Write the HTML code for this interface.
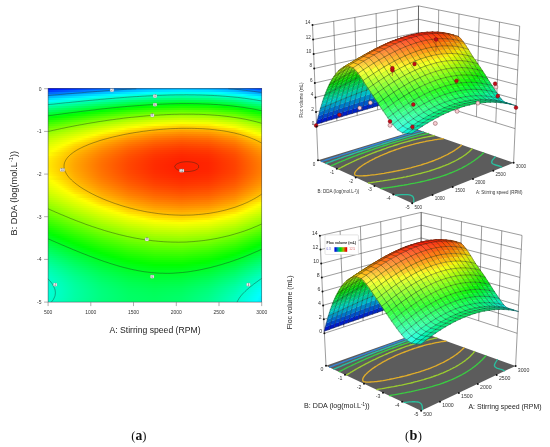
<!DOCTYPE html><html><head><meta charset="utf-8"><title>Figure</title><style>html,body{margin:0;padding:0;background:#fff}svg{display:block}.m{fill:none;stroke:#141414;stroke-width:4.2;stroke-opacity:0.8}</style></head><body><svg width="550" height="447" viewBox="0 0 550 447" font-family="'Liberation Sans',sans-serif"><defs><linearGradient id="r0"><stop offset="0%" stop-color="#000eff"/><stop offset="12.5%" stop-color="#0039ff"/><stop offset="25%" stop-color="#0067ff"/><stop offset="37.5%" stop-color="#0091ff"/><stop offset="50%" stop-color="#00b0ff"/><stop offset="62.5%" stop-color="#00beff"/><stop offset="75%" stop-color="#00b5ff"/><stop offset="87.5%" stop-color="#008fff"/><stop offset="100%" stop-color="#0045ff"/></linearGradient><linearGradient id="r1"><stop offset="0%" stop-color="#0039ff"/><stop offset="12.5%" stop-color="#0065ff"/><stop offset="25%" stop-color="#0093ff"/><stop offset="37.5%" stop-color="#00bdff"/><stop offset="50%" stop-color="#00dcff"/><stop offset="62.5%" stop-color="#00eaff"/><stop offset="75%" stop-color="#00e1ff"/><stop offset="87.5%" stop-color="#00bbff"/><stop offset="100%" stop-color="#0071ff"/></linearGradient><linearGradient id="r2"><stop offset="0%" stop-color="#0063ff"/><stop offset="12.5%" stop-color="#008fff"/><stop offset="25%" stop-color="#00bdff"/><stop offset="37.5%" stop-color="#00e7ff"/><stop offset="46.4%" stop-color="#00ffff"/><stop offset="50%" stop-color="#00fff7"/><stop offset="62.5%" stop-color="#00ffe9"/><stop offset="75%" stop-color="#00fff2"/><stop offset="80.7%" stop-color="#00ffff"/><stop offset="87.5%" stop-color="#00e6ff"/><stop offset="100%" stop-color="#009cff"/></linearGradient><linearGradient id="r3"><stop offset="0%" stop-color="#008bff"/><stop offset="12.5%" stop-color="#00b8ff"/><stop offset="25%" stop-color="#00e7ff"/><stop offset="32%" stop-color="#00ffff"/><stop offset="37.5%" stop-color="#00ffed"/><stop offset="50%" stop-color="#00ffce"/><stop offset="62.5%" stop-color="#00ffc0"/><stop offset="75%" stop-color="#00ffc8"/><stop offset="87.5%" stop-color="#00ffee"/><stop offset="91%" stop-color="#00ffff"/><stop offset="100%" stop-color="#00c6ff"/></linearGradient><linearGradient id="r4"><stop offset="0%" stop-color="#00b2ff"/><stop offset="12.5%" stop-color="#00dfff"/><stop offset="20.9%" stop-color="#00ffff"/><stop offset="25%" stop-color="#00fff0"/><stop offset="37.5%" stop-color="#00ffc5"/><stop offset="50%" stop-color="#00ffa6"/><stop offset="62.5%" stop-color="#00ff98"/><stop offset="75%" stop-color="#00ffa0"/><stop offset="87.5%" stop-color="#00ffc6"/><stop offset="97.7%" stop-color="#00ffff"/><stop offset="100%" stop-color="#00efff"/></linearGradient><linearGradient id="r5"><stop offset="0%" stop-color="#00d8ff"/><stop offset="10.7%" stop-color="#00ffff"/><stop offset="12.5%" stop-color="#00fff8"/><stop offset="25%" stop-color="#00ffc9"/><stop offset="37.5%" stop-color="#00ff9f"/><stop offset="50%" stop-color="#00ff7f"/><stop offset="62.5%" stop-color="#00ff71"/><stop offset="75%" stop-color="#00ff79"/><stop offset="87.5%" stop-color="#00ff9f"/><stop offset="100%" stop-color="#00ffe8"/></linearGradient><linearGradient id="r6"><stop offset="0%" stop-color="#00fcff"/><stop offset="12.5%" stop-color="#00ffd4"/><stop offset="25%" stop-color="#00ffa4"/><stop offset="37.5%" stop-color="#00ff7a"/><stop offset="50%" stop-color="#00ff5a"/><stop offset="62.5%" stop-color="#00ff4b"/><stop offset="75%" stop-color="#00ff54"/><stop offset="87.5%" stop-color="#00ff79"/><stop offset="100%" stop-color="#00ffc2"/></linearGradient><linearGradient id="r7"><stop offset="0%" stop-color="#00ffdf"/><stop offset="12.5%" stop-color="#00ffb0"/><stop offset="25%" stop-color="#00ff80"/><stop offset="37.5%" stop-color="#00ff56"/><stop offset="50%" stop-color="#00ff36"/><stop offset="62.5%" stop-color="#00ff27"/><stop offset="75%" stop-color="#00ff30"/><stop offset="87.5%" stop-color="#00ff55"/><stop offset="100%" stop-color="#00ff9e"/></linearGradient><linearGradient id="r8"><stop offset="0%" stop-color="#00ffbd"/><stop offset="12.5%" stop-color="#00ff8e"/><stop offset="25%" stop-color="#00ff5e"/><stop offset="37.5%" stop-color="#00ff33"/><stop offset="50%" stop-color="#00ff13"/><stop offset="62.5%" stop-color="#00ff05"/><stop offset="75%" stop-color="#00ff0d"/><stop offset="87.5%" stop-color="#00ff32"/><stop offset="100%" stop-color="#00ff7b"/></linearGradient><linearGradient id="r9"><stop offset="0%" stop-color="#00ff9c"/><stop offset="12.5%" stop-color="#00ff6d"/><stop offset="25%" stop-color="#00ff3d"/><stop offset="37.5%" stop-color="#00ff12"/><stop offset="43.8%" stop-color="#00ff00"/><stop offset="50%" stop-color="#0eff00"/><stop offset="62.5%" stop-color="#1dff00"/><stop offset="75%" stop-color="#15ff00"/><stop offset="83.1%" stop-color="#00ff00"/><stop offset="87.5%" stop-color="#00ff11"/><stop offset="100%" stop-color="#00ff59"/></linearGradient><linearGradient id="r10"><stop offset="0%" stop-color="#00ff7d"/><stop offset="12.5%" stop-color="#00ff4e"/><stop offset="25%" stop-color="#00ff1d"/><stop offset="33.1%" stop-color="#00ff00"/><stop offset="37.5%" stop-color="#0eff00"/><stop offset="50%" stop-color="#2eff00"/><stop offset="62.5%" stop-color="#3dff00"/><stop offset="75%" stop-color="#35ff00"/><stop offset="87.5%" stop-color="#10ff00"/><stop offset="90.8%" stop-color="#00ff00"/><stop offset="100%" stop-color="#00ff38"/></linearGradient><linearGradient id="r11"><stop offset="0%" stop-color="#00ff60"/><stop offset="12.5%" stop-color="#00ff2f"/><stop offset="24.6%" stop-color="#00ff00"/><stop offset="37.5%" stop-color="#2dff00"/><stop offset="50%" stop-color="#4dff00"/><stop offset="62.5%" stop-color="#5cff00"/><stop offset="75%" stop-color="#53ff00"/><stop offset="87.5%" stop-color="#2eff00"/><stop offset="96.3%" stop-color="#00ff00"/><stop offset="100%" stop-color="#00ff19"/></linearGradient><linearGradient id="r12"><stop offset="0%" stop-color="#00ff43"/><stop offset="12.5%" stop-color="#00ff12"/><stop offset="17.1%" stop-color="#00ff00"/><stop offset="25%" stop-color="#1fff00"/><stop offset="37.5%" stop-color="#4aff00"/><stop offset="50%" stop-color="#6aff00"/><stop offset="62.5%" stop-color="#79ff00"/><stop offset="75%" stop-color="#71ff00"/><stop offset="87.5%" stop-color="#4cff00"/><stop offset="100%" stop-color="#04ff00"/></linearGradient><linearGradient id="r13"><stop offset="0%" stop-color="#00ff28"/><stop offset="10.2%" stop-color="#00ff00"/><stop offset="12.5%" stop-color="#09ff00"/><stop offset="25%" stop-color="#3aff00"/><stop offset="37.5%" stop-color="#66ff00"/><stop offset="50%" stop-color="#86ff00"/><stop offset="62.5%" stop-color="#95ff00"/><stop offset="75%" stop-color="#8dff00"/><stop offset="87.5%" stop-color="#68ff00"/><stop offset="100%" stop-color="#21ff00"/></linearGradient><linearGradient id="r14"><stop offset="0%" stop-color="#00ff0e"/><stop offset="3.6%" stop-color="#00ff00"/><stop offset="12.5%" stop-color="#23ff00"/><stop offset="25%" stop-color="#55ff00"/><stop offset="37.5%" stop-color="#81ff00"/><stop offset="50%" stop-color="#a1ff00"/><stop offset="62.5%" stop-color="#b0ff00"/><stop offset="75%" stop-color="#a8ff00"/><stop offset="87.5%" stop-color="#83ff00"/><stop offset="100%" stop-color="#3cff00"/></linearGradient><linearGradient id="r15"><stop offset="0%" stop-color="#0bff00"/><stop offset="12.5%" stop-color="#3cff00"/><stop offset="25%" stop-color="#6eff00"/><stop offset="37.5%" stop-color="#9aff00"/><stop offset="50%" stop-color="#baff00"/><stop offset="62.5%" stop-color="#c9ff00"/><stop offset="75%" stop-color="#c2ff00"/><stop offset="87.5%" stop-color="#9dff00"/><stop offset="100%" stop-color="#56ff00"/></linearGradient><linearGradient id="r16"><stop offset="0%" stop-color="#22ff00"/><stop offset="12.5%" stop-color="#54ff00"/><stop offset="25%" stop-color="#86ff00"/><stop offset="37.5%" stop-color="#b2ff00"/><stop offset="50%" stop-color="#d3ff00"/><stop offset="62.5%" stop-color="#e2ff00"/><stop offset="75%" stop-color="#daff00"/><stop offset="87.5%" stop-color="#b5ff00"/><stop offset="100%" stop-color="#6fff00"/></linearGradient><linearGradient id="r17"><stop offset="0%" stop-color="#38ff00"/><stop offset="12.5%" stop-color="#6bff00"/><stop offset="25%" stop-color="#9dff00"/><stop offset="37.5%" stop-color="#c9ff00"/><stop offset="50%" stop-color="#eaff00"/><stop offset="62.5%" stop-color="#f9ff00"/><stop offset="75%" stop-color="#f1ff00"/><stop offset="87.5%" stop-color="#cdff00"/><stop offset="100%" stop-color="#86ff00"/></linearGradient><linearGradient id="r18"><stop offset="0%" stop-color="#4dff00"/><stop offset="12.5%" stop-color="#80ff00"/><stop offset="25%" stop-color="#b2ff00"/><stop offset="37.5%" stop-color="#dfff00"/><stop offset="49.9%" stop-color="#ffff00"/><stop offset="62.5%" stop-color="#ffe400"/><stop offset="75%" stop-color="#ffef00"/><stop offset="78.8%" stop-color="#ffff00"/><stop offset="87.5%" stop-color="#e3ff00"/><stop offset="100%" stop-color="#9cff00"/></linearGradient><linearGradient id="r19"><stop offset="0%" stop-color="#61ff00"/><stop offset="12.5%" stop-color="#94ff00"/><stop offset="25%" stop-color="#c7ff00"/><stop offset="37.5%" stop-color="#f3ff00"/><stop offset="41.4%" stop-color="#ffff00"/><stop offset="50%" stop-color="#ffdd00"/><stop offset="62.5%" stop-color="#ffca00"/><stop offset="75%" stop-color="#ffd300"/><stop offset="85.5%" stop-color="#ffff00"/><stop offset="87.5%" stop-color="#f7ff00"/><stop offset="100%" stop-color="#b1ff00"/></linearGradient><linearGradient id="r20"><stop offset="0%" stop-color="#73ff00"/><stop offset="12.5%" stop-color="#a7ff00"/><stop offset="25%" stop-color="#daff00"/><stop offset="35.2%" stop-color="#ffff00"/><stop offset="37.5%" stop-color="#fff000"/><stop offset="50%" stop-color="#ffc500"/><stop offset="62.5%" stop-color="#ffb400"/><stop offset="75%" stop-color="#ffbc00"/><stop offset="87.5%" stop-color="#ffe900"/><stop offset="90.1%" stop-color="#ffff00"/><stop offset="100%" stop-color="#c5ff00"/></linearGradient><linearGradient id="r21"><stop offset="0%" stop-color="#84ff00"/><stop offset="12.5%" stop-color="#b9ff00"/><stop offset="25%" stop-color="#ecff00"/><stop offset="30.1%" stop-color="#ffff00"/><stop offset="37.5%" stop-color="#ffd700"/><stop offset="50%" stop-color="#ffb100"/><stop offset="62.5%" stop-color="#ffa100"/><stop offset="75%" stop-color="#ffa900"/><stop offset="87.5%" stop-color="#ffd100"/><stop offset="93.7%" stop-color="#ffff00"/><stop offset="100%" stop-color="#d7ff00"/></linearGradient><linearGradient id="r22"><stop offset="0%" stop-color="#95ff00"/><stop offset="12.5%" stop-color="#c9ff00"/><stop offset="25%" stop-color="#fcff00"/><stop offset="37.5%" stop-color="#ffc200"/><stop offset="50%" stop-color="#ff9f00"/><stop offset="62.5%" stop-color="#ff9000"/><stop offset="75%" stop-color="#ff9700"/><stop offset="87.5%" stop-color="#ffbd00"/><stop offset="96.6%" stop-color="#ffff00"/><stop offset="100%" stop-color="#e9ff00"/></linearGradient><linearGradient id="r23"><stop offset="0%" stop-color="#a4ff00"/><stop offset="12.5%" stop-color="#d8ff00"/><stop offset="21.7%" stop-color="#ffff00"/><stop offset="25%" stop-color="#ffe700"/><stop offset="37.5%" stop-color="#ffb100"/><stop offset="50%" stop-color="#ff8f00"/><stop offset="62.5%" stop-color="#ff8100"/><stop offset="75%" stop-color="#ff8800"/><stop offset="87.5%" stop-color="#ffac00"/><stop offset="99.1%" stop-color="#ffff00"/></linearGradient><linearGradient id="r24"><stop offset="0%" stop-color="#b1ff00"/><stop offset="12.5%" stop-color="#e7ff00"/><stop offset="18.2%" stop-color="#ffff00"/><stop offset="25%" stop-color="#ffd400"/><stop offset="37.5%" stop-color="#ffa200"/><stop offset="50%" stop-color="#ff8100"/><stop offset="62.5%" stop-color="#ff7300"/><stop offset="75%" stop-color="#ff7a00"/><stop offset="87.5%" stop-color="#ff9c00"/><stop offset="100%" stop-color="#ffee00"/></linearGradient><linearGradient id="r25"><stop offset="0%" stop-color="#beff00"/><stop offset="12.5%" stop-color="#f4ff00"/><stop offset="15.1%" stop-color="#ffff00"/><stop offset="25%" stop-color="#ffc400"/><stop offset="37.5%" stop-color="#ff9400"/><stop offset="50%" stop-color="#ff7500"/><stop offset="62.5%" stop-color="#ff6600"/><stop offset="75%" stop-color="#ff6d00"/><stop offset="87.5%" stop-color="#ff8f00"/><stop offset="100%" stop-color="#ffdb00"/></linearGradient><linearGradient id="r26"><stop offset="0%" stop-color="#caff00"/><stop offset="12.3%" stop-color="#ffff00"/><stop offset="25%" stop-color="#ffb600"/><stop offset="37.5%" stop-color="#ff8800"/><stop offset="50%" stop-color="#ff6900"/><stop offset="62.5%" stop-color="#ff5b00"/><stop offset="75%" stop-color="#ff6200"/><stop offset="87.5%" stop-color="#ff8300"/><stop offset="100%" stop-color="#ffcb00"/></linearGradient><linearGradient id="r27"><stop offset="0%" stop-color="#d4ff00"/><stop offset="9.8%" stop-color="#ffff00"/><stop offset="12.5%" stop-color="#ffe900"/><stop offset="25%" stop-color="#ffaa00"/><stop offset="37.5%" stop-color="#ff7d00"/><stop offset="50%" stop-color="#ff5f00"/><stop offset="62.5%" stop-color="#ff5100"/><stop offset="75%" stop-color="#ff5800"/><stop offset="87.5%" stop-color="#ff7800"/><stop offset="100%" stop-color="#ffbd00"/></linearGradient><linearGradient id="r28"><stop offset="0%" stop-color="#deff00"/><stop offset="7.5%" stop-color="#ffff00"/><stop offset="12.5%" stop-color="#ffdb00"/><stop offset="25%" stop-color="#ffa000"/><stop offset="37.5%" stop-color="#ff7400"/><stop offset="50%" stop-color="#ff5600"/><stop offset="62.5%" stop-color="#ff4800"/><stop offset="75%" stop-color="#ff4f00"/><stop offset="87.5%" stop-color="#ff6e00"/><stop offset="100%" stop-color="#ffb200"/></linearGradient><linearGradient id="r29"><stop offset="0%" stop-color="#e7ff00"/><stop offset="5.5%" stop-color="#ffff00"/><stop offset="12.5%" stop-color="#ffd000"/><stop offset="25%" stop-color="#ff9700"/><stop offset="37.5%" stop-color="#ff6b00"/><stop offset="50%" stop-color="#ff4e00"/><stop offset="62.5%" stop-color="#ff4000"/><stop offset="75%" stop-color="#ff4700"/><stop offset="87.5%" stop-color="#ff6600"/><stop offset="100%" stop-color="#ffa800"/></linearGradient><linearGradient id="r30"><stop offset="0%" stop-color="#eeff00"/><stop offset="3.8%" stop-color="#ffff00"/><stop offset="12.5%" stop-color="#ffc700"/><stop offset="25%" stop-color="#ff8f00"/><stop offset="37.5%" stop-color="#ff6400"/><stop offset="50%" stop-color="#ff4600"/><stop offset="62.5%" stop-color="#ff3900"/><stop offset="75%" stop-color="#ff3f00"/><stop offset="87.5%" stop-color="#ff5e00"/><stop offset="100%" stop-color="#ff9f00"/></linearGradient><linearGradient id="r31"><stop offset="0%" stop-color="#f5ff00"/><stop offset="2.3%" stop-color="#ffff00"/><stop offset="12.5%" stop-color="#ffbf00"/><stop offset="25%" stop-color="#ff8800"/><stop offset="37.5%" stop-color="#ff5d00"/><stop offset="50%" stop-color="#ff4000"/><stop offset="62.5%" stop-color="#ff3300"/><stop offset="75%" stop-color="#ff3900"/><stop offset="87.5%" stop-color="#ff5800"/><stop offset="100%" stop-color="#ff9700"/></linearGradient><linearGradient id="r32"><stop offset="0%" stop-color="#fbff00"/><stop offset="12.5%" stop-color="#ffb800"/><stop offset="25%" stop-color="#ff8200"/><stop offset="37.5%" stop-color="#ff5800"/><stop offset="50%" stop-color="#ff3b00"/><stop offset="62.5%" stop-color="#ff2e00"/><stop offset="75%" stop-color="#ff3400"/><stop offset="87.5%" stop-color="#ff5200"/><stop offset="100%" stop-color="#ff9100"/></linearGradient><linearGradient id="r33"><stop offset="0%" stop-color="#fffe00"/><stop offset="12.5%" stop-color="#ffb200"/><stop offset="25%" stop-color="#ff7d00"/><stop offset="37.5%" stop-color="#ff5300"/><stop offset="50%" stop-color="#ff3600"/><stop offset="62.5%" stop-color="#ff2900"/><stop offset="75%" stop-color="#ff2f00"/><stop offset="87.5%" stop-color="#ff4d00"/><stop offset="100%" stop-color="#ff8c00"/></linearGradient><linearGradient id="r34"><stop offset="0%" stop-color="#fff500"/><stop offset="12.5%" stop-color="#ffae00"/><stop offset="25%" stop-color="#ff7900"/><stop offset="37.5%" stop-color="#ff4f00"/><stop offset="50%" stop-color="#ff3300"/><stop offset="62.5%" stop-color="#ff2600"/><stop offset="75%" stop-color="#ff2c00"/><stop offset="87.5%" stop-color="#ff4a00"/><stop offset="100%" stop-color="#ff8700"/></linearGradient><linearGradient id="r35"><stop offset="0%" stop-color="#fff000"/><stop offset="12.5%" stop-color="#ffaa00"/><stop offset="25%" stop-color="#ff7500"/><stop offset="37.5%" stop-color="#ff4c00"/><stop offset="50%" stop-color="#ff3000"/><stop offset="62.5%" stop-color="#ff2300"/><stop offset="75%" stop-color="#ff2900"/><stop offset="87.5%" stop-color="#ff4700"/><stop offset="100%" stop-color="#ff8400"/></linearGradient><linearGradient id="r36"><stop offset="0%" stop-color="#ffed00"/><stop offset="12.5%" stop-color="#ffa800"/><stop offset="25%" stop-color="#ff7300"/><stop offset="37.5%" stop-color="#ff4a00"/><stop offset="50%" stop-color="#ff2d00"/><stop offset="62.5%" stop-color="#ff2100"/><stop offset="75%" stop-color="#ff2700"/><stop offset="87.5%" stop-color="#ff4400"/><stop offset="100%" stop-color="#ff8100"/></linearGradient><linearGradient id="r37"><stop offset="0%" stop-color="#ffeb00"/><stop offset="12.5%" stop-color="#ffa600"/><stop offset="25%" stop-color="#ff7100"/><stop offset="37.5%" stop-color="#ff4800"/><stop offset="50%" stop-color="#ff2c00"/><stop offset="62.5%" stop-color="#ff1f00"/><stop offset="75%" stop-color="#ff2500"/><stop offset="87.5%" stop-color="#ff4300"/><stop offset="100%" stop-color="#ff7f00"/></linearGradient><linearGradient id="r38"><stop offset="0%" stop-color="#ffea00"/><stop offset="12.5%" stop-color="#ffa500"/><stop offset="25%" stop-color="#ff7000"/><stop offset="37.5%" stop-color="#ff4700"/><stop offset="50%" stop-color="#ff2b00"/><stop offset="62.5%" stop-color="#ff1e00"/><stop offset="75%" stop-color="#ff2500"/><stop offset="87.5%" stop-color="#ff4200"/><stop offset="100%" stop-color="#ff7e00"/></linearGradient><linearGradient id="r39"><stop offset="0%" stop-color="#ffea00"/><stop offset="12.5%" stop-color="#ffa500"/><stop offset="25%" stop-color="#ff7000"/><stop offset="37.5%" stop-color="#ff4700"/><stop offset="50%" stop-color="#ff2b00"/><stop offset="62.5%" stop-color="#ff1e00"/><stop offset="75%" stop-color="#ff2500"/><stop offset="87.5%" stop-color="#ff4200"/><stop offset="100%" stop-color="#ff7e00"/></linearGradient><linearGradient id="r40"><stop offset="0%" stop-color="#ffec00"/><stop offset="12.5%" stop-color="#ffa600"/><stop offset="25%" stop-color="#ff7100"/><stop offset="37.5%" stop-color="#ff4700"/><stop offset="50%" stop-color="#ff2b00"/><stop offset="62.5%" stop-color="#ff1f00"/><stop offset="75%" stop-color="#ff2500"/><stop offset="87.5%" stop-color="#ff4200"/><stop offset="100%" stop-color="#ff7e00"/></linearGradient><linearGradient id="r41"><stop offset="0%" stop-color="#ffee00"/><stop offset="12.5%" stop-color="#ffa700"/><stop offset="25%" stop-color="#ff7200"/><stop offset="37.5%" stop-color="#ff4900"/><stop offset="50%" stop-color="#ff2d00"/><stop offset="62.5%" stop-color="#ff2000"/><stop offset="75%" stop-color="#ff2600"/><stop offset="87.5%" stop-color="#ff4400"/><stop offset="100%" stop-color="#ff8000"/></linearGradient><linearGradient id="r42"><stop offset="0%" stop-color="#fff200"/><stop offset="12.5%" stop-color="#ffaa00"/><stop offset="25%" stop-color="#ff7400"/><stop offset="37.5%" stop-color="#ff4a00"/><stop offset="50%" stop-color="#ff2e00"/><stop offset="62.5%" stop-color="#ff2200"/><stop offset="75%" stop-color="#ff2800"/><stop offset="87.5%" stop-color="#ff4500"/><stop offset="100%" stop-color="#ff8100"/></linearGradient><linearGradient id="r43"><stop offset="0%" stop-color="#fff700"/><stop offset="12.5%" stop-color="#ffad00"/><stop offset="25%" stop-color="#ff7600"/><stop offset="37.5%" stop-color="#ff4d00"/><stop offset="50%" stop-color="#ff3100"/><stop offset="62.5%" stop-color="#ff2400"/><stop offset="75%" stop-color="#ff2b00"/><stop offset="87.5%" stop-color="#ff4800"/><stop offset="100%" stop-color="#ff8400"/></linearGradient><linearGradient id="r44"><stop offset="0%" stop-color="#ffff00"/><stop offset="12.5%" stop-color="#ffb000"/><stop offset="25%" stop-color="#ff7900"/><stop offset="37.5%" stop-color="#ff5000"/><stop offset="50%" stop-color="#ff3300"/><stop offset="62.5%" stop-color="#ff2700"/><stop offset="75%" stop-color="#ff2e00"/><stop offset="87.5%" stop-color="#ff4b00"/><stop offset="100%" stop-color="#ff8700"/></linearGradient><linearGradient id="r45"><stop offset="0%" stop-color="#faff00"/><stop offset="12.5%" stop-color="#ffb500"/><stop offset="25%" stop-color="#ff7d00"/><stop offset="37.5%" stop-color="#ff5300"/><stop offset="50%" stop-color="#ff3700"/><stop offset="62.5%" stop-color="#ff2b00"/><stop offset="75%" stop-color="#ff3100"/><stop offset="87.5%" stop-color="#ff4f00"/><stop offset="100%" stop-color="#ff8b00"/></linearGradient><linearGradient id="r46"><stop offset="0%" stop-color="#f5ff00"/><stop offset="2%" stop-color="#ffff00"/><stop offset="12.5%" stop-color="#ffba00"/><stop offset="25%" stop-color="#ff8100"/><stop offset="37.5%" stop-color="#ff5700"/><stop offset="50%" stop-color="#ff3b00"/><stop offset="62.5%" stop-color="#ff2f00"/><stop offset="75%" stop-color="#ff3500"/><stop offset="87.5%" stop-color="#ff5300"/><stop offset="100%" stop-color="#ff9000"/></linearGradient><linearGradient id="r47"><stop offset="0%" stop-color="#f0ff00"/><stop offset="3.1%" stop-color="#ffff00"/><stop offset="12.5%" stop-color="#ffbf00"/><stop offset="25%" stop-color="#ff8600"/><stop offset="37.5%" stop-color="#ff5c00"/><stop offset="50%" stop-color="#ff3f00"/><stop offset="62.5%" stop-color="#ff3300"/><stop offset="75%" stop-color="#ff3a00"/><stop offset="87.5%" stop-color="#ff5800"/><stop offset="100%" stop-color="#ff9500"/></linearGradient><linearGradient id="r48"><stop offset="0%" stop-color="#eaff00"/><stop offset="4.3%" stop-color="#ffff00"/><stop offset="12.5%" stop-color="#ffc600"/><stop offset="25%" stop-color="#ff8c00"/><stop offset="37.5%" stop-color="#ff6100"/><stop offset="50%" stop-color="#ff4400"/><stop offset="62.5%" stop-color="#ff3800"/><stop offset="75%" stop-color="#ff3f00"/><stop offset="87.5%" stop-color="#ff5d00"/><stop offset="100%" stop-color="#ff9b00"/></linearGradient><linearGradient id="r49"><stop offset="0%" stop-color="#e4ff00"/><stop offset="5.6%" stop-color="#ffff00"/><stop offset="12.5%" stop-color="#ffcd00"/><stop offset="25%" stop-color="#ff9200"/><stop offset="37.5%" stop-color="#ff6700"/><stop offset="50%" stop-color="#ff4a00"/><stop offset="62.5%" stop-color="#ff3e00"/><stop offset="75%" stop-color="#ff4500"/><stop offset="87.5%" stop-color="#ff6300"/><stop offset="100%" stop-color="#ffa200"/></linearGradient><linearGradient id="r50"><stop offset="0%" stop-color="#ddff00"/><stop offset="7%" stop-color="#ffff00"/><stop offset="12.5%" stop-color="#ffd600"/><stop offset="25%" stop-color="#ff9900"/><stop offset="37.5%" stop-color="#ff6d00"/><stop offset="50%" stop-color="#ff5000"/><stop offset="62.5%" stop-color="#ff4400"/><stop offset="75%" stop-color="#ff4b00"/><stop offset="87.5%" stop-color="#ff6a00"/><stop offset="100%" stop-color="#ffaa00"/></linearGradient><linearGradient id="r51"><stop offset="0%" stop-color="#d5ff00"/><stop offset="8.5%" stop-color="#ffff00"/><stop offset="12.5%" stop-color="#ffdf00"/><stop offset="25%" stop-color="#ffa000"/><stop offset="37.5%" stop-color="#ff7400"/><stop offset="50%" stop-color="#ff5700"/><stop offset="62.5%" stop-color="#ff4a00"/><stop offset="75%" stop-color="#ff5200"/><stop offset="87.5%" stop-color="#ff7100"/><stop offset="100%" stop-color="#ffb200"/></linearGradient><linearGradient id="r52"><stop offset="0%" stop-color="#ceff00"/><stop offset="10.1%" stop-color="#ffff00"/><stop offset="12.5%" stop-color="#ffea00"/><stop offset="25%" stop-color="#ffa800"/><stop offset="37.5%" stop-color="#ff7b00"/><stop offset="50%" stop-color="#ff5e00"/><stop offset="62.5%" stop-color="#ff5100"/><stop offset="75%" stop-color="#ff5900"/><stop offset="87.5%" stop-color="#ff7900"/><stop offset="100%" stop-color="#ffbb00"/></linearGradient><linearGradient id="r53"><stop offset="0%" stop-color="#c5ff00"/><stop offset="11.8%" stop-color="#ffff00"/><stop offset="25%" stop-color="#ffb000"/><stop offset="37.5%" stop-color="#ff8200"/><stop offset="50%" stop-color="#ff6500"/><stop offset="62.5%" stop-color="#ff5900"/><stop offset="75%" stop-color="#ff6000"/><stop offset="87.5%" stop-color="#ff8100"/><stop offset="100%" stop-color="#ffc400"/></linearGradient><linearGradient id="r54"><stop offset="0%" stop-color="#bdff00"/><stop offset="12.5%" stop-color="#faff00"/><stop offset="25%" stop-color="#ffba00"/><stop offset="37.5%" stop-color="#ff8b00"/><stop offset="50%" stop-color="#ff6d00"/><stop offset="62.5%" stop-color="#ff6100"/><stop offset="75%" stop-color="#ff6900"/><stop offset="87.5%" stop-color="#ff8a00"/><stop offset="100%" stop-color="#ffcf00"/></linearGradient><linearGradient id="r55"><stop offset="0%" stop-color="#b4ff00"/><stop offset="12.5%" stop-color="#f1ff00"/><stop offset="15.5%" stop-color="#ffff00"/><stop offset="25%" stop-color="#ffc400"/><stop offset="37.5%" stop-color="#ff9400"/><stop offset="50%" stop-color="#ff7500"/><stop offset="62.5%" stop-color="#ff6900"/><stop offset="75%" stop-color="#ff7100"/><stop offset="87.5%" stop-color="#ff9300"/><stop offset="100%" stop-color="#ffdb00"/></linearGradient><linearGradient id="r56"><stop offset="0%" stop-color="#abff00"/><stop offset="12.5%" stop-color="#e8ff00"/><stop offset="17.5%" stop-color="#ffff00"/><stop offset="25%" stop-color="#ffce00"/><stop offset="37.5%" stop-color="#ff9d00"/><stop offset="50%" stop-color="#ff7e00"/><stop offset="62.5%" stop-color="#ff7200"/><stop offset="75%" stop-color="#ff7b00"/><stop offset="87.5%" stop-color="#ff9d00"/><stop offset="100%" stop-color="#ffe900"/></linearGradient><linearGradient id="r57"><stop offset="0%" stop-color="#a1ff00"/><stop offset="12.5%" stop-color="#deff00"/><stop offset="19.7%" stop-color="#ffff00"/><stop offset="25%" stop-color="#ffda00"/><stop offset="37.5%" stop-color="#ffa700"/><stop offset="50%" stop-color="#ff8800"/><stop offset="62.5%" stop-color="#ff7b00"/><stop offset="75%" stop-color="#ff8400"/><stop offset="87.5%" stop-color="#ffa700"/><stop offset="100%" stop-color="#fffa00"/></linearGradient><linearGradient id="r58"><stop offset="0%" stop-color="#97ff00"/><stop offset="12.5%" stop-color="#d5ff00"/><stop offset="21.9%" stop-color="#ffff00"/><stop offset="25%" stop-color="#ffe800"/><stop offset="37.5%" stop-color="#ffb100"/><stop offset="50%" stop-color="#ff9200"/><stop offset="62.5%" stop-color="#ff8500"/><stop offset="75%" stop-color="#ff8e00"/><stop offset="87.5%" stop-color="#ffb300"/><stop offset="98.6%" stop-color="#ffff00"/><stop offset="100%" stop-color="#f6ff00"/></linearGradient><linearGradient id="r59"><stop offset="0%" stop-color="#8dff00"/><stop offset="12.5%" stop-color="#cbff00"/><stop offset="24.3%" stop-color="#ffff00"/><stop offset="37.5%" stop-color="#ffbd00"/><stop offset="50%" stop-color="#ff9c00"/><stop offset="62.5%" stop-color="#ff9000"/><stop offset="75%" stop-color="#ff9900"/><stop offset="87.5%" stop-color="#ffbf00"/><stop offset="96.8%" stop-color="#ffff00"/><stop offset="100%" stop-color="#ebff00"/></linearGradient><linearGradient id="r60"><stop offset="0%" stop-color="#83ff00"/><stop offset="12.5%" stop-color="#c0ff00"/><stop offset="25%" stop-color="#f7ff00"/><stop offset="26.9%" stop-color="#ffff00"/><stop offset="37.5%" stop-color="#ffc900"/><stop offset="50%" stop-color="#ffa700"/><stop offset="62.5%" stop-color="#ff9b00"/><stop offset="75%" stop-color="#ffa500"/><stop offset="87.5%" stop-color="#ffcc00"/><stop offset="94.8%" stop-color="#ffff00"/><stop offset="100%" stop-color="#e0ff00"/></linearGradient><linearGradient id="r61"><stop offset="0%" stop-color="#78ff00"/><stop offset="12.5%" stop-color="#b6ff00"/><stop offset="25%" stop-color="#edff00"/><stop offset="29.7%" stop-color="#ffff00"/><stop offset="37.5%" stop-color="#ffd600"/><stop offset="50%" stop-color="#ffb300"/><stop offset="62.5%" stop-color="#ffa600"/><stop offset="75%" stop-color="#ffb100"/><stop offset="87.5%" stop-color="#ffda00"/><stop offset="92.6%" stop-color="#ffff00"/><stop offset="100%" stop-color="#d4ff00"/></linearGradient><linearGradient id="r62"><stop offset="0%" stop-color="#6eff00"/><stop offset="12.5%" stop-color="#abff00"/><stop offset="25%" stop-color="#e2ff00"/><stop offset="32.8%" stop-color="#ffff00"/><stop offset="37.5%" stop-color="#ffe400"/><stop offset="50%" stop-color="#ffbf00"/><stop offset="62.5%" stop-color="#ffb200"/><stop offset="75%" stop-color="#ffbd00"/><stop offset="87.5%" stop-color="#ffeb00"/><stop offset="90.1%" stop-color="#ffff00"/><stop offset="100%" stop-color="#c9ff00"/></linearGradient><linearGradient id="r63"><stop offset="0%" stop-color="#63ff00"/><stop offset="12.5%" stop-color="#a0ff00"/><stop offset="25%" stop-color="#d7ff00"/><stop offset="36.2%" stop-color="#ffff00"/><stop offset="37.5%" stop-color="#fff600"/><stop offset="50%" stop-color="#ffcc00"/><stop offset="62.5%" stop-color="#ffbf00"/><stop offset="75%" stop-color="#ffcb00"/><stop offset="87.2%" stop-color="#ffff00"/><stop offset="100%" stop-color="#bcff00"/></linearGradient><linearGradient id="r64"><stop offset="0%" stop-color="#58ff00"/><stop offset="12.5%" stop-color="#95ff00"/><stop offset="25%" stop-color="#ccff00"/><stop offset="37.5%" stop-color="#f8ff00"/><stop offset="40%" stop-color="#ffff00"/><stop offset="50%" stop-color="#ffdb00"/><stop offset="62.5%" stop-color="#ffcd00"/><stop offset="75%" stop-color="#ffda00"/><stop offset="83.8%" stop-color="#ffff00"/><stop offset="87.5%" stop-color="#f2ff00"/><stop offset="100%" stop-color="#b0ff00"/></linearGradient><linearGradient id="r65"><stop offset="0%" stop-color="#4dff00"/><stop offset="12.5%" stop-color="#8aff00"/><stop offset="25%" stop-color="#c1ff00"/><stop offset="37.5%" stop-color="#ecff00"/><stop offset="44.7%" stop-color="#ffff00"/><stop offset="50%" stop-color="#ffeb00"/><stop offset="62.5%" stop-color="#ffdc00"/><stop offset="75%" stop-color="#ffeb00"/><stop offset="79.7%" stop-color="#ffff00"/><stop offset="87.5%" stop-color="#e5ff00"/><stop offset="100%" stop-color="#a4ff00"/></linearGradient><linearGradient id="r66"><stop offset="0%" stop-color="#41ff00"/><stop offset="12.5%" stop-color="#7fff00"/><stop offset="25%" stop-color="#b5ff00"/><stop offset="37.5%" stop-color="#e1ff00"/><stop offset="50%" stop-color="#feff00"/><stop offset="62.5%" stop-color="#ffed00"/><stop offset="73.9%" stop-color="#ffff00"/><stop offset="87.5%" stop-color="#d8ff00"/><stop offset="100%" stop-color="#97ff00"/></linearGradient><linearGradient id="r67"><stop offset="0%" stop-color="#36ff00"/><stop offset="12.5%" stop-color="#74ff00"/><stop offset="25%" stop-color="#aaff00"/><stop offset="37.5%" stop-color="#d5ff00"/><stop offset="50%" stop-color="#f2ff00"/><stop offset="62.5%" stop-color="#fcff00"/><stop offset="75%" stop-color="#f0ff00"/><stop offset="87.5%" stop-color="#ccff00"/><stop offset="100%" stop-color="#8aff00"/></linearGradient><linearGradient id="r68"><stop offset="0%" stop-color="#2bff00"/><stop offset="12.5%" stop-color="#68ff00"/><stop offset="25%" stop-color="#9eff00"/><stop offset="37.5%" stop-color="#c9ff00"/><stop offset="50%" stop-color="#e5ff00"/><stop offset="62.5%" stop-color="#efff00"/><stop offset="75%" stop-color="#e4ff00"/><stop offset="87.5%" stop-color="#bfff00"/><stop offset="100%" stop-color="#7dff00"/></linearGradient><linearGradient id="r69"><stop offset="0%" stop-color="#1fff00"/><stop offset="12.5%" stop-color="#5dff00"/><stop offset="25%" stop-color="#93ff00"/><stop offset="37.5%" stop-color="#bdff00"/><stop offset="50%" stop-color="#d9ff00"/><stop offset="62.5%" stop-color="#e3ff00"/><stop offset="75%" stop-color="#d7ff00"/><stop offset="87.5%" stop-color="#b2ff00"/><stop offset="100%" stop-color="#70ff00"/></linearGradient><linearGradient id="r70"><stop offset="0%" stop-color="#14ff00"/><stop offset="12.5%" stop-color="#52ff00"/><stop offset="25%" stop-color="#87ff00"/><stop offset="37.5%" stop-color="#b1ff00"/><stop offset="50%" stop-color="#cdff00"/><stop offset="62.5%" stop-color="#d6ff00"/><stop offset="75%" stop-color="#caff00"/><stop offset="87.5%" stop-color="#a5ff00"/><stop offset="100%" stop-color="#63ff00"/></linearGradient><linearGradient id="r71"><stop offset="0%" stop-color="#09ff00"/><stop offset="12.5%" stop-color="#46ff00"/><stop offset="25%" stop-color="#7cff00"/><stop offset="37.5%" stop-color="#a6ff00"/><stop offset="50%" stop-color="#c1ff00"/><stop offset="62.5%" stop-color="#caff00"/><stop offset="75%" stop-color="#bdff00"/><stop offset="87.5%" stop-color="#98ff00"/><stop offset="100%" stop-color="#56ff00"/></linearGradient><linearGradient id="r72"><stop offset="0%" stop-color="#00ff03"/><stop offset="12.5%" stop-color="#3bff00"/><stop offset="25%" stop-color="#70ff00"/><stop offset="37.5%" stop-color="#9aff00"/><stop offset="50%" stop-color="#b5ff00"/><stop offset="62.5%" stop-color="#bdff00"/><stop offset="75%" stop-color="#b0ff00"/><stop offset="87.5%" stop-color="#8aff00"/><stop offset="100%" stop-color="#48ff00"/></linearGradient><linearGradient id="r73"><stop offset="0%" stop-color="#00ff0e"/><stop offset="2.7%" stop-color="#00ff00"/><stop offset="12.5%" stop-color="#2fff00"/><stop offset="25%" stop-color="#64ff00"/><stop offset="37.5%" stop-color="#8eff00"/><stop offset="50%" stop-color="#a8ff00"/><stop offset="62.5%" stop-color="#b1ff00"/><stop offset="75%" stop-color="#a3ff00"/><stop offset="87.5%" stop-color="#7dff00"/><stop offset="100%" stop-color="#3bff00"/></linearGradient><linearGradient id="r74"><stop offset="0%" stop-color="#00ff19"/><stop offset="4.9%" stop-color="#00ff00"/><stop offset="12.5%" stop-color="#24ff00"/><stop offset="25%" stop-color="#59ff00"/><stop offset="37.5%" stop-color="#82ff00"/><stop offset="50%" stop-color="#9cff00"/><stop offset="62.5%" stop-color="#a4ff00"/><stop offset="75%" stop-color="#96ff00"/><stop offset="87.5%" stop-color="#70ff00"/><stop offset="100%" stop-color="#2dff00"/></linearGradient><linearGradient id="r75"><stop offset="0%" stop-color="#00ff24"/><stop offset="7.2%" stop-color="#00ff00"/><stop offset="12.5%" stop-color="#19ff00"/><stop offset="25%" stop-color="#4dff00"/><stop offset="37.5%" stop-color="#76ff00"/><stop offset="50%" stop-color="#90ff00"/><stop offset="62.5%" stop-color="#97ff00"/><stop offset="75%" stop-color="#89ff00"/><stop offset="87.5%" stop-color="#63ff00"/><stop offset="100%" stop-color="#20ff00"/></linearGradient><linearGradient id="r76"><stop offset="0%" stop-color="#00ff2f"/><stop offset="9.5%" stop-color="#00ff00"/><stop offset="12.5%" stop-color="#0eff00"/><stop offset="25%" stop-color="#42ff00"/><stop offset="37.5%" stop-color="#6aff00"/><stop offset="50%" stop-color="#84ff00"/><stop offset="62.5%" stop-color="#8bff00"/><stop offset="75%" stop-color="#7cff00"/><stop offset="87.5%" stop-color="#55ff00"/><stop offset="100%" stop-color="#13ff00"/></linearGradient><linearGradient id="r77"><stop offset="0%" stop-color="#00ff3a"/><stop offset="11.8%" stop-color="#00ff00"/><stop offset="25%" stop-color="#37ff00"/><stop offset="37.5%" stop-color="#5fff00"/><stop offset="50%" stop-color="#78ff00"/><stop offset="62.5%" stop-color="#7eff00"/><stop offset="75%" stop-color="#70ff00"/><stop offset="87.5%" stop-color="#48ff00"/><stop offset="100%" stop-color="#05ff00"/></linearGradient><linearGradient id="r78"><stop offset="0%" stop-color="#00ff44"/><stop offset="12.5%" stop-color="#00ff08"/><stop offset="14.2%" stop-color="#00ff00"/><stop offset="25%" stop-color="#2cff00"/><stop offset="37.5%" stop-color="#53ff00"/><stop offset="50%" stop-color="#6cff00"/><stop offset="62.5%" stop-color="#72ff00"/><stop offset="75%" stop-color="#63ff00"/><stop offset="87.5%" stop-color="#3bff00"/><stop offset="98.8%" stop-color="#00ff00"/><stop offset="100%" stop-color="#00ff08"/></linearGradient><linearGradient id="r79"><stop offset="0%" stop-color="#00ff4f"/><stop offset="12.5%" stop-color="#00ff12"/><stop offset="16.7%" stop-color="#00ff00"/><stop offset="25%" stop-color="#21ff00"/><stop offset="37.5%" stop-color="#48ff00"/><stop offset="50%" stop-color="#60ff00"/><stop offset="62.5%" stop-color="#66ff00"/><stop offset="75%" stop-color="#56ff00"/><stop offset="87.5%" stop-color="#2eff00"/><stop offset="96.6%" stop-color="#00ff00"/><stop offset="100%" stop-color="#00ff15"/></linearGradient><linearGradient id="r80"><stop offset="0%" stop-color="#00ff59"/><stop offset="12.5%" stop-color="#00ff1d"/><stop offset="19.2%" stop-color="#00ff00"/><stop offset="25%" stop-color="#16ff00"/><stop offset="37.5%" stop-color="#3dff00"/><stop offset="50%" stop-color="#55ff00"/><stop offset="62.5%" stop-color="#5aff00"/><stop offset="75%" stop-color="#4aff00"/><stop offset="87.5%" stop-color="#21ff00"/><stop offset="94.3%" stop-color="#00ff00"/><stop offset="100%" stop-color="#00ff22"/></linearGradient><linearGradient id="r81"><stop offset="0%" stop-color="#00ff63"/><stop offset="12.5%" stop-color="#00ff27"/><stop offset="21.8%" stop-color="#00ff00"/><stop offset="25%" stop-color="#0cff00"/><stop offset="37.5%" stop-color="#32ff00"/><stop offset="50%" stop-color="#49ff00"/><stop offset="62.5%" stop-color="#4eff00"/><stop offset="75%" stop-color="#3dff00"/><stop offset="87.5%" stop-color="#15ff00"/><stop offset="91.9%" stop-color="#00ff00"/><stop offset="100%" stop-color="#00ff2f"/></linearGradient><linearGradient id="r82"><stop offset="0%" stop-color="#00ff6c"/><stop offset="12.5%" stop-color="#00ff31"/><stop offset="24.6%" stop-color="#00ff00"/><stop offset="37.5%" stop-color="#27ff00"/><stop offset="50%" stop-color="#3eff00"/><stop offset="62.5%" stop-color="#42ff00"/><stop offset="75%" stop-color="#31ff00"/><stop offset="87.5%" stop-color="#08ff00"/><stop offset="89.3%" stop-color="#00ff00"/><stop offset="100%" stop-color="#00ff3c"/></linearGradient><linearGradient id="r83"><stop offset="0%" stop-color="#00ff76"/><stop offset="12.5%" stop-color="#00ff3a"/><stop offset="25%" stop-color="#00ff09"/><stop offset="27.5%" stop-color="#00ff00"/><stop offset="37.5%" stop-color="#1dff00"/><stop offset="50%" stop-color="#33ff00"/><stop offset="62.5%" stop-color="#37ff00"/><stop offset="75%" stop-color="#25ff00"/><stop offset="86.5%" stop-color="#00ff00"/><stop offset="100%" stop-color="#00ff49"/></linearGradient><linearGradient id="r84"><stop offset="0%" stop-color="#00ff7f"/><stop offset="12.5%" stop-color="#00ff44"/><stop offset="25%" stop-color="#00ff12"/><stop offset="30.6%" stop-color="#00ff00"/><stop offset="37.5%" stop-color="#13ff00"/><stop offset="50%" stop-color="#28ff00"/><stop offset="62.5%" stop-color="#2bff00"/><stop offset="75%" stop-color="#1aff00"/><stop offset="83.5%" stop-color="#00ff00"/><stop offset="87.5%" stop-color="#00ff10"/><stop offset="100%" stop-color="#00ff55"/></linearGradient><linearGradient id="r85"><stop offset="0%" stop-color="#00ff88"/><stop offset="12.5%" stop-color="#00ff4d"/><stop offset="25%" stop-color="#00ff1c"/><stop offset="34.1%" stop-color="#00ff00"/><stop offset="37.5%" stop-color="#09ff00"/><stop offset="50%" stop-color="#1eff00"/><stop offset="62.5%" stop-color="#20ff00"/><stop offset="75%" stop-color="#0eff00"/><stop offset="80%" stop-color="#00ff00"/><stop offset="87.5%" stop-color="#00ff1c"/><stop offset="100%" stop-color="#00ff61"/></linearGradient><linearGradient id="r86"><stop offset="0%" stop-color="#00ff90"/><stop offset="12.5%" stop-color="#00ff56"/><stop offset="25%" stop-color="#00ff25"/><stop offset="37.5%" stop-color="#00ff01"/><stop offset="50%" stop-color="#13ff00"/><stop offset="62.5%" stop-color="#16ff00"/><stop offset="75%" stop-color="#03ff00"/><stop offset="87.5%" stop-color="#00ff28"/><stop offset="100%" stop-color="#00ff6d"/></linearGradient><linearGradient id="r87"><stop offset="0%" stop-color="#00ff98"/><stop offset="12.5%" stop-color="#00ff5e"/><stop offset="25%" stop-color="#00ff2e"/><stop offset="37.5%" stop-color="#00ff0a"/><stop offset="42.8%" stop-color="#00ff00"/><stop offset="50%" stop-color="#09ff00"/><stop offset="62.5%" stop-color="#0bff00"/><stop offset="71.1%" stop-color="#00ff00"/><stop offset="75%" stop-color="#00ff08"/><stop offset="87.5%" stop-color="#00ff34"/><stop offset="100%" stop-color="#00ff79"/></linearGradient><linearGradient id="r88"><stop offset="0%" stop-color="#00ffa0"/><stop offset="12.5%" stop-color="#00ff66"/><stop offset="25%" stop-color="#00ff36"/><stop offset="37.5%" stop-color="#00ff14"/><stop offset="50%" stop-color="#00ff00"/><stop offset="62.5%" stop-color="#01ff00"/><stop offset="75%" stop-color="#00ff13"/><stop offset="87.5%" stop-color="#00ff3f"/><stop offset="100%" stop-color="#00ff85"/></linearGradient><linearGradient id="r89"><stop offset="0%" stop-color="#00ffa7"/><stop offset="12.5%" stop-color="#00ff6e"/><stop offset="25%" stop-color="#00ff3e"/><stop offset="37.5%" stop-color="#00ff1c"/><stop offset="50%" stop-color="#00ff0a"/><stop offset="62.5%" stop-color="#00ff09"/><stop offset="75%" stop-color="#00ff1e"/><stop offset="87.5%" stop-color="#00ff4a"/><stop offset="100%" stop-color="#00ff90"/></linearGradient><linearGradient id="r90"><stop offset="0%" stop-color="#00ffae"/><stop offset="12.5%" stop-color="#00ff75"/><stop offset="25%" stop-color="#00ff46"/><stop offset="37.5%" stop-color="#00ff25"/><stop offset="50%" stop-color="#00ff12"/><stop offset="62.5%" stop-color="#00ff13"/><stop offset="75%" stop-color="#00ff28"/><stop offset="87.5%" stop-color="#00ff54"/><stop offset="100%" stop-color="#00ff9b"/></linearGradient><linearGradient id="r91"><stop offset="0%" stop-color="#00ffb5"/><stop offset="12.5%" stop-color="#00ff7c"/><stop offset="25%" stop-color="#00ff4e"/><stop offset="37.5%" stop-color="#00ff2c"/><stop offset="50%" stop-color="#00ff1b"/><stop offset="62.5%" stop-color="#00ff1c"/><stop offset="75%" stop-color="#00ff32"/><stop offset="87.5%" stop-color="#00ff5f"/><stop offset="100%" stop-color="#00ffa6"/></linearGradient><linearGradient id="r92"><stop offset="0%" stop-color="#00ffbb"/><stop offset="12.5%" stop-color="#00ff82"/><stop offset="25%" stop-color="#00ff55"/><stop offset="37.5%" stop-color="#00ff34"/><stop offset="50%" stop-color="#00ff23"/><stop offset="62.5%" stop-color="#00ff25"/><stop offset="75%" stop-color="#00ff3b"/><stop offset="87.5%" stop-color="#00ff69"/><stop offset="100%" stop-color="#00ffb0"/></linearGradient><linearGradient id="r93"><stop offset="0%" stop-color="#00ffc0"/><stop offset="12.5%" stop-color="#00ff88"/><stop offset="25%" stop-color="#00ff5b"/><stop offset="37.5%" stop-color="#00ff3b"/><stop offset="50%" stop-color="#00ff2b"/><stop offset="62.5%" stop-color="#00ff2d"/><stop offset="75%" stop-color="#00ff44"/><stop offset="87.5%" stop-color="#00ff72"/><stop offset="100%" stop-color="#00ffba"/></linearGradient><linearGradient id="r94"><stop offset="0%" stop-color="#00ffc5"/><stop offset="12.5%" stop-color="#00ff8e"/><stop offset="25%" stop-color="#00ff61"/><stop offset="37.5%" stop-color="#00ff42"/><stop offset="50%" stop-color="#00ff32"/><stop offset="62.5%" stop-color="#00ff35"/><stop offset="75%" stop-color="#00ff4d"/><stop offset="87.5%" stop-color="#00ff7b"/><stop offset="100%" stop-color="#00ffc4"/></linearGradient><linearGradient id="r95"><stop offset="0%" stop-color="#00ffca"/><stop offset="12.5%" stop-color="#00ff92"/><stop offset="25%" stop-color="#00ff66"/><stop offset="37.5%" stop-color="#00ff48"/><stop offset="50%" stop-color="#00ff39"/><stop offset="62.5%" stop-color="#00ff3d"/><stop offset="75%" stop-color="#00ff55"/><stop offset="87.5%" stop-color="#00ff84"/><stop offset="100%" stop-color="#00ffcd"/></linearGradient><linearGradient id="r96"><stop offset="0%" stop-color="#00ffcd"/><stop offset="12.5%" stop-color="#00ff97"/><stop offset="25%" stop-color="#00ff6b"/><stop offset="37.5%" stop-color="#00ff4d"/><stop offset="50%" stop-color="#00ff3f"/><stop offset="62.5%" stop-color="#00ff44"/><stop offset="75%" stop-color="#00ff5d"/><stop offset="87.5%" stop-color="#00ff8c"/><stop offset="100%" stop-color="#00ffd6"/></linearGradient><linearGradient id="r97"><stop offset="0%" stop-color="#00ffd1"/><stop offset="12.5%" stop-color="#00ff9b"/><stop offset="25%" stop-color="#00ff70"/><stop offset="37.5%" stop-color="#00ff53"/><stop offset="50%" stop-color="#00ff45"/><stop offset="62.5%" stop-color="#00ff4a"/><stop offset="75%" stop-color="#00ff64"/><stop offset="87.5%" stop-color="#00ff94"/><stop offset="100%" stop-color="#00ffde"/></linearGradient><linearGradient id="r98"><stop offset="0%" stop-color="#00ffd3"/><stop offset="12.5%" stop-color="#00ff9e"/><stop offset="25%" stop-color="#00ff74"/><stop offset="37.5%" stop-color="#00ff57"/><stop offset="50%" stop-color="#00ff4b"/><stop offset="62.5%" stop-color="#00ff50"/><stop offset="75%" stop-color="#00ff6b"/><stop offset="87.5%" stop-color="#00ff9c"/><stop offset="100%" stop-color="#00ffe6"/></linearGradient><linearGradient id="r99"><stop offset="0%" stop-color="#00ffd6"/><stop offset="12.5%" stop-color="#00ffa0"/><stop offset="25%" stop-color="#00ff77"/><stop offset="37.5%" stop-color="#00ff5b"/><stop offset="50%" stop-color="#00ff4f"/><stop offset="62.5%" stop-color="#00ff56"/><stop offset="75%" stop-color="#00ff71"/><stop offset="87.5%" stop-color="#00ffa3"/><stop offset="100%" stop-color="#00ffed"/></linearGradient><linearGradient id="r100"><stop offset="0%" stop-color="#00ffd7"/><stop offset="12.5%" stop-color="#00ffa2"/><stop offset="25%" stop-color="#00ff7a"/><stop offset="37.5%" stop-color="#00ff5f"/><stop offset="50%" stop-color="#00ff54"/><stop offset="62.5%" stop-color="#00ff5b"/><stop offset="75%" stop-color="#00ff77"/><stop offset="87.5%" stop-color="#00ffa9"/><stop offset="100%" stop-color="#00fff4"/></linearGradient><linearGradient id="r101"><stop offset="0%" stop-color="#00ffd8"/><stop offset="12.5%" stop-color="#00ffa4"/><stop offset="25%" stop-color="#00ff7c"/><stop offset="37.5%" stop-color="#00ff61"/><stop offset="50%" stop-color="#00ff57"/><stop offset="62.5%" stop-color="#00ff5f"/><stop offset="75%" stop-color="#00ff7c"/><stop offset="87.5%" stop-color="#00ffaf"/><stop offset="100%" stop-color="#00fffb"/></linearGradient><linearGradient id="r102"><stop offset="0%" stop-color="#00ffd8"/><stop offset="12.5%" stop-color="#00ffa4"/><stop offset="25%" stop-color="#00ff7d"/><stop offset="37.5%" stop-color="#00ff63"/><stop offset="50%" stop-color="#00ff5a"/><stop offset="62.5%" stop-color="#00ff63"/><stop offset="75%" stop-color="#00ff80"/><stop offset="87.5%" stop-color="#00ffb4"/><stop offset="99.8%" stop-color="#00ffff"/></linearGradient><linearGradient id="r103"><stop offset="0%" stop-color="#00ffd7"/><stop offset="12.5%" stop-color="#00ffa4"/><stop offset="25%" stop-color="#00ff7e"/><stop offset="37.5%" stop-color="#00ff65"/><stop offset="50%" stop-color="#00ff5c"/><stop offset="62.5%" stop-color="#00ff66"/><stop offset="75%" stop-color="#00ff84"/><stop offset="87.5%" stop-color="#00ffb9"/><stop offset="99.1%" stop-color="#00ffff"/></linearGradient><linearGradient id="r104"><stop offset="0%" stop-color="#00ffd6"/><stop offset="12.5%" stop-color="#00ffa4"/><stop offset="25%" stop-color="#00ff7e"/><stop offset="37.5%" stop-color="#00ff66"/><stop offset="50%" stop-color="#00ff5e"/><stop offset="62.5%" stop-color="#00ff69"/><stop offset="75%" stop-color="#00ff87"/><stop offset="87.5%" stop-color="#00ffbd"/><stop offset="98.4%" stop-color="#00ffff"/><stop offset="100%" stop-color="#00f4ff"/></linearGradient><linearGradient id="r105"><stop offset="0%" stop-color="#00ffd3"/><stop offset="12.5%" stop-color="#00ffa2"/><stop offset="25%" stop-color="#00ff7d"/><stop offset="37.5%" stop-color="#00ff66"/><stop offset="50%" stop-color="#00ff5f"/><stop offset="62.5%" stop-color="#00ff6a"/><stop offset="75%" stop-color="#00ff8a"/><stop offset="87.5%" stop-color="#00ffc0"/><stop offset="97.9%" stop-color="#00ffff"/><stop offset="100%" stop-color="#00f0ff"/></linearGradient><linearGradient id="r106"><stop offset="0%" stop-color="#00ffd1"/><stop offset="12.5%" stop-color="#00ffa0"/><stop offset="25%" stop-color="#00ff7b"/><stop offset="37.5%" stop-color="#00ff65"/><stop offset="50%" stop-color="#00ff5f"/><stop offset="62.5%" stop-color="#00ff6b"/><stop offset="75%" stop-color="#00ff8c"/><stop offset="87.5%" stop-color="#00ffc2"/><stop offset="97.4%" stop-color="#00ffff"/><stop offset="100%" stop-color="#00edff"/></linearGradient><linearGradient id="lg"><stop offset="0.08" stop-color="#0010e0"/><stop offset="0.3" stop-color="#00a0a0"/><stop offset="0.5" stop-color="#00e000"/><stop offset="0.7" stop-color="#b0b000"/><stop offset="0.92" stop-color="#e80000"/></linearGradient></defs><rect width="550" height="447" fill="#fff"/><g shape-rendering="crispEdges"><rect x="48.1" y="88.3" width="213.6" height="2.6" fill="url(#r0)"/><rect x="48.1" y="90.3" width="213.6" height="2.6" fill="url(#r1)"/><rect x="48.1" y="92.3" width="213.6" height="2.6" fill="url(#r2)"/><rect x="48.1" y="94.3" width="213.6" height="2.6" fill="url(#r3)"/><rect x="48.1" y="96.3" width="213.6" height="2.6" fill="url(#r4)"/><rect x="48.1" y="98.3" width="213.6" height="2.6" fill="url(#r5)"/><rect x="48.1" y="100.3" width="213.6" height="2.6" fill="url(#r6)"/><rect x="48.1" y="102.3" width="213.6" height="2.6" fill="url(#r7)"/><rect x="48.1" y="104.3" width="213.6" height="2.6" fill="url(#r8)"/><rect x="48.1" y="106.3" width="213.6" height="2.6" fill="url(#r9)"/><rect x="48.1" y="108.3" width="213.6" height="2.6" fill="url(#r10)"/><rect x="48.1" y="110.3" width="213.6" height="2.6" fill="url(#r11)"/><rect x="48.1" y="112.3" width="213.6" height="2.6" fill="url(#r12)"/><rect x="48.1" y="114.3" width="213.6" height="2.6" fill="url(#r13)"/><rect x="48.1" y="116.3" width="213.6" height="2.6" fill="url(#r14)"/><rect x="48.1" y="118.3" width="213.6" height="2.6" fill="url(#r15)"/><rect x="48.1" y="120.3" width="213.6" height="2.6" fill="url(#r16)"/><rect x="48.1" y="122.3" width="213.6" height="2.6" fill="url(#r17)"/><rect x="48.1" y="124.3" width="213.6" height="2.6" fill="url(#r18)"/><rect x="48.1" y="126.3" width="213.6" height="2.6" fill="url(#r19)"/><rect x="48.1" y="128.3" width="213.6" height="2.6" fill="url(#r20)"/><rect x="48.1" y="130.3" width="213.6" height="2.6" fill="url(#r21)"/><rect x="48.1" y="132.3" width="213.6" height="2.6" fill="url(#r22)"/><rect x="48.1" y="134.3" width="213.6" height="2.6" fill="url(#r23)"/><rect x="48.1" y="136.3" width="213.6" height="2.6" fill="url(#r24)"/><rect x="48.1" y="138.3" width="213.6" height="2.6" fill="url(#r25)"/><rect x="48.1" y="140.3" width="213.6" height="2.6" fill="url(#r26)"/><rect x="48.1" y="142.3" width="213.6" height="2.6" fill="url(#r27)"/><rect x="48.1" y="144.3" width="213.6" height="2.6" fill="url(#r28)"/><rect x="48.1" y="146.3" width="213.6" height="2.6" fill="url(#r29)"/><rect x="48.1" y="148.3" width="213.6" height="2.6" fill="url(#r30)"/><rect x="48.1" y="150.3" width="213.6" height="2.6" fill="url(#r31)"/><rect x="48.1" y="152.3" width="213.6" height="2.6" fill="url(#r32)"/><rect x="48.1" y="154.3" width="213.6" height="2.6" fill="url(#r33)"/><rect x="48.1" y="156.3" width="213.6" height="2.6" fill="url(#r34)"/><rect x="48.1" y="158.3" width="213.6" height="2.6" fill="url(#r35)"/><rect x="48.1" y="160.3" width="213.6" height="2.6" fill="url(#r36)"/><rect x="48.1" y="162.3" width="213.6" height="2.6" fill="url(#r37)"/><rect x="48.1" y="164.3" width="213.6" height="2.6" fill="url(#r38)"/><rect x="48.1" y="166.3" width="213.6" height="2.6" fill="url(#r39)"/><rect x="48.1" y="168.3" width="213.6" height="2.6" fill="url(#r40)"/><rect x="48.1" y="170.3" width="213.6" height="2.6" fill="url(#r41)"/><rect x="48.1" y="172.3" width="213.6" height="2.6" fill="url(#r42)"/><rect x="48.1" y="174.3" width="213.6" height="2.6" fill="url(#r43)"/><rect x="48.1" y="176.3" width="213.6" height="2.6" fill="url(#r44)"/><rect x="48.1" y="178.3" width="213.6" height="2.6" fill="url(#r45)"/><rect x="48.1" y="180.3" width="213.6" height="2.6" fill="url(#r46)"/><rect x="48.1" y="182.3" width="213.6" height="2.6" fill="url(#r47)"/><rect x="48.1" y="184.3" width="213.6" height="2.6" fill="url(#r48)"/><rect x="48.1" y="186.3" width="213.6" height="2.6" fill="url(#r49)"/><rect x="48.1" y="188.3" width="213.6" height="2.6" fill="url(#r50)"/><rect x="48.1" y="190.3" width="213.6" height="2.6" fill="url(#r51)"/><rect x="48.1" y="192.3" width="213.6" height="2.6" fill="url(#r52)"/><rect x="48.1" y="194.3" width="213.6" height="2.6" fill="url(#r53)"/><rect x="48.1" y="196.3" width="213.6" height="2.6" fill="url(#r54)"/><rect x="48.1" y="198.3" width="213.6" height="2.6" fill="url(#r55)"/><rect x="48.1" y="200.3" width="213.6" height="2.6" fill="url(#r56)"/><rect x="48.1" y="202.3" width="213.6" height="2.6" fill="url(#r57)"/><rect x="48.1" y="204.3" width="213.6" height="2.6" fill="url(#r58)"/><rect x="48.1" y="206.3" width="213.6" height="2.6" fill="url(#r59)"/><rect x="48.1" y="208.3" width="213.6" height="2.6" fill="url(#r60)"/><rect x="48.1" y="210.3" width="213.6" height="2.6" fill="url(#r61)"/><rect x="48.1" y="212.3" width="213.6" height="2.6" fill="url(#r62)"/><rect x="48.1" y="214.3" width="213.6" height="2.6" fill="url(#r63)"/><rect x="48.1" y="216.3" width="213.6" height="2.6" fill="url(#r64)"/><rect x="48.1" y="218.3" width="213.6" height="2.6" fill="url(#r65)"/><rect x="48.1" y="220.3" width="213.6" height="2.6" fill="url(#r66)"/><rect x="48.1" y="222.3" width="213.6" height="2.6" fill="url(#r67)"/><rect x="48.1" y="224.3" width="213.6" height="2.6" fill="url(#r68)"/><rect x="48.1" y="226.3" width="213.6" height="2.6" fill="url(#r69)"/><rect x="48.1" y="228.3" width="213.6" height="2.6" fill="url(#r70)"/><rect x="48.1" y="230.3" width="213.6" height="2.6" fill="url(#r71)"/><rect x="48.1" y="232.3" width="213.6" height="2.6" fill="url(#r72)"/><rect x="48.1" y="234.3" width="213.6" height="2.6" fill="url(#r73)"/><rect x="48.1" y="236.3" width="213.6" height="2.6" fill="url(#r74)"/><rect x="48.1" y="238.3" width="213.6" height="2.6" fill="url(#r75)"/><rect x="48.1" y="240.3" width="213.6" height="2.6" fill="url(#r76)"/><rect x="48.1" y="242.3" width="213.6" height="2.6" fill="url(#r77)"/><rect x="48.1" y="244.3" width="213.6" height="2.6" fill="url(#r78)"/><rect x="48.1" y="246.3" width="213.6" height="2.6" fill="url(#r79)"/><rect x="48.1" y="248.3" width="213.6" height="2.6" fill="url(#r80)"/><rect x="48.1" y="250.3" width="213.6" height="2.6" fill="url(#r81)"/><rect x="48.1" y="252.3" width="213.6" height="2.6" fill="url(#r82)"/><rect x="48.1" y="254.3" width="213.6" height="2.6" fill="url(#r83)"/><rect x="48.1" y="256.3" width="213.6" height="2.6" fill="url(#r84)"/><rect x="48.1" y="258.3" width="213.6" height="2.6" fill="url(#r85)"/><rect x="48.1" y="260.3" width="213.6" height="2.6" fill="url(#r86)"/><rect x="48.1" y="262.3" width="213.6" height="2.6" fill="url(#r87)"/><rect x="48.1" y="264.3" width="213.6" height="2.6" fill="url(#r88)"/><rect x="48.1" y="266.3" width="213.6" height="2.6" fill="url(#r89)"/><rect x="48.1" y="268.3" width="213.6" height="2.6" fill="url(#r90)"/><rect x="48.1" y="270.3" width="213.6" height="2.6" fill="url(#r91)"/><rect x="48.1" y="272.3" width="213.6" height="2.6" fill="url(#r92)"/><rect x="48.1" y="274.3" width="213.6" height="2.6" fill="url(#r93)"/><rect x="48.1" y="276.3" width="213.6" height="2.6" fill="url(#r94)"/><rect x="48.1" y="278.3" width="213.6" height="2.6" fill="url(#r95)"/><rect x="48.1" y="280.3" width="213.6" height="2.6" fill="url(#r96)"/><rect x="48.1" y="282.3" width="213.6" height="2.6" fill="url(#r97)"/><rect x="48.1" y="284.3" width="213.6" height="2.6" fill="url(#r98)"/><rect x="48.1" y="286.3" width="213.6" height="2.6" fill="url(#r99)"/><rect x="48.1" y="288.3" width="213.6" height="2.6" fill="url(#r100)"/><rect x="48.1" y="290.3" width="213.6" height="2.6" fill="url(#r101)"/><rect x="48.1" y="292.3" width="213.6" height="2.6" fill="url(#r102)"/><rect x="48.1" y="294.3" width="213.6" height="2.6" fill="url(#r103)"/><rect x="48.1" y="296.3" width="213.6" height="2.6" fill="url(#r104)"/><rect x="48.1" y="298.3" width="213.6" height="2.6" fill="url(#r105)"/><rect x="48.1" y="300.3" width="213.6" height="1.8" fill="url(#r106)"/></g><path d="M228.3,88.7 L230.8,88.9 L233.5,89.1 L236.2,89.4 L238.9,89.6 L241.5,89.9 L242.9,90.1 L245.6,90.4 L248.3,90.7 L251.0,91.0 L253.5,91.4 L255.0,91.6 L257.7,92.0 L260.4,92.4 L261.7,92.6M48.1,95.5 L49.4,95.3 L52.1,95.1 L54.8,94.9 L57.5,94.7 L60.2,94.5 L62.9,94.3 L65.1,94.1 L66.9,93.9 L69.6,93.7 L72.3,93.5 L75.0,93.2 L77.7,93.0 L80.3,92.8 L81.7,92.7 L84.4,92.5 L87.1,92.2 L89.7,92.0 L92.4,91.8 L95.1,91.6 L97.6,91.4 L99.1,91.3 L101.8,91.1 L104.5,90.8 L107.2,90.6 L109.9,90.4 L112.6,90.2 L115.3,90.0 L116.6,90.0 L119.3,89.8 L122.0,89.6 L124.7,89.4 L127.4,89.2 L130.0,89.1 L132.7,88.9 L135.4,88.8 L136.3,88.7M48.1,104.6 L50.8,104.3 L53.5,104.1 L56.2,103.8 L58.8,103.5 L60.2,103.4 L62.9,103.1 L65.6,102.8 L68.3,102.6 L70.9,102.3 L72.6,102.1 L75.0,101.9 L77.7,101.6 L80.3,101.4 L83.0,101.1 L85.7,100.8 L87.1,100.7 L89.7,100.4 L92.4,100.2 L95.1,99.9 L97.8,99.7 L100.3,99.4 L101.8,99.3 L104.5,99.1 L107.2,98.8 L109.9,98.6 L112.6,98.4 L115.3,98.1 L116.6,98.0 L119.3,97.8 L122.0,97.6 L124.7,97.4 L127.4,97.2 L130.0,97.0 L132.7,96.8 L134.1,96.7 L136.8,96.6 L139.5,96.4 L142.1,96.2 L144.8,96.1 L147.5,95.9 L150.2,95.8 L152.9,95.7 L155.6,95.5 L158.3,95.4 L159.6,95.4 L162.3,95.3 L165.0,95.2 L167.7,95.1 L170.3,95.0 L173.0,95.0 L175.7,94.9 L178.4,94.9 L181.1,94.9 L183.8,94.9 L186.5,94.8 L189.2,94.9 L191.8,94.9 L194.5,94.9 L197.2,95.0 L199.9,95.0 L202.6,95.1 L205.3,95.2 L208.0,95.3 L210.7,95.4 L212.0,95.4 L214.7,95.6 L217.4,95.7 L220.1,95.9 L222.7,96.1 L225.4,96.3 L228.1,96.5 L230.8,96.8 L232.1,96.9 L234.8,97.2 L237.5,97.4 L240.2,97.7 L242.9,98.1 L244.2,98.2 L246.9,98.6 L249.6,99.0 L252.3,99.4 L253.6,99.6 L256.3,100.0 L259.0,100.5 L260.7,100.8 L261.7,101.0M261.7,278.4 L260.4,279.3 L258.5,280.6 L256.7,282.0 L255.0,283.2 L253.6,284.2 L252.3,285.3 L251.0,286.3 L249.6,287.4 L248.1,288.7 L246.6,290.0 L245.1,291.4 L243.8,292.7 L242.5,294.0 L241.3,295.4 L240.2,296.8 L238.9,298.7 L237.7,300.8 L237.1,302.1M51.3,302.1 L52.4,300.8 L53.5,299.3 L54.7,296.7 L55.1,295.4 L55.4,292.7 L55.1,290.0 L54.7,288.7 L53.5,286.0 L52.7,284.7 L51.8,283.3 L50.8,282.0 L49.4,280.4 L48.1,278.9M48.1,115.8 L49.9,115.5 L52.1,115.3 L54.8,114.9 L57.5,114.5 L59.9,114.2 L61.5,114.0 L64.2,113.6 L66.9,113.3 L69.6,112.9 L70.9,112.8 L73.6,112.4 L76.3,112.1 L79.0,111.7 L80.6,111.5 L83.0,111.2 L85.7,110.9 L88.4,110.6 L91.1,110.2 L92.4,110.1 L95.1,109.8 L97.8,109.4 L100.5,109.1 L103.2,108.8 L104.5,108.7 L107.2,108.4 L109.9,108.1 L112.6,107.8 L115.3,107.6 L116.6,107.4 L119.3,107.2 L122.0,106.9 L124.7,106.7 L127.4,106.4 L130.0,106.2 L131.4,106.1 L134.1,105.9 L136.8,105.7 L139.5,105.5 L142.1,105.3 L144.8,105.1 L147.5,104.9 L149.1,104.8 L151.5,104.7 L154.2,104.5 L156.9,104.4 L159.6,104.2 L162.3,104.1 L165.0,104.0 L167.7,103.9 L170.3,103.8 L173.0,103.8 L175.7,103.7 L178.4,103.7 L181.1,103.6 L183.8,103.6 L186.5,103.6 L189.2,103.6 L191.8,103.6 L194.5,103.7 L197.2,103.7 L199.9,103.8 L202.6,103.9 L205.3,104.0 L208.0,104.1 L210.7,104.2 L213.3,104.4 L216.0,104.5 L218.7,104.7 L220.1,104.8 L222.7,105.1 L225.4,105.3 L228.1,105.5 L230.8,105.8 L233.5,106.1 L234.8,106.3 L237.5,106.6 L240.2,107.0 L242.9,107.3 L244.2,107.5 L246.9,108.0 L249.6,108.4 L252.0,108.8 L253.6,109.1 L256.3,109.6 L258.9,110.2 L260.4,110.5 L261.7,110.8M261.7,249.2 L260.4,249.8 L257.7,251.1 L256.3,251.7 L254.6,252.4 L252.3,253.4 L251.0,254.0 L248.3,255.1 L246.9,255.7 L244.9,256.5 L242.9,257.3 L241.4,257.8 L238.9,258.8 L237.5,259.3 L234.8,260.2 L233.5,260.7 L230.8,261.6 L229.5,262.1 L226.8,262.9 L225.4,263.3 L222.7,264.2 L221.4,264.6 L218.7,265.3 L216.8,265.9 L214.7,266.4 L212.0,267.1 L210.7,267.5 L208.0,268.1 L206.1,268.5 L203.9,269.0 L201.2,269.6 L199.7,269.9 L197.2,270.4 L194.5,270.8 L192.1,271.2 L190.5,271.5 L187.8,271.9 L185.1,272.2 L182.4,272.5 L181.1,272.6 L178.4,272.8 L175.7,273.0 L173.0,273.2 L170.3,273.3 L167.7,273.3 L165.0,273.3 L162.3,273.2 L159.6,273.2 L156.9,273.0 L154.2,272.8 L151.6,272.6 L150.2,272.4 L147.5,272.1 L144.8,271.8 L142.1,271.4 L140.8,271.1 L138.1,270.7 L135.4,270.1 L134.1,269.9 L131.4,269.3 L128.7,268.7 L127.4,268.3 L124.7,267.7 L122.9,267.2 L120.6,266.6 L118.1,265.9 L116.6,265.4 L113.9,264.6 L112.6,264.2 L109.9,263.4 L108.6,262.9 L105.9,262.0 L104.5,261.6 L101.8,260.6 L100.5,260.2 L97.8,259.2 L96.5,258.7 L94.0,257.8 L92.4,257.2 L90.5,256.5 L88.4,255.7 L87.0,255.1 L84.4,254.1 L83.0,253.6 L80.3,252.5 L79.0,252.0 L76.9,251.1 L75.0,250.3 L73.6,249.8 L70.9,248.6 L69.6,248.1 L67.2,247.1 L65.6,246.4 L64.0,245.7 L61.5,244.7 L60.2,244.1 L57.8,243.0 L56.2,242.4 L54.7,241.7 L52.1,240.6 L50.8,240.0 L48.5,239.0 L48.1,238.8M48.1,131.5 L50.8,130.9 L53.2,130.3 L54.8,130.0 L57.5,129.4 L59.4,129.0 L61.5,128.5 L64.2,128.0 L65.9,127.6 L68.3,127.1 L70.9,126.6 L72.6,126.3 L75.0,125.8 L77.7,125.3 L79.7,124.9 L81.7,124.6 L84.4,124.1 L87.1,123.6 L88.4,123.4 L91.1,122.9 L93.8,122.5 L95.2,122.3 L97.8,121.8 L100.5,121.4 L103.2,121.0 L104.5,120.8 L107.2,120.4 L109.9,120.0 L112.6,119.7 L113.9,119.5 L116.6,119.1 L119.3,118.8 L122.0,118.4 L123.6,118.2 L126.0,117.9 L128.7,117.6 L131.4,117.3 L134.1,117.1 L135.8,116.9 L138.1,116.7 L140.8,116.4 L143.5,116.2 L146.2,115.9 L148.9,115.7 L151.1,115.5 L152.9,115.4 L155.6,115.2 L158.3,115.1 L160.9,114.9 L163.6,114.8 L166.3,114.6 L169.0,114.5 L171.7,114.4 L174.4,114.3 L177.1,114.3 L179.8,114.2 L181.2,114.2 L183.8,114.2 L186.5,114.2 L189.2,114.2 L191.8,114.2 L193.2,114.2 L195.9,114.3 L198.6,114.3 L201.2,114.4 L203.9,114.5 L206.6,114.7 L209.3,114.8 L212.0,115.0 L214.7,115.2 L217.4,115.4 L218.8,115.5 L221.4,115.8 L224.1,116.1 L226.8,116.4 L229.5,116.7 L230.8,116.9 L233.5,117.3 L236.2,117.7 L238.9,118.1 L240.2,118.3 L242.9,118.8 L245.6,119.3 L246.9,119.6 L249.6,120.2 L252.3,120.8 L253.6,121.1 L256.3,121.8 L258.1,122.3 L260.4,122.9 L261.7,123.3M261.7,224.0 L260.4,224.6 L258.1,225.6 L256.3,226.4 L255.0,226.9 L252.3,228.0 L251.0,228.6 L248.3,229.6 L246.9,230.1 L244.5,231.0 L242.9,231.5 L240.5,232.3 L238.9,232.8 L236.2,233.6 L234.8,234.0 L232.1,234.8 L230.8,235.2 L228.1,235.9 L226.2,236.3 L224.1,236.8 L221.4,237.4 L220.1,237.7 L217.4,238.3 L214.7,238.8 L213.3,239.0 L210.7,239.5 L208.0,239.9 L205.3,240.3 L203.9,240.5 L201.2,240.8 L198.6,241.1 L195.9,241.3 L193.2,241.6 L191.2,241.7 L189.2,241.8 L186.5,242.0 L183.8,242.1 L181.1,242.1 L178.4,242.2 L175.7,242.1 L173.0,242.1 L170.3,242.0 L167.7,241.9 L165.0,241.8 L163.6,241.7 L160.9,241.5 L158.3,241.3 L155.6,241.0 L152.9,240.8 L150.2,240.4 L148.9,240.3 L146.2,239.9 L143.5,239.5 L140.8,239.1 L139.5,238.8 L136.8,238.4 L134.1,237.9 L132.7,237.6 L130.0,237.0 L127.4,236.5 L126.0,236.2 L123.3,235.5 L121.0,235.0 L119.3,234.6 L116.6,233.9 L115.3,233.5 L112.6,232.8 L110.8,232.3 L108.6,231.7 L106.2,231.0 L104.5,230.5 L101.8,229.6 L100.5,229.2 L97.8,228.4 L96.5,227.9 L93.8,227.0 L92.4,226.6 L89.7,225.6 L88.4,225.2 L85.8,224.3 L84.4,223.7 L82.2,222.9 L80.3,222.2 L78.6,221.6 L76.3,220.7 L75.0,220.2 L72.3,219.1 L70.9,218.6 L68.4,217.5 L66.9,216.9 L65.2,216.2 L62.9,215.2 L61.5,214.7 L58.8,213.5 L57.5,212.9 L55.7,212.2 L53.5,211.2 L52.1,210.6 L49.7,209.5 L48.1,208.7M261.7,194.1 L260.4,195.0 L258.8,196.1 L256.6,197.4 L255.0,198.4 L253.6,199.1 L251.8,200.1 L249.6,201.2 L248.3,201.9 L246.3,202.8 L244.2,203.7 L242.9,204.3 L240.2,205.3 L238.9,205.8 L236.2,206.8 L234.8,207.3 L232.1,208.1 L230.8,208.5 L228.1,209.3 L226.8,209.7 L224.1,210.4 L222.2,210.8 L220.1,211.3 L217.4,211.9 L215.8,212.2 L213.3,212.6 L210.7,213.1 L208.0,213.5 L206.6,213.6 L203.9,214.0 L201.2,214.3 L198.6,214.5 L195.9,214.7 L193.8,214.9 L191.8,215.0 L189.2,215.1 L186.5,215.1 L183.8,215.2 L181.1,215.2 L178.4,215.1 L175.7,215.0 L173.0,214.9 L171.7,214.8 L169.0,214.7 L166.3,214.4 L163.6,214.2 L160.9,213.9 L158.3,213.6 L156.9,213.4 L154.2,213.0 L151.5,212.6 L148.9,212.2 L147.5,212.0 L144.8,211.5 L142.1,210.9 L140.8,210.6 L138.1,210.1 L135.6,209.5 L134.1,209.1 L131.4,208.4 L130.0,208.1 L127.4,207.3 L125.5,206.8 L123.3,206.2 L121.0,205.5 L119.3,204.9 L116.9,204.1 L115.3,203.6 L113.0,202.8 L111.2,202.1 L109.4,201.4 L107.2,200.6 L105.9,200.1 L103.2,199.0 L101.8,198.4 L99.6,197.4 L97.8,196.6 L96.5,196.0 L93.9,194.7 L92.4,194.0 L91.1,193.3 L88.7,192.0 L87.1,191.1 L85.7,190.3 L84.1,189.4 L81.9,188.0 L80.3,187.0 L79.0,186.1 L77.7,185.1 L76.2,184.0 L74.5,182.6 L72.9,181.3 L71.5,180.0 L70.1,178.6 L68.9,177.3 L67.8,175.9 L66.9,174.6 L65.6,172.3 L64.8,170.6 L64.2,168.4 L64.0,166.5 L64.2,164.1 L64.6,162.5 L65.6,160.4 L66.8,158.5 L67.9,157.1 L69.2,155.8 L70.6,154.5 L72.3,153.2 L73.6,152.2 L75.0,151.3 L76.4,150.4 L78.7,149.1 L80.3,148.3 L81.7,147.6 L84.2,146.4 L85.7,145.8 L87.3,145.1 L89.7,144.1 L91.1,143.6 L93.8,142.6 L95.1,142.2 L97.8,141.3 L99.1,140.8 L101.8,140.0 L103.2,139.6 L105.9,138.9 L107.7,138.4 L109.9,137.8 L112.6,137.1 L113.9,136.8 L116.6,136.2 L118.7,135.7 L120.6,135.3 L123.3,134.7 L125.2,134.3 L127.4,133.9 L130.0,133.4 L132.5,133.0 L134.1,132.7 L136.8,132.3 L139.5,131.9 L141.0,131.6 L143.5,131.3 L146.2,131.0 L148.9,130.6 L151.5,130.3 L152.9,130.2 L155.6,129.9 L158.3,129.6 L160.9,129.4 L163.6,129.2 L166.3,129.0 L167.7,128.9 L170.3,128.7 L173.0,128.6 L175.7,128.5 L178.4,128.4 L181.1,128.3 L183.8,128.3 L186.5,128.3 L189.2,128.3 L191.8,128.3 L194.5,128.4 L197.2,128.5 L199.9,128.6 L202.6,128.7 L205.3,128.9 L206.6,129.0 L209.3,129.2 L212.0,129.5 L214.7,129.7 L217.4,130.1 L219.2,130.3 L221.4,130.6 L224.1,131.0 L226.8,131.5 L228.1,131.7 L230.8,132.3 L233.5,132.8 L234.8,133.1 L237.5,133.8 L239.6,134.3 L241.5,134.9 L244.2,135.7 L245.6,136.1 L248.2,137.0 L249.6,137.5 L251.7,138.4 L253.6,139.2 L255.0,139.7 L257.7,141.0 L259.0,141.7 L260.4,142.4 L261.7,143.2M181.1,162.3 L183.8,161.9 L186.5,161.7 L189.2,161.8 L191.8,162.1 L193.8,162.5 L195.9,163.3 L197.2,164.0 L198.6,165.3 L198.6,167.8 L197.2,169.2 L195.9,169.9 L194.2,170.6 L191.8,171.1 L189.2,171.5 L186.5,171.6 L183.8,171.4 L181.1,171.0 L179.4,170.6 L177.1,169.5 L175.7,168.5 L174.7,166.5 L175.7,164.8 L177.1,163.8 L179.8,162.7 L181.1,162.3" fill="none" stroke="#1c2a1c" stroke-width="0.9" stroke-opacity="0.45"/><rect x="48.1" y="88.5" width="213.6" height="213.6" fill="none" stroke="#4a4a55" stroke-width="0.7" stroke-opacity="0.75"/><rect x="110.2" y="88.5" width="3.6" height="3.2" rx="0.8" fill="#f6f2f6" stroke="#8a8a8a" stroke-width="0.3"/><text x="112.0" y="91.0" font-size="2.6" text-anchor="middle" fill="#444">2</text><rect x="153.2" y="94.5" width="3.6" height="3.2" rx="0.8" fill="#f6f2f6" stroke="#8a8a8a" stroke-width="0.3"/><text x="155.0" y="97.0" font-size="2.6" text-anchor="middle" fill="#444">4</text><rect x="153.2" y="103.0" width="3.6" height="3.2" rx="0.8" fill="#f6f2f6" stroke="#8a8a8a" stroke-width="0.3"/><text x="155.0" y="105.5" font-size="2.6" text-anchor="middle" fill="#444">6</text><rect x="150.5" y="113.7" width="3.6" height="3.2" rx="0.8" fill="#f6f2f6" stroke="#8a8a8a" stroke-width="0.3"/><text x="152.3" y="116.2" font-size="2.6" text-anchor="middle" fill="#444">8</text><rect x="60.1" y="168.3" width="4.6" height="3.2" rx="0.8" fill="#f6f2f6" stroke="#8a8a8a" stroke-width="0.3"/><text x="62.4" y="170.8" font-size="2.6" text-anchor="middle" fill="#444">10</text><rect x="179.4" y="169.0" width="4.6" height="3.2" rx="0.8" fill="#f6f2f6" stroke="#8a8a8a" stroke-width="0.3"/><text x="181.7" y="171.5" font-size="2.6" text-anchor="middle" fill="#444">12</text><rect x="145.1" y="237.8" width="3.6" height="3.2" rx="0.8" fill="#f6f2f6" stroke="#8a8a8a" stroke-width="0.3"/><text x="146.9" y="240.3" font-size="2.6" text-anchor="middle" fill="#444">8</text><rect x="150.4" y="275.0" width="3.6" height="3.2" rx="0.8" fill="#f6f2f6" stroke="#8a8a8a" stroke-width="0.3"/><text x="152.2" y="277.6" font-size="2.6" text-anchor="middle" fill="#444">6</text><rect x="53.4" y="283.0" width="3.6" height="3.2" rx="0.8" fill="#f6f2f6" stroke="#8a8a8a" stroke-width="0.3"/><text x="55.2" y="285.6" font-size="2.6" text-anchor="middle" fill="#444">4</text><rect x="246.6" y="283.0" width="3.6" height="3.2" rx="0.8" fill="#f6f2f6" stroke="#8a8a8a" stroke-width="0.3"/><text x="248.4" y="285.6" font-size="2.6" text-anchor="middle" fill="#444">4</text><path d="M48.1,302.1 v4M48.1,88.7 h-4M90.8,302.1 v4M48.1,131.4 h-4M133.5,302.1 v4M48.1,174.1 h-4M176.3,302.1 v4M48.1,216.7 h-4M219.0,302.1 v4M48.1,259.4 h-4M261.7,302.1 v4M48.1,302.1 h-4" stroke="#777" stroke-width="0.6" fill="none"/><text x="48.1" y="314.2" font-size="5" text-anchor="middle" fill="#333">500</text><text x="90.8" y="314.2" font-size="5" text-anchor="middle" fill="#333">1000</text><text x="133.5" y="314.2" font-size="5" text-anchor="middle" fill="#333">1500</text><text x="176.3" y="314.2" font-size="5" text-anchor="middle" fill="#333">2000</text><text x="219.0" y="314.2" font-size="5" text-anchor="middle" fill="#333">2500</text><text x="261.7" y="314.2" font-size="5" text-anchor="middle" fill="#333">3000</text><text x="41.5" y="90.5" font-size="5" text-anchor="end" fill="#333">0</text><text x="41.5" y="133.2" font-size="5" text-anchor="end" fill="#333">-1</text><text x="41.5" y="175.9" font-size="5" text-anchor="end" fill="#333">-2</text><text x="41.5" y="218.5" font-size="5" text-anchor="end" fill="#333">-3</text><text x="41.5" y="261.2" font-size="5" text-anchor="end" fill="#333">-4</text><text x="41.5" y="303.9" font-size="5" text-anchor="end" fill="#333">-5</text><text x="155" y="333.3" font-size="9" text-anchor="middle" fill="#222" textLength="91" lengthAdjust="spacingAndGlyphs">A: Stirring speed (RPM)</text><text transform="translate(16.6,193.2) rotate(-90)" font-size="9" text-anchor="middle" fill="#222" textLength="84.5" lengthAdjust="spacingAndGlyphs">B: DDA (log(mol.L<tspan font-size="5.5" dy="-3.2">-1</tspan><tspan dy="3.2">))</tspan></text><path d="M316.6,126.4 L312.5,25.1M336.9,120.9 L333.7,21.2M357.2,115.4 L354.9,17.4M377.6,109.9 L376.1,13.6M397.9,104.4 L397.3,9.7M418.2,98.9 L418.5,5.9M418.2,98.9 L418.5,5.9M437.6,104.8 L438.7,10.0M457.0,110.7 L459.0,14.0M476.4,116.7 L479.2,18.1M495.8,122.6 L499.5,22.1M515.1,128.6 L519.7,26.1M316.6,126.4 L418.2,98.9M418.2,98.9 L515.1,128.6M316.0,111.9 L418.2,85.6M418.2,85.6 L515.8,113.9M315.4,97.4 L418.3,72.3M418.3,72.3 L516.5,99.3M314.8,83.0 L418.3,59.0M418.3,59.0 L517.1,84.7M314.2,68.5 L418.4,45.7M418.4,45.7 L517.8,70.0M313.6,54.0 L418.4,32.5M418.4,32.5 L518.4,55.4M313.1,39.5 L418.4,19.2M418.4,19.2 L519.1,40.8M312.5,25.1 L418.5,5.9M418.5,5.9 L519.7,26.1M316.6,126.4 L318.0,160.2M515.1,128.6 L513.6,162.7" stroke="#2b2b2b" stroke-width="0.55" fill="none" stroke-opacity="0.85"/><polygon points="318.0,160.2 418.1,129.8 513.6,162.7 412.2,203.2" fill="#5c5c5c"/><path d="M321.1,161.6 L322.8,161.1 L324.4,160.6 L326.1,160.0 L327.7,159.5 L329.3,159.0 L331.0,158.4 L332.6,157.9 L334.3,157.4 L335.9,156.8 L337.6,156.3 L339.2,155.8 L340.9,155.2 L342.5,154.7 L344.2,154.2 L345.8,153.7 L347.5,153.1 L349.2,152.6 L350.8,152.1 L352.5,151.6 L354.1,151.0 L355.8,150.5 L357.4,150.0 L359.1,149.5 L360.8,148.9 L362.4,148.4 L363.3,148.2 L364.9,147.6 L366.6,147.1 L368.3,146.6 L369.9,146.1 L371.6,145.5 L373.3,145.0 L374.9,144.5 L376.6,144.0 L378.3,143.5 L379.9,142.9 L381.6,142.4 L383.3,141.9 L385.0,141.4 L386.6,140.9 L388.3,140.4 L390.0,139.8 L391.7,139.3 L393.3,138.8 L395.0,138.3 L396.7,137.8 L398.4,137.3 L400.1,136.7 L401.7,136.2 L403.4,135.7 L405.1,135.2 L406.8,134.7 L408.5,134.2 L410.2,133.7 L411.8,133.2 L413.5,132.6 L415.2,132.1 L416.9,131.6 L418.6,131.1 L420.3,130.6" stroke="#3484d2" stroke-width="1.35" fill="none"/><path d="M325.4,163.6 L327.0,163.0 L328.5,162.4 L329.5,162.1 L330.9,161.6 L332.5,161.0 L334.0,160.4 L335.6,159.8 L337.2,159.3 L338.8,158.7 L340.3,158.1 L341.1,157.9 L342.7,157.3 L344.3,156.7 L345.9,156.2 L347.5,155.6 L349.1,155.1 L350.7,154.5 L352.3,154.0 L354.0,153.4 L355.6,152.9 L357.1,152.3 L358.0,152.0 L359.6,151.5 L361.3,151.0 L362.9,150.4 L364.5,149.9 L366.2,149.3 L367.8,148.8 L369.5,148.3 L371.1,147.7 L372.8,147.2 L374.4,146.7 L376.1,146.1 L377.7,145.6 L379.4,145.1 L381.1,144.6 L382.7,144.0 L384.4,143.5 L386.1,143.0 L387.7,142.5 L389.4,141.9 L391.1,141.4 L392.8,140.9 L394.5,140.4 L396.2,139.9 L397.9,139.4 L399.6,138.8 L401.3,138.3 L403.0,137.8 L404.7,137.3 L406.4,136.8 L408.2,136.3 L409.9,135.8 L411.6,135.3 L413.4,134.8 L415.1,134.3 L416.9,133.8 L418.4,133.4 L419.6,133.1 L421.4,132.6 L423.2,132.2 L424.1,131.9M495.4,156.5 L495.0,157.0 L494.3,157.8 L493.9,158.4 L493.5,158.9 L492.9,159.5 L492.3,160.4 L492.1,160.9 L491.8,161.4 L491.7,162.0 L491.8,162.7 L492.2,163.4 L492.7,163.8 L494.0,164.5 L495.6,165.0 L497.4,165.5 L499.2,166.0 L500.7,166.6 L501.9,167.4M413.7,202.6 L413.7,201.9 L413.7,201.2 L413.8,200.5 L413.8,199.8 L413.7,199.2 L413.7,198.5 L413.5,197.9 L413.2,197.1 L412.6,196.3 L412.0,195.9 L410.4,195.2 L409.4,194.9 L407.8,194.7 L406.0,194.6 L404.4,194.6 L402.9,194.6 L401.2,194.7 L399.0,194.9 L397.5,195.0 L396.2,195.1 L394.9,195.3" stroke="#2abf9e" stroke-width="1.35" fill="none"/><path d="M330.7,166.0 L331.4,165.7 L332.9,165.0 L334.4,164.4 L335.8,163.8 L336.6,163.5 L338.0,162.8 L339.5,162.2 L341.0,161.6 L342.1,161.1 L343.2,160.7 L344.7,160.1 L346.2,159.4 L347.7,158.8 L348.5,158.5 L350.0,157.9 L351.5,157.3 L353.0,156.7 L354.6,156.1 L356.1,155.6 L356.9,155.3 L358.4,154.7 L360.0,154.1 L361.6,153.5 L363.1,153.0 L364.7,152.4 L366.3,151.8 L367.1,151.5 L368.7,151.0 L370.3,150.4 L371.9,149.9 L373.5,149.3 L375.1,148.7 L376.7,148.2 L378.4,147.7 L380.0,147.1 L381.7,146.6 L383.3,146.0 L385.0,145.5 L386.6,145.0 L388.3,144.4 L390.0,143.9 L391.6,143.4 L393.3,142.8 L395.0,142.3 L396.7,141.8 L398.4,141.3 L400.2,140.8 L401.9,140.3 L403.6,139.8 L405.4,139.3 L407.2,138.8 L408.9,138.3 L410.7,137.8 L412.5,137.3 L413.9,136.9 L415.2,136.6 L417.1,136.1 L419.0,135.7 L420.8,135.2 L422.1,134.9 L423.7,134.5 L425.7,134.1 L427.7,133.7 L428.7,133.5M483.9,152.5 L483.4,152.9 L482.9,153.4 L482.0,154.3 L481.6,154.7 L480.8,155.4 L480.1,156.0 L479.6,156.5 L478.5,157.3 L478.0,157.8 L476.9,158.6 L476.3,159.0 L475.3,159.7 L474.6,160.3 L473.6,161.0 L472.8,161.5 L471.6,162.3 L471.0,162.7 L469.7,163.5 L469.0,163.9 L467.7,164.7 L466.4,165.5 L465.7,165.9 L464.3,166.6 L462.9,167.4 L462.2,167.8 L460.8,168.5 L459.3,169.2 L457.8,170.0 L457.0,170.3 L455.4,171.0 L453.9,171.7 L452.2,172.4 L450.6,173.0 L448.9,173.7 L447.2,174.3 L445.4,175.0 L443.7,175.6 L441.9,176.2 L440.0,176.8 L439.0,177.1 L437.2,177.6 L435.3,178.2 L433.4,178.7 L432.1,179.1 L430.4,179.5 L428.4,180.0 L427.0,180.4 L425.3,180.8 L423.2,181.3 L422.2,181.5 L420.1,182.0 L418.5,182.3 L416.9,182.7 L414.8,183.1 L413.6,183.3 L411.4,183.7 L410.3,183.9 L408.1,184.4 L407.0,184.6 L404.7,185.0 L403.6,185.2 L401.4,185.5 L400.2,185.7 L398.3,186.0 L396.7,186.3 L395.3,186.5 L393.3,186.8 L392.1,187.0 L389.8,187.3 L388.6,187.5 L386.4,187.8 L385.1,188.0 L383.6,188.2 L381.6,188.5 L380.4,188.7" stroke="#3bcb42" stroke-width="1.35" fill="none"/><path d="M337.8,169.2 L338.5,168.9 L339.8,168.2 L341.1,167.5 L341.8,167.1 L343.2,166.4 L344.3,165.9 L345.2,165.4 L346.6,164.7 L347.8,164.2 L348.7,163.7 L350.1,163.0 L351.4,162.4 L352.2,162.0 L353.6,161.4 L355.0,160.7 L355.7,160.4 L357.1,159.7 L358.5,159.1 L359.9,158.5 L360.7,158.1 L362.2,157.5 L363.6,156.9 L365.1,156.3 L365.8,155.9 L367.3,155.3 L368.8,154.7 L370.3,154.1 L371.4,153.7 L372.6,153.2 L374.1,152.6 L375.7,152.0 L377.2,151.4 L378.8,150.8 L380.3,150.3 L381.2,150.0 L382.8,149.4 L384.4,148.8 L386.0,148.3 L387.6,147.7 L389.2,147.2 L390.9,146.6 L392.5,146.1 L394.2,145.5 L395.9,145.0 L397.6,144.5 L399.3,143.9 L401.0,143.4 L402.8,142.9 L404.5,142.4 L406.3,141.9 L408.1,141.4 L409.6,141.0 L410.8,140.7 L412.6,140.2 L414.5,139.7 L416.4,139.3 L418.0,138.9 L419.3,138.6 L421.2,138.2 L423.2,137.7 L424.2,137.5 L426.2,137.1 L428.3,136.7 L429.3,136.5 L431.4,136.1 L432.5,135.9 L434.6,135.5M472.3,148.5 L471.9,149.0 L471.2,149.7 L470.6,150.3 L470.2,150.8 L469.4,151.5 L468.8,152.1 L468.2,152.5 L467.2,153.3 L466.7,153.7 L465.6,154.6 L465.0,155.0 L463.8,155.8 L463.2,156.2 L462.0,157.0 L461.4,157.4 L460.1,158.1 L459.1,158.7 L458.1,159.3 L456.8,160.0 L455.9,160.5 L454.7,161.1 L453.2,161.8 L451.7,162.5 L451.0,162.9 L449.5,163.6 L447.9,164.3 L446.4,164.9 L444.8,165.6 L443.1,166.2 L441.5,166.9 L439.8,167.5 L438.1,168.1 L436.3,168.7 L434.6,169.3 L432.8,169.9 L430.9,170.5 L429.1,171.1 L427.2,171.6 L426.3,171.9 L424.4,172.4 L422.4,172.9 L420.5,173.5 L419.5,173.7 L417.5,174.2 L415.5,174.7 L414.5,174.9 L412.4,175.4 L410.6,175.8 L409.3,176.1 L407.2,176.5 L406.1,176.8 L404.0,177.2 L402.6,177.5 L400.7,177.8 L399.0,178.1 L397.5,178.4 L395.5,178.8 L394.1,179.0 L392.2,179.3 L390.8,179.6 L389.0,179.8 L387.4,180.1 L385.9,180.3 L384.0,180.6 L382.8,180.8 L380.5,181.1 L379.3,181.3 L377.1,181.6 L375.9,181.8 L373.8,182.1 L372.5,182.3 L370.7,182.6 L369.1,182.8 L367.9,183.0" stroke="#9acc30" stroke-width="1.35" fill="none"/><path d="M461.8,144.9 L461.3,145.3 L460.4,146.2 L459.9,146.6 L459.0,147.3 L458.3,147.8 L457.5,148.4 L456.6,149.0 L455.9,149.5 L454.9,150.2 L453.9,150.8 L453.0,151.3 L451.8,152.1 L451.1,152.4 L449.8,153.2 L448.9,153.7 L447.8,154.3 L446.4,155.0 L445.5,155.4 L444.3,156.0 L442.9,156.7 L441.4,157.4 L440.6,157.8 L439.1,158.4 L437.6,159.1 L436.0,159.7 L434.4,160.4 L432.8,161.0 L431.1,161.6 L429.4,162.2 L427.7,162.8 L426.0,163.4 L424.2,163.9 L422.4,164.5 L420.6,165.1 L418.7,165.6 L417.6,165.9 L415.9,166.4 L414.0,166.9 L412.1,167.4 L410.7,167.8 L409.1,168.2 L407.2,168.6 L405.2,169.1 L404.2,169.3 L402.1,169.8 L400.5,170.2 L399.0,170.5 L397.0,170.9 L395.9,171.1 L393.8,171.5 L392.2,171.8 L390.6,172.1 L388.5,172.5 L387.3,172.7 L385.2,173.1 L384.1,173.3 L381.8,173.6 L380.7,173.8 L378.4,174.2 L377.3,174.3 L375.4,174.6 L373.8,174.8 L372.6,174.9 L370.2,175.2 L369.0,175.3 L367.4,175.5 L365.2,175.7 L363.9,175.7 L362.6,175.8 L360.9,175.8 L359.1,175.8 L357.6,175.7 L355.7,175.4 L355.1,175.1 L354.7,174.2 L354.6,173.6 L354.7,172.9 L355.0,172.4 L355.3,171.9 L355.6,171.3 L356.2,170.6 L356.8,169.9 L357.3,169.5 L358.1,168.7 L358.8,168.1 L359.3,167.7 L360.3,166.9 L360.9,166.5 L362.0,165.7 L362.6,165.3 L363.8,164.5 L364.4,164.1 L365.6,163.4 L366.4,163.0 L367.5,162.3 L368.8,161.6 L369.4,161.2 L370.7,160.5 L371.6,160.1 L372.8,159.4 L374.1,158.8 L374.8,158.4 L376.2,157.7 L377.6,157.1 L378.7,156.5 L379.7,156.1 L381.2,155.5 L382.6,154.8 L383.7,154.4 L384.9,153.9 L386.4,153.3 L387.9,152.6 L389.4,152.0 L391.0,151.4 L391.8,151.1 L393.3,150.6 L394.9,150.0 L396.6,149.4 L398.2,148.9 L399.9,148.3 L401.5,147.7 L403.2,147.2 L405.0,146.7 L406.7,146.2 L408.5,145.6 L410.2,145.1 L412.0,144.6 L413.0,144.4 L414.8,143.9 L416.7,143.4 L418.6,143.0 L419.7,142.7 L421.5,142.3 L423.5,141.9 L425.0,141.6 L426.6,141.2 L428.7,140.8 L429.8,140.6 L431.9,140.3 L433.0,140.1 L435.3,139.7 L436.4,139.6 L438.8,139.2 L440.0,139.1 L441.4,138.9 L443.8,138.7" stroke="#e0ad2a" stroke-width="1.35" fill="none"/><g transform="scale(.1)" stroke-linejoin="round" stroke-linecap="round" fill="currentColor" stroke="currentColor" stroke-width="3"><path d="M4131 954l51-15 12-42-51 14z" color="#0033c7"/><path class="m" d="M4182 939l12-42M4131 954l51-15"/><path d="M4143 911l51-14 13-41-51 12z" color="#0060c7"/><path class="m" d="M4194 897l13-41"/><path d="M4156 868l51-12 12-39-51 7z" color="#008cc7"/><path class="m" d="M4207 856l12-39"/><path d="M4168 824l51-7 13-39-52 4z" color="#00b8c7"/><path class="m" d="M4219 817l13-39"/><path d="M4080 969l51-15 12-43-51 14z" color="#0032c7"/><path d="M4180 782l52-4 12-36-51-1z" color="#00c7ac"/><path class="m" d="M4131 954l12-43M4080 969l51-15M4232 778l12-36M4180 782l52-4"/><path d="M4092 925l51-14 13-43-52 12z" color="#0060c7"/><path d="M4193 741l51 1 13-35-52-5z" color="#00c784"/><path class="m" d="M4143 911l13-43M4244 742l13-35"/><path d="M4104 880l52-12 12-44-51 9z" color="#008fc7"/><path d="M4205 702l52 5 12-33-51-8z" color="#00c75e"/><path class="m" d="M4156 868l12-44M4257 707l12-33"/><path d="M4117 833l51-9 12-42-51 5z" color="#00bec7"/><path d="M4218 666l51 8 13-30-52-11z" color="#00c73b"/><path class="m" d="M4168 824l12-42M4269 674l13-30"/><path d="M4029 984l51-15 12-44-51 15z" color="#0031c7"/><path d="M4129 787l51-5 13-41-52 1z" color="#00c7a2"/><path d="M4230 633l52 11 12-29-51-12z" color="#00c71a"/><path class="m" d="M4080 969l12-44M4029 984l51-15M4180 782l13-41M4129 787l51-5M4282 644l12-29M4230 633l52 11"/><path d="M4041 940l51-15 12-45-51 12z" color="#0060c7"/><path d="M4141 742l52-1 12-39-51-2z" color="#00c776"/><path d="M4243 603l51 12 13-27-52-13z" color="#05c700"/><path class="m" d="M4092 925l12-45M4193 741l12-39M4294 615l13-27"/><path d="M4053 892l51-12 13-47-52 10z" color="#0092c7"/><path d="M4154 700l51 2 13-36-52-4z" color="#00c74d"/><path d="M4255 575l52 13 13-25-52-14z" color="#21c700"/><path class="m" d="M4104 880l13-47M4205 702l13-36M4307 588l13-25"/><path d="M4065 843l52-10 12-46-52 7z" color="#00c3c7"/><path d="M4166 662l52 4 12-33-52-6z" color="#00c728"/><path d="M4268 549l52 14 12-24-52-14z" color="#3cc700"/><path class="m" d="M4117 833l12-46M4218 666l12-33M4320 563l12-24"/><path d="M3978 999l51-15 12-44-51 14z" color="#0030c7"/><path d="M4077 794l52-7 12-45-51 4z" color="#00c799"/><path d="M4178 627l52 6 13-30-52-8z" color="#00c705"/><path d="M4280 525l52 14 13-22-52-14z" color="#55c700"/><path class="m" d="M4029 984l12-44M3978 999l51-15M4129 787l12-45M4077 794l52-7M4230 633l13-30M4178 627l52 6M4332 539l13-22M4280 525l52 14"/><path d="M3990 954l51-14 12-48-51 13z" color="#0060c7"/><path d="M4090 746l51-4 13-42-52 1z" color="#00c76b"/><path d="M4191 595l52 8 12-28-52-9z" color="#1bc700"/><path d="M4293 503l52 14 13-20-52-15z" color="#6dc700"/><path class="m" d="M4041 940l12-48M4141 742l13-42M4243 603l12-28M4345 517l13-20"/><path d="M4002 905l51-13 12-49-51 11z" color="#0093c7"/><path d="M4102 701l52-1 12-38-52-1z" color="#00c740"/><path d="M4203 566l52 9 13-26-52-9z" color="#38c700"/><path d="M4306 482l52 15 12-20-52-14z" color="#83c700"/><path class="m" d="M4053 892l12-49M4154 700l12-38M4255 575l13-26M4358 497l12-20"/><path d="M4014 854l51-11 12-49-51 8z" color="#00c7c7"/><path d="M4114 661l52 1 12-35-51-3z" color="#00c718"/><path d="M4216 540l52 9 12-24-52-10z" color="#53c700"/><path d="M4318 463l52 14 13-17-52-15z" color="#98c700"/><path class="m" d="M4065 843l12-49M4166 662l12-35M4268 549l12-24M4370 477l13-17"/><path d="M3928 1014l50-15 12-45-51 15z" color="#002ec7"/><path d="M4026 802l51-8 13-48-52 6z" color="#00c793"/><path d="M4127 624l51 3 13-32-52-4z" color="#0cc700"/><path d="M4228 515l52 10 13-22-52-10z" color="#6cc700"/><path d="M4331 445l52 15 13-17-52-14z" color="#abc700"/><path class="m" d="M3978 999l12-45M3928 1014l50-15M4077 794l13-48M4026 802l51-8M4178 627l13-32M4127 624l51 3M4280 525l13-22M4228 515l52 10M4383 460l13-17M4331 445l52 15"/><path d="M3939 969l51-15 12-49-51 14z" color="#005fc7"/><path d="M4038 752l52-6 12-45-52 4z" color="#00c763"/><path d="M4139 591l52 4 12-29-52-5z" color="#2cc700"/><path d="M4241 493l52 10 13-21-53-10z" color="#84c700"/><path d="M4344 429l52 14 12-15-52-14z" color="#bdc700"/><path class="m" d="M3990 954l12-49M4090 746l12-45M4191 595l12-29M4293 503l13-21M4396 443l12-15"/><path d="M3951 919l51-14 12-51-51 12z" color="#0094c7"/><path d="M4050 705l52-4 12-40-52 2z" color="#00c735"/><path d="M4151 561l52 5 13-26-52-5z" color="#4ac700"/><path d="M4253 472l53 10 12-19-52-10z" color="#9ac700"/><path d="M4356 414l52 14 13-13-52-15z" color="#c7ba00"/><path class="m" d="M4002 905l12-51M4102 701l12-40M4203 566l13-26M4306 482l12-19M4408 428l13-13"/><path d="M3963 866l51-12 12-52-51 10z" color="#00c7c4"/><path d="M4062 663l52-2 13-37-52 1z" color="#00c70c"/><path d="M4164 535l52 5 12-25-52-5z" color="#66c700"/><path d="M4266 453l52 10 13-18-52-10z" color="#afc700"/><path d="M4369 400l52 15 13-13-52-14z" color="#c7a500"/><path class="m" d="M4014 854l12-52M4114 661l13-37M4216 540l12-25M4318 463l13-18M4421 415l13-13"/><path d="M3877 1029l51-15 11-45-51 15z" color="#002dc7"/><path d="M3975 812l51-10 12-50-52 9z" color="#00c78f"/><path d="M4075 625l52-1 12-33-52 0z" color="#19c700"/><path d="M4176 510l52 5 13-22-52-5z" color="#7fc700"/><path d="M4279 435l52 10 13-16-53-10z" color="#c2c700"/><path class="m" d="M3928 1014l11-45M3877 1029l51-15M4026 802l12-50M3975 812l51-10M4127 624l12-33M4075 625l52-1M4228 515l13-22M4176 510l52 5M4331 445l13-16M4279 435l52 10"/><path d="M4382 388l52 14 25-20-52-15z" color="#c78e00"/><path class="m" d="M4434 402l25-20M4382 388l52 14"/><path d="M3888 984l51-15 12-50-51 14z" color="#005fc7"/><path d="M3986 761l52-9 12-47-52 7z" color="#00c75d"/><path d="M4087 591l52 0 12-30-52 0z" color="#3ac700"/><path d="M4189 488l52 5 12-21-52-5z" color="#97c700"/><path d="M4291 419l53 10 12-15-52-10z" color="#c7b100"/><path class="m" d="M3939 969l12-50M4038 752l12-47M4139 591l12-30M4241 493l12-21M4344 429l12-15"/><path d="M3900 933l51-14 12-53-52 13z" color="#0094c7"/><path d="M3998 712l52-7 12-42-51 5z" color="#00c72e"/><path d="M4099 561l52 0 13-26-52-1z" color="#58c700"/><path d="M4201 467l52 5 13-19-52-5z" color="#adc700"/><path d="M4304 404l52 10 13-14-52-10z" color="#c79c00"/><path class="m" d="M3951 919l12-53M4050 705l12-42M4151 561l13-26M4253 472l13-19M4356 414l13-14"/><path d="M4407 367l52 15 26-16-53-14z" color="#c77600"/><path class="m" d="M4459 382l26-16"/><path d="M3911 879l52-13 12-54-52 12z" color="#00c7c3"/><path d="M4011 668l51-5 13-38-52 4z" color="#00c704"/><path d="M4112 534l52 1 12-25-52-1z" color="#74c700"/><path d="M4214 448l52 5 13-18-53-5z" color="#c1c700"/><path d="M4317 390l52 10 13-12-53-10z" color="#c78b00"/><path class="m" d="M3963 866l12-54M4062 663l13-38M4164 535l12-25M4266 453l13-18M4369 400l13-12"/><path d="M3826 1044l51-15 11-45-51 14z" color="#002cc7"/><path d="M3923 824l52-12 11-51-51 10z" color="#00c78d"/><path d="M4023 629l52-4 12-34-52 4z" color="#22c700"/><path d="M4124 509l52 1 13-22-53-2z" color="#8dc700"/><path class="m" d="M3877 1029l11-45M3826 1044l51-15M3975 812l11-51M3923 824l52-12M4075 625l12-34M4023 629l52-4M4176 510l13-22M4124 509l52 1"/><path d="M4226 430l53 5 25-31-53-6z" color="#c7a500"/><path d="M4329 378l53 10 25-21-53-10z" color="#c77700"/><path d="M4432 352l53 14 25-11-52-14z" color="#c76500"/><path class="m" d="M4279 435l25-31M4226 430l53 5M4382 388l25-21M4329 378l53 10M4485 366l25-11M4432 352l53 14"/><path d="M3837 998l51-14 12-51-51 14z" color="#005dc7"/><path d="M3935 771l51-10 12-49-51 10z" color="#00c759"/><path d="M4035 595l52-4 12-30-52 3z" color="#44c700"/><path d="M4136 486l53 2 12-21-52-1z" color="#a5c700"/><path class="m" d="M3888 984l12-51M3986 761l12-49M4087 591l12-30M4189 488l12-21"/><path d="M3849 947l51-14 11-54-51 14z" color="#0093c7"/><path d="M3947 722l51-10 13-44-52 9z" color="#00c729"/><path d="M4047 564l52-3 13-27-53 3z" color="#62c700"/><path d="M4149 466l52 1 13-19-53-2z" color="#bbc700"/><path class="m" d="M3900 933l11-54M3998 712l13-44M4099 561l13-27M4201 467l13-19"/><path d="M4251 398l53 6 25-26-52-6z" color="#c78000"/><path d="M4354 357l53 10 25-15-52-10z" color="#c76100"/><path d="M4458 341l52 14 25-5-52-14z" color="#c75900"/><path class="m" d="M4304 404l25-26M4407 367l25-15M4510 355l25-5"/><path d="M3860 893l51-14 12-55-51 13z" color="#00c7c3"/><path d="M3959 677l52-9 12-39-52 8z" color="#02c700"/><path d="M4059 537l53-3 12-25-52 3z" color="#7ec700"/><path d="M4161 446l53 2 12-18-52-2z" color="#c7b700"/><path class="m" d="M3911 879l12-55M4011 668l12-39M4112 534l12-25M4214 448l12-18"/><path d="M3775 1059l51-15 11-46-51 15z" color="#002ac7"/><path d="M3872 837l51-13 12-53-52 12z" color="#00c78c"/><path d="M3971 637l52-8 12-34-52 7z" color="#28c700"/><path d="M4072 512l52-3 12-23-52 3z" color="#98c700"/><path class="m" d="M3826 1044l11-46M3775 1059l51-15M3923 824l12-53M3872 837l51-13M4023 629l12-34M3971 637l52-8M4124 509l12-23M4072 512l52-3"/><path d="M4174 428l52 2 25-32-52-1z" color="#c79400"/><path d="M4277 372l52 6 25-21-52-5z" color="#c76500"/><path d="M4380 342l52 10 26-11-53-9z" color="#c75000"/><path class="m" d="M4226 430l25-32M4174 428l52 2M4329 378l25-21M4277 372l52 6M4432 352l26-11M4380 342l52 10"/><path d="M3786 1013l51-15 12-51-51 15z" color="#005cc7"/><path d="M3883 783l52-12 12-49-52 11z" color="#00c757"/><path d="M3983 602l52-7 12-31-52 7z" color="#4ac700"/><path d="M4084 489l52-3 13-20-52 2z" color="#afc700"/><path class="m" d="M3837 998l12-51M3935 771l12-49M4035 595l12-31M4136 486l13-20"/><path d="M4483 336l52 14 50 15-52-14z" color="#d86108"/><path class="m" d="M4535 350l50 15M4483 336l52 14"/><path d="M3798 962l51-15 11-54-51 14z" color="#0092c7"/><path d="M3895 733l52-11 12-45-52 11z" color="#00c727"/><path d="M3995 571l52-7 12-27-52 7z" color="#69c700"/><path d="M4097 468l52-2 12-20-52 3z" color="#c5c700"/><path class="m" d="M3849 947l11-54M3947 722l12-45M4047 564l12-27M4149 466l12-20"/><path d="M4199 397l52 1 26-26-53-1z" color="#c77200"/><path d="M4302 352l52 5 26-15-53-6z" color="#c75000"/><path d="M4405 332l53 9 25-5-53-10z" color="#c74500"/><path class="m" d="M4251 398l26-26M4354 357l26-15M4458 341l25-5"/><path d="M3809 907l51-14 12-56-52 14z" color="#00c7c4"/><path d="M3907 688l52-11 12-40-52 11z" color="#04c700"/><path d="M4007 544l52-7 13-25-53 7z" color="#85c700"/><path d="M4109 449l52-3 13-18-53 3z" color="#c7a900"/><path class="m" d="M3860 893l12-56M3959 677l12-40M4059 537l13-25M4161 446l13-18"/><path d="M3724 1075l51-16 11-46-51 16z" color="#0029c7"/><path d="M3820 851l52-14 11-54-51 14z" color="#00c78d"/><path d="M3919 648l52-11 12-35-52 11z" color="#2bc700"/><path d="M4019 519l53-7 12-23-52 7z" color="#9ec700"/><path class="m" d="M3775 1059l11-46M3724 1075l51-16M3872 837l11-54M3820 851l52-14M3971 637l12-35M3919 648l52-11M4072 512l12-23M4019 519l53-7"/><path d="M4121 431l53-3 25-31-53 2z" color="#c78900"/><path d="M4224 371l53 1 25-20-53-2z" color="#c75700"/><path d="M4327 336l53 6 25-10-53-6z" color="#c74000"/><path d="M4533 351l52 14 25 23-52-14z" color="#e87308"/><path class="m" d="M4174 428l25-31M4121 431l53-3M4277 372l25-20M4224 371l53 1M4380 342l25-10M4327 336l53 6M4585 365l25 23M4533 351l52 14"/><path d="M3735 1029l51-16 12-51-52 15z" color="#005bc7"/><path d="M3832 797l51-14 12-50-52 14z" color="#00c758"/><path d="M3931 613l52-11 12-31-52 10z" color="#4dc700"/><path d="M4032 496l52-7 13-21-53 7z" color="#b6c700"/><path class="m" d="M3786 1013l12-51M3883 783l12-50M3983 602l12-31M4084 489l13-21"/><path d="M4430 326l53 10 50 15-53-10z" color="#de4f08"/><path class="m" d="M4483 336l50 15M4430 326l53 10"/><path d="M3746 977l52-15 11-55-51 15z" color="#0090c7"/><path d="M3843 747l52-14 12-45-52 14z" color="#00c728"/><path d="M3943 581l52-10 12-27-52 10z" color="#6cc700"/><path d="M4044 475l53-7 12-19-53 6z" color="#c7bc00"/><path class="m" d="M3798 962l11-55M3895 733l12-45M3995 571l12-27M4097 468l12-19"/><path d="M4146 399l53-2 25-26-53 2z" color="#c76800"/><path d="M4249 350l53 2 25-16-53-1z" color="#c74300"/><path d="M4352 326l53 6 25-6-52-5z" color="#c73500"/><path d="M4558 374l52 14 24 31-52-14z" color="#e98908"/><path class="m" d="M4199 397l25-26M4302 352l25-16M4405 332l25-6M4610 388l24 31"/><path d="M3758 922l51-15 11-56-51 16z" color="#00c7c6"/><path d="M3855 702l52-14 12-40-52 13z" color="#04c700"/><path d="M3955 554l52-10 12-25-52 9z" color="#88c700"/><path d="M4056 455l53-6 12-18-52 6z" color="#c7a000"/><path class="m" d="M3809 907l11-56M3907 688l12-40M4007 544l12-25M4109 449l12-18"/><path d="M3673 1090l51-15 11-46-51 15z" color="#0027c7"/><path d="M3769 867l51-16 12-54-52 16z" color="#00c78f"/><path d="M3867 661l52-13 12-35-52 13z" color="#2bc700"/><path d="M3967 528l52-9 13-23-53 9z" color="#a2c700"/><path class="m" d="M3724 1075l11-46M3673 1090l51-15M3820 851l12-54M3769 867l51-16M3919 648l12-35M3867 661l52-13M4019 519l13-23M3967 528l52-9"/><path d="M4069 437l52-6 25-32-52 6z" color="#c78200"/><path d="M4171 373l53-2 25-21-53 3z" color="#c74e00"/><path d="M4274 335l53 1 25-10-52-1z" color="#c73400"/><path d="M4480 341l53 10 25 23-53-9z" color="#ed5e08"/><path d="M4582 405l52 14 25 36-52-15z" color="#e8a708"/><path class="m" d="M4121 431l25-32M4069 437l52-6M4224 371l25-21M4171 373l53-2M4327 336l25-10M4274 335l53 1M4533 351l25 23M4480 341l53 10M4634 419l25 36M4582 405l52 14"/><path d="M3684 1044l51-15 11-52-51 16z" color="#0059c7"/><path d="M3780 813l52-16 11-50-51 16z" color="#00c75a"/><path d="M3879 626l52-13 12-32-52 14z" color="#4dc700"/><path d="M3979 505l53-9 12-21-52 9z" color="#b9c700"/><path class="m" d="M3735 1029l11-52M3832 797l11-50M3931 613l12-32M4032 496l12-21"/><path d="M4378 321l52 5 50 15-52-5z" color="#e43f08"/><path class="m" d="M4430 326l50 15M4378 321l52 5"/><path d="M3695 993l51-16 12-55-52 16z" color="#008ec7"/><path d="M3792 763l51-16 12-45-52 16z" color="#00c72a"/><path d="M3891 595l52-14 12-27-52 13z" color="#6cc700"/><path d="M3992 484l52-9 12-20-52 10z" color="#c7b700"/><path class="m" d="M3746 977l12-55M3843 747l12-45M3943 581l12-27M4044 475l12-20"/><path d="M4094 405l52-6 25-26-52 6z" color="#c76100"/><path d="M4196 353l53-3 25-15-52 2z" color="#c73a00"/><path d="M4300 325l52 1 26-5-53-2z" color="#cc3008"/><path d="M4505 365l53 9 24 31-52-10z" color="#ee7308"/><path d="M4607 440l52 15 24 38-52-14z" color="#e8ce08"/><path class="m" d="M4146 399l25-26M4249 350l25-15M4352 326l26-5M4558 374l24 31M4659 455l24 38"/><path d="M3706 938l52-16 11-55-51 16z" color="#00c5c7"/><path d="M3803 718l52-16 12-41-52 17z" color="#02c700"/><path d="M3903 567l52-13 12-26-52 14z" color="#88c700"/><path d="M4004 465l52-10 13-18-53 10z" color="#c79c00"/><path class="m" d="M3758 922l11-55M3855 702l12-41M3955 554l12-26M4056 455l13-18"/><path d="M3622 1105l51-15 11-46-51 15z" color="#0026c7"/><path d="M3718 883l51-16 11-54-51 17z" color="#00c792"/><path d="M3815 678l52-17 12-35-52 16z" color="#28c700"/><path d="M3915 542l52-14 12-23-52 13z" color="#a2c700"/><path d="M4631 479l52 14 12 20-52-15z" color="#dce708"/><path class="m" d="M3673 1090l11-46M3622 1105l51-15M3769 867l11-54M3718 883l51-16M3867 661l12-35M3815 678l52-17M3967 528l12-23M3915 542l52-14M4683 493l12 20M4631 479l52 14"/><path d="M4016 447l53-10 25-32-53 10z" color="#c77e00"/><path d="M4119 379l52-6 25-20-52 5z" color="#c74800"/><path d="M4428 336l52 5 25 24-53-6z" color="#f24d08"/><path d="M4530 395l52 10 25 35-53-10z" color="#ed8e08"/><path class="m" d="M4069 437l25-32M4016 447l53-10M4171 373l25-20M4119 379l52-6M4480 341l25 24M4428 336l52 5M4582 405l25 35M4530 395l52 10"/><path d="M3633 1059l51-15 11-51-51 15z" color="#0057c7"/><path d="M3729 830l51-17 12-50-52 18z" color="#00c75e"/><path d="M3827 642l52-16 12-31-52 16z" color="#4bc700"/><path d="M3927 518l52-13 13-21-53 13z" color="#bac700"/><path d="M4643 498l52 15 12 20-52-15z" color="#cbe708"/><path class="m" d="M3684 1044l11-51M3780 813l12-50M3879 626l12-31M3979 505l13-21M4695 513l12 20"/><path d="M4222 337l52-2 51-16-53 3z" color="#c92d08"/><path d="M4325 319l53 2 50 15-53-2z" color="#e93308"/><path class="m" d="M4274 335l51-16M4222 337l52-2M4378 321l50 15M4325 319l53 2"/><path d="M3644 1008l51-15 11-55-51 17z" color="#008cc7"/><path d="M3740 781l52-18 11-45-51 18z" color="#00c72e"/><path d="M3839 611l52-16 12-28-52 16z" color="#6ac700"/><path d="M3939 497l53-13 12-19-53 13z" color="#c7b700"/><path d="M4655 518l52 15 12 19-52-15z" color="#bae708"/><path class="m" d="M3695 993l11-55M3792 763l11-45M3891 595l12-28M3992 484l12-19M4707 533l12 19"/><path d="M4041 415l53-10 25-26-53 10z" color="#c75e00"/><path d="M4144 358l52-5 26-16-53 6z" color="#c73400"/><path d="M4452 359l53 6 25 30-53-6z" color="#f26108"/><path d="M4554 430l53 10 24 39-52-11z" color="#ecb008"/><path class="m" d="M4094 405l25-26M4196 353l26-16M4505 365l25 30M4607 440l24 39"/><path d="M3655 955l51-17 12-55-52 18z" color="#00c2c7"/><path d="M3752 736l51-18 12-40-52 18z" color="#00c703"/><path d="M3851 583l52-16 12-25-52 16z" color="#86c700"/><path d="M3951 478l53-13 12-18-52 13z" color="#c79c00"/><path d="M4667 537l52 15 12 19-52-15z" color="#a9e708"/><path class="m" d="M3706 938l12-55M3803 718l12-40M3903 567l12-25M4004 465l12-18M4719 552l12 19"/><path d="M3572 1120l50-15 11-46-51 15z" color="#0024c7"/><path d="M3666 901l52-18 11-53-52 19z" color="#00c796"/><path d="M3763 696l52-18 12-36-52 19z" color="#23c700"/><path d="M3863 558l52-16 12-24-52 16z" color="#9fc700"/><path class="m" d="M3622 1105l11-46M3572 1120l50-15M3718 883l11-53M3666 901l52-18M3815 678l12-36M3763 696l52-18M3915 542l12-24M3863 558l52-16"/><path d="M3964 460l52-13 25-32-53 13z" color="#c77e00"/><path d="M4066 389l53-10 25-21-53 10z" color="#c74500"/><path d="M4375 334l53 2 24 23-52-2z" color="#f7410a"/><path d="M4477 389l53 6 24 35-52-6z" color="#f17b08"/><path d="M4579 468l52 11 24 39-52-11z" color="#ebdc08"/><path d="M4679 556l52 15 24 34-52-15z" color="#92e708"/><path class="m" d="M4016 447l25-32M3964 460l52-13M4119 379l25-21M4066 389l53-10M4428 336l24 23M4375 334l53 2M4530 395l24 35M4477 389l53 6M4631 479l24 39M4579 468l52 11M4731 571l24 34M4679 556l52 15"/><path d="M3582 1074l51-15 11-51-51 16z" color="#0055c7"/><path d="M3677 849l52-19 11-49-52 19z" color="#00c763"/><path d="M3775 661l52-19 12-31-52 18z" color="#46c700"/><path d="M3875 534l52-16 12-21-52 16z" color="#b7c700"/><path class="m" d="M3633 1059l11-51M3729 830l11-49M3827 642l12-31M3927 518l12-21"/><path d="M4169 343l53-6 50-15-53 5z" color="#cc2808"/><path d="M4272 322l53-3 50 15-53 3z" color="#ed2a08"/><path class="m" d="M4222 337l50-15M4169 343l53-6M4325 319l50 15M4272 322l53-3"/><path d="M3593 1024l51-16 11-53-51 17z" color="#0089c7"/><path d="M3688 800l52-19 12-45-52 20z" color="#00c734"/><path d="M3787 629l52-18 12-28-52 18z" color="#64c700"/><path d="M3887 513l52-16 12-19-52 15z" color="#c7bb00"/><path class="m" d="M3644 1008l11-53M3740 781l12-45M3839 611l12-28M3939 497l12-19"/><path d="M3988 428l53-13 25-26-53 12z" color="#c75e00"/><path d="M4091 368l53-10 25-15-53 9z" color="#c73100"/><path d="M4400 357l52 2 25 30-53-2z" color="#f6540a"/><path d="M4502 424l52 6 25 38-53-7z" color="#ef9b08"/><path d="M4603 507l52 11 24 38-52-11z" color="#d0eb08"/><path d="M4703 590l52 15 24 34-52-15z" color="#75e708"/><path class="m" d="M4041 415l25-26M4144 358l25-15M4452 359l25 30M4554 430l25 38M4655 518l24 38M4755 605l24 34"/><path d="M3604 972l51-17 11-54-51 18z" color="#00bec7"/><path d="M3700 756l52-20 11-40-52 20z" color="#00c709"/><path d="M3799 601l52-18 12-25-53 18z" color="#80c700"/><path d="M3899 493l52-15 13-18-53 15z" color="#c79f00"/><path class="m" d="M3655 955l11-54M3752 736l11-40M3851 583l12-25M3951 478l13-18"/><path d="M3521 1135l51-15 10-46-51 16z" color="#0022c7"/><path d="M3615 919l51-18 11-52-51 19z" color="#00c79b"/><path d="M3711 716l52-20 12-35-52 20z" color="#1dc700"/><path d="M3810 576l53-18 12-24-53 19z" color="#9ac700"/><path class="m" d="M3572 1120l10-46M3521 1135l51-15M3666 901l11-52M3615 919l51-18M3763 696l12-35M3711 716l52-20M3863 558l12-24M3810 576l53-18"/><path d="M3911 475l53-15 24-32-52 15z" color="#c78100"/><path d="M4013 401l53-12 25-21-53 12z" color="#c74500"/><path d="M4322 337l53-3 25 23-53 2z" color="#fa3d11"/><path d="M4424 387l53 2 25 35-53-3z" color="#f46d08"/><path d="M4526 461l53 7 24 39-53-7z" color="#efc108"/><path d="M4627 545l52 11 24 34-52-11z" color="#b1eb08"/><path d="M4727 624l52 15 24 35-52-15z" color="#58e708"/><path class="m" d="M3964 460l24-32M3911 475l53-15M4066 389l25-21M4013 401l53-12M4375 334l25 23M4322 337l53-3M4477 389l25 35M4424 387l53 2M4579 468l24 39M4526 461l53 7M4679 556l24 34M4627 545l52 11M4779 639l24 35M4727 624l52 15"/><path d="M3531 1090l51-16 11-50-51 17z" color="#0053c7"/><path d="M3626 868l51-19 11-49-51 21z" color="#00c76a"/><path d="M3723 681l52-20 12-32-52 21z" color="#3fc700"/><path d="M3822 553l53-19 12-21-52 19z" color="#b2c700"/><path class="m" d="M3582 1074l11-50M3677 849l11-49M3775 661l12-32M3875 534l12-21"/><path d="M4116 352l53-9 50-16-53 10z" color="#cf2608"/><path d="M4219 327l53-5 50 15-53 5z" color="#f12408"/><path class="m" d="M4169 343l50-16M4116 352l53-9M4272 322l50 15M4219 327l53-5"/><path d="M3542 1041l51-17 11-52-51 18z" color="#0085c7"/><path d="M3637 821l51-21 12-44-52 21z" color="#00c73b"/><path d="M3735 650l52-21 12-28-53 22z" color="#5dc700"/><path d="M3835 532l52-19 12-20-52 19z" color="#c7c400"/><path class="m" d="M3593 1024l11-52M3688 800l12-44M3787 629l12-28M3887 513l12-20"/><path d="M3936 443l52-15 25-27-53 16z" color="#c76000"/><path d="M4038 380l53-12 25-16-53 12z" color="#c73100"/><path d="M4347 359l53-2 24 30-52 1z" color="#fa4e0f"/><path d="M4449 421l53 3 24 37-52-2z" color="#f38b08"/><path d="M4550 500l53 7 24 38-52-7z" color="#ebef08"/><path d="M4651 579l52 11 24 34-52-11z" color="#93eb08"/><path d="M4751 659l52 15 24 36-52-14z" color="#39e708"/><path class="m" d="M3988 428l25-27M4091 368l25-16M4400 357l24 30M4502 424l24 37M4603 507l24 38M4703 590l24 34M4803 674l24 36"/><path d="M3553 990l51-18 11-53-51 19z" color="#00b9c7"/><path d="M3648 777l52-21 11-40-51 23z" color="#00c712"/><path d="M3746 623l53-22 11-25-52 21z" color="#79c700"/><path d="M3847 512l52-19 12-18-52 19z" color="#c7a600"/><path class="m" d="M3604 972l11-53M3700 756l11-40M3799 601l11-25M3899 493l12-18"/><path d="M3470 1150l51-15 10-45-50 15z" color="#0021c7"/><path d="M3564 938l51-19 11-51-51 21z" color="#00c7a2"/><path d="M3660 739l51-23 12-35-52 23z" color="#14c700"/><path d="M3758 597l52-21 12-23-52 21z" color="#93c700"/><path class="m" d="M3521 1135l10-45M3470 1150l51-15M3615 919l11-51M3564 938l51-19M3711 716l12-35M3660 739l51-23M3810 576l12-23M3758 597l52-21"/><path d="M3859 494l52-19 25-32-53 19z" color="#c78600"/><path d="M3960 417l53-16 25-21-53 16z" color="#c74700"/><path d="M4269 342l53-5 25 22-53 6z" color="#fe3c18"/><path d="M4372 388l52-1 25 34-53 2z" color="#f8640c"/><path d="M4474 459l52 2 24 39-52-3z" color="#f2ae08"/><path d="M4575 538l52 7 24 34-52-7z" color="#cbef08"/><path d="M4675 613l52 11 24 35-51-10z" color="#75eb08"/><path d="M4775 696l52 14 24 37-52-15z" color="#1ae708"/><path class="m" d="M3911 475l25-32M3859 494l52-19M4013 401l25-21M3960 417l53-16M4322 337l25 22M4269 342l53-5M4424 387l25 34M4372 388l52-1M4526 461l24 39M4474 459l52 2M4627 545l24 34M4575 538l52 7M4727 624l24 35M4675 613l52 11M4827 710l24 37M4775 696l52 14"/><path d="M3481 1105l50-15 11-49-51 16z" color="#0050c7"/><path d="M3575 889l51-21 11-47-51 22z" color="#00c771"/><path d="M3671 704l52-23 12-31-52 23z" color="#35c700"/><path d="M3770 574l52-21 13-21-53 21z" color="#aac700"/><path class="m" d="M3531 1090l11-49M3626 868l11-47M3723 681l12-31M3822 553l13-21"/><path d="M4063 364l53-12 50-15-53 12z" color="#d12608"/><path d="M4166 337l53-10 50 15-53 10z" color="#f42108"/><path class="m" d="M4116 352l50-15M4063 364l53-12M4219 327l50 15M4166 337l53-10"/><path d="M3491 1057l51-16 11-51-51 18z" color="#0082c7"/><path d="M3586 843l51-22 11-44-51 23z" color="#00c744"/><path d="M3683 673l52-23 11-27-51 23z" color="#54c700"/><path d="M3782 553l53-21 12-20-53 21z" color="#c0c700"/><path class="m" d="M3542 1041l11-51M3637 821l11-44M3735 650l11-27M3835 532l12-20"/><path d="M3883 462l53-19 24-26-52 18z" color="#c76500"/><path d="M3985 396l53-16 25-16-53 16z" color="#c73300"/><path d="M4294 365l53-6 25 29-53 6z" color="#fd4c15"/><path d="M4396 423l53-2 25 38-53 1z" color="#f6800a"/><path d="M4498 497l52 3 25 38-53-3z" color="#f2d808"/><path d="M4599 572l52 7 24 34-52-6z" color="#adef08"/><path d="M4700 649l51 10 24 37-51-11z" color="#56eb08"/><path d="M4799 732l52 15 23 37-51-15z" color="#08e715"/><path class="m" d="M3936 443l24-26M4038 380l25-16M4347 359l25 29M4449 421l25 38M4550 500l25 38M4651 579l24 34M4751 659l24 37M4851 747l23 37"/><path d="M3502 1008l51-18 11-52-52 20z" color="#00b4c7"/><path d="M3597 800l51-23 12-38-52 23z" color="#00c71b"/><path d="M3695 646l51-23 12-26-52 23z" color="#70c700"/><path d="M3794 533l53-21 12-18-53 21z" color="#c7af00"/><path class="m" d="M3553 990l11-52M3648 777l12-38M3746 623l12-26M3847 512l12-18"/><path d="M3419 1166l51-16 11-45-51 16z" color="#001fc7"/><path d="M3512 958l52-20 11-49-52 21z" color="#00c7a8"/><path d="M3608 762l52-23 11-35-52 25z" color="#0ac700"/><path d="M3706 620l52-23 12-23-52 23z" color="#89c700"/><path class="m" d="M3470 1150l11-45M3419 1166l51-16M3564 938l11-49M3512 958l52-20M3660 739l11-35M3608 762l52-23M3758 597l12-23M3706 620l52-23"/><path d="M3806 515l53-21 24-32-52 20z" color="#c78e00"/><path d="M3908 435l52-18 25-21-53 18z" color="#c74b00"/><path d="M4216 352l53-10 25 23-53 9z" color="#ff3f1f"/><path d="M4319 394l53-6 24 35-53 5z" color="#fb6011"/><path d="M4421 460l53-1 24 38-53 1z" color="#f5a209"/><path d="M4522 535l53 3 24 34-52-3z" color="#e2f308"/><path d="M4623 607l52 6 25 36-52-7z" color="#8eef08"/><path d="M4724 685l51 11 24 36-51-10z" color="#36eb08"/><path d="M4823 769l51 15 24 37-51-15z" color="#08e734"/><path class="m" d="M3859 494l24-32M3806 515l53-21M3960 417l25-21M3908 435l52-18M4269 342l25 23M4216 352l53-10M4372 388l24 35M4319 394l53-6M4474 459l24 38M4421 460l53-1M4575 538l24 34M4522 535l53 3M4675 613l25 36M4623 607l52 6M4775 696l24 36M4724 685l51 11M4874 784l24 37M4823 769l51 15"/><path d="M3430 1121l51-16 10-48-51 17z" color="#004ec7"/><path d="M3523 910l52-21 11-46-52 23z" color="#00c779"/><path d="M3619 729l52-25 12-31-52 25z" color="#2bc700"/><path d="M3718 597l52-23 12-21-52 23z" color="#a1c700"/><path class="m" d="M3481 1105l10-48M3575 889l11-46M3671 704l12-31M3770 574l12-21"/><path d="M4010 380l53-16 50-15-53 15z" color="#d42808"/><path d="M4113 349l53-12 50 15-53 12z" color="#f7230b"/><path class="m" d="M4063 364l50-15M4010 380l53-16M4166 337l50 15M4113 349l53-12"/><path d="M3440 1074l51-17 11-49-51 18z" color="#007ec7"/><path d="M3534 866l52-23 11-43-52 25z" color="#00c74e"/><path d="M3631 698l52-25 12-27-52 24z" color="#49c700"/><path d="M3730 576l52-23 12-20-52 23z" color="#b7c700"/><path class="m" d="M3491 1057l11-49M3586 843l11-43M3683 673l12-27M3782 553l12-20"/><path d="M3831 482l52-20 25-27-53 21z" color="#c76c00"/><path d="M3932 414l53-18 25-16-53 18z" color="#c03b08"/><path d="M4241 374l53-9 25 29-53 8z" color="#ff4d1c"/><path d="M4343 428l53-5 25 37-53 5z" color="#f97b0e"/><path d="M4445 498l53-1 24 38-52 1z" color="#f6c809"/><path d="M4547 569l52 3 24 35-52-3z" color="#c3f308"/><path d="M4648 642l52 7 24 36-52-7z" color="#6fef08"/><path d="M4748 722l51 10 24 37-52-10z" color="#17eb08"/><path d="M4847 806l51 15 24 36-52-14z" color="#08e753"/><path class="m" d="M3883 462l25-27M3985 396l25-16M4294 365l25 29M4396 423l25 37M4498 497l24 38M4599 572l24 35M4700 649l24 36M4799 732l24 37M4898 821l24 36"/><path d="M3451 1026l51-18 10-50-51 20z" color="#00afc7"/><path d="M3545 825l52-25 11-38-52 26z" color="#00c726"/><path d="M3643 670l52-24 11-26-52 25z" color="#64c700"/><path d="M3742 556l52-23 12-18-52 23z" color="#c7be00"/><path class="m" d="M3502 1008l10-50M3597 800l11-38M3695 646l11-26M3794 533l12-18"/><path d="M3368 1181l51-15 11-45-51 15z" color="#001dc7"/><path d="M3461 978l51-20 11-48-51 22z" color="#00c7b0"/><path d="M3556 788l52-26 11-33-51 25z" color="#00c702"/><path d="M3654 645l52-25 12-23-52 25z" color="#7ec700"/><path class="m" d="M3419 1166l11-45M3368 1181l51-15M3512 958l11-48M3461 978l51-20M3608 762l11-33M3556 788l52-26M3706 620l12-23M3654 645l52-25"/><path d="M3754 538l52-23 25-33-53 23z" color="#c79900"/><path d="M3855 456l53-21 24-21-52 20z" color="#c75200"/><path d="M4266 402l53-8 24 34-52 8z" color="#fe6017"/><path d="M4368 465l53-5 24 38-52 5z" color="#f89b0d"/><path d="M4470 536l52-1 25 34-53 1z" color="#f4f70a"/><path d="M4571 604l52 3 25 35-53-3z" color="#a4f308"/><path d="M4672 678l52 7 24 37-52-7z" color="#4fef08"/><path d="M4771 759l52 10 24 37-52-10z" color="#08eb18"/><path d="M4870 843l52 14 23 36-51-14z" color="#08e771"/><path class="m" d="M3806 515l25-33M3754 538l52-23M3908 435l24-21M3855 456l53-21M4319 394l24 34M4266 402l53-8M4421 460l24 38M4368 465l53-5M4522 535l25 34M4470 536l52-1M4623 607l25 35M4571 604l52 3M4724 685l24 37M4672 678l52 7M4823 769l24 37M4771 759l52 10M4922 857l23 36M4870 843l52 14"/><path d="M3379 1136l51-15 10-47-51 17z" color="#004bc7"/><path d="M3472 932l51-22 11-44-51 23z" color="#00c782"/><path d="M3568 754l51-25 12-31-52 26z" color="#1fc700"/><path d="M3666 622l52-25 12-21-52 25z" color="#95c700"/><path class="m" d="M3430 1121l10-47M3523 910l11-44M3619 729l12-31M3718 597l12-21"/><path d="M3957 398l53-18 50-16-53 18z" color="#d52d08"/><path d="M4060 364l53-15 50 15-53 15z" color="#f9280e"/><path d="M4163 364l53-12 50 50-53 12z" color="#ff4c25"/><path class="m" d="M4010 380l50-16M3957 398l53-18M4113 349l50 15M4060 364l53-15M4216 352l50 50M4163 364l53-12"/><path d="M3389 1091l51-17 11-48-51 18z" color="#007ac7"/><path d="M3483 889l51-23 11-41-51 25z" color="#00c758"/><path d="M3579 724l52-26 12-28-52 27z" color="#3dc700"/><path d="M3678 601l52-25 12-20-52 25z" color="#abc700"/><path class="m" d="M3440 1074l11-48M3534 866l11-41M3631 698l12-28M3730 576l12-20"/><path d="M3778 505l53-23 24-26-52 22z" color="#c77600"/><path d="M3880 434l52-20 25-16-53 20z" color="#c14108"/><path d="M4291 436l52-8 25 37-53 8z" color="#fc7913"/><path d="M4393 503l52-5 25 38-53 4z" color="#f9bf0d"/><path d="M4494 570l53-1 24 35-52 1z" color="#d6f70a"/><path d="M4595 639l53 3 24 36-53-2z" color="#84f208"/><path d="M4696 715l52 7 23 37-51-7z" color="#2fee08"/><path d="M4795 796l52 10 23 37-51-10z" color="#08eb38"/><path d="M4894 879l51 14 24 36-51-15z" color="#08e68f"/><path class="m" d="M3831 482l24-26M3932 414l25-16M4343 428l25 37M4445 498l25 38M4547 569l24 35M4648 642l24 36M4748 722l23 37M4847 806l23 37M4945 893l24 36"/><path d="M3400 1044l51-18 10-48-51 21z" color="#00a9c7"/><path d="M3494 850l51-25 11-37-51 26z" color="#00c732"/><path d="M3591 697l52-27 11-25-52 27z" color="#58c700"/><path d="M3690 581l52-25 12-18-52 25z" color="#c0c700"/><path class="m" d="M3451 1026l10-48M3545 825l11-37M3643 670l11-25M3742 556l12-18"/><path d="M3317 1196l51-15 11-45-51 16z" color="#001cc7"/><path d="M3410 999l51-21 11-46-51 23z" color="#00c7b7"/><path d="M3505 814l51-26 12-34-52 27z" color="#00c70e"/><path d="M3602 672l52-27 12-23-52 27z" color="#71c700"/><path class="m" d="M3368 1181l11-45M3317 1196l51-15M3461 978l11-46M3410 999l51-21M3556 788l12-34M3505 814l51-26M3654 645l12-23M3602 672l52-27"/><path d="M3702 563l52-25 24-33-52 25z" color="#c7a600"/><path d="M3803 478l52-22 25-22-53 23z" color="#c75b00"/><path d="M4110 379l53-15 25 22-53 15z" color="#ff4a2b"/><path d="M4213 414l53-12 25 34-53 12z" color="#ff631d"/><path d="M4315 473l53-8 25 38-53 8z" color="#fb9812"/><path d="M4417 540l53-4 24 34-52 5z" color="#fae90f"/><path d="M4519 605l52-1 24 35-52 1z" color="#b7f60a"/><path d="M4619 676l53 2 24 37-52-2z" color="#64f208"/><path d="M4720 752l51 7 24 37-52-7z" color="#0fee08"/><path d="M4819 833l51 10 24 36-51-10z" color="#08ea56"/><path d="M4918 914l51 15 23 33-51-14z" color="#08e6ab"/><path class="m" d="M3754 538l24-33M3702 563l52-25M3855 456l25-22M3803 478l52-22M4163 364l25 22M4110 379l53-15M4266 402l25 34M4213 414l53-12M4368 465l25 38M4315 473l53-8M4470 536l24 34M4417 540l53-4M4571 604l24 35M4519 605l52-1M4672 678l24 37M4619 676l53 2M4771 759l24 37M4720 752l51 7M4870 843l24 36M4819 833l51 10M4969 929l23 33M4918 914l51 15"/><path d="M3328 1152l51-16 10-45-51 17z" color="#0049c7"/><path d="M3421 955l51-23 11-43-51 25z" color="#00c78c"/><path d="M3516 781l52-27 11-30-51 28z" color="#12c700"/><path d="M3614 649l52-27 12-21-52 26z" color="#89c700"/><path class="m" d="M3379 1136l10-45M3472 932l11-43M3568 754l11-30M3666 622l12-21"/><path d="M3904 418l53-20 50-16-53 21z" color="#d73308"/><path d="M4007 382l53-18 50 15-53 18z" color="#fb3011"/><path class="m" d="M3957 398l50-16M3904 418l53-20M4060 364l50 15M4007 382l53-18"/><path d="M3338 1108l51-17 11-47-51 19z" color="#0076c7"/><path d="M3432 914l51-25 11-39-51 26z" color="#00c763"/><path d="M3528 752l51-28 12-27-52 27z" color="#2fc700"/><path d="M3626 627l52-26 12-20-52 26z" color="#9fc700"/><path class="m" d="M3389 1091l11-47M3483 889l11-39M3579 724l12-27M3678 601l12-20"/><path d="M3726 530l52-25 25-27-53 25z" color="#c78100"/><path d="M3827 457l53-23 24-16-52 23z" color="#c24908"/><path d="M4135 401l53-15 25 28-53 15z" color="#ff5728"/><path d="M4238 448l53-12 24 37-53 11z" color="#fe7b18"/><path d="M4340 511l53-8 24 37-53 8z" color="#fbba12"/><path d="M4442 575l52-5 25 35-53 4z" color="#e4fa0f"/><path d="M4543 640l52-1 24 37-52 1z" color="#97f609"/><path d="M4644 713l52 2 24 37-52-2z" color="#44f208"/><path d="M4743 789l52 7 24 37-52-7z" color="#08ee20"/><path d="M4843 869l51 10 24 35-52-10z" color="#08ea74"/><path d="M4941 948l51 14 24 32-51-15z" color="#08e6c4"/><path class="m" d="M3778 505l25-27M3880 434l24-16M4188 386l25 28M4291 436l24 37M4393 503l24 37M4494 570l25 35M4595 639l24 37M4696 715l24 37M4795 796l24 37M4894 879l24 35M4992 962l24 32"/><path d="M3349 1063l51-19 10-45-51 21z" color="#00a3c7"/><path d="M3443 876l51-26 11-36-51 27z" color="#00c73e"/><path d="M3539 724l52-27 11-25-51 27z" color="#4ac700"/><path d="M3638 607l52-26 12-18-52 26z" color="#b3c700"/><path class="m" d="M3400 1044l10-45M3494 850l11-36M3591 697l11-25M3690 581l12-18"/><path d="M3267 1211l50-15 11-44-51 16z" color="#001ac7"/><path d="M3359 1020l51-21 11-44-51 23z" color="#00c7bf"/><path d="M3454 841l51-27 11-33-51 28z" color="#00c71c"/><path d="M3551 699l51-27 12-23-52 27z" color="#63c700"/><path class="m" d="M3317 1196l11-44M3267 1211l50-15M3410 999l11-44M3359 1020l51-21M3505 814l11-33M3454 841l51-27M3602 672l12-23M3551 699l51-27"/><path d="M3650 589l52-26 24-33-52 27z" color="#c7b800"/><path d="M3750 503l53-25 24-21-52 25z" color="#c76500"/><path d="M3852 441l52-23 25-10-53 23z" color="#d03f08"/><path d="M4057 397l53-18 25 22-53 18z" color="#ff5330"/><path d="M4160 429l53-15 25 34-53 15z" color="#ff6822"/><path d="M4262 484l53-11 25 38-53 11z" color="#fd9817"/><path d="M4364 548l53-8 25 35-53 7z" color="#fce114"/><path d="M4466 609l53-4 24 35-53 5z" color="#c5f90e"/><path d="M4567 677l52-1 25 37-53 0z" color="#76f509"/><path d="M4668 750l52 2 23 37-51-2z" color="#23f208"/><path d="M4767 826l52 7 24 36-52-7z" color="#08ee3f"/><path d="M4866 904l52 10 23 34-51-11z" color="#08ea90"/><path d="M4965 979l51 15 24 22-51-15z" color="#08e2d5"/><path class="m" d="M3702 563l24-33M3650 589l52-26M3803 478l24-21M3750 503l53-25M3904 418l25-10M3852 441l52-23M4110 379l25 22M4057 397l53-18M4213 414l25 34M4160 429l53-15M4315 473l25 38M4262 484l53-11M4417 540l25 35M4364 548l53-8M4519 605l24 35M4466 609l53-4M4619 676l25 37M4567 677l52-1M4720 752l23 37M4668 750l52 2M4819 833l24 36M4767 826l52 7M4918 914l23 34M4866 904l52 10M5016 994l24 22M4965 979l51 15"/><path d="M3277 1168l51-16 10-44-51 17z" color="#0046c7"/><path d="M3370 978l51-23 11-41-52 25z" color="#00c796"/><path d="M3465 809l51-28 12-29-52 28z" color="#04c700"/><path d="M3562 676l52-27 12-22-52 28z" color="#7bc700"/><path class="m" d="M3328 1152l10-44M3421 955l11-41M3516 781l12-29M3614 649l12-22"/><path d="M3954 403l53-21 50 15-53 21z" color="#fc3913"/><path class="m" d="M4007 382l50 15M3954 403l53-21"/><path d="M3287 1125l51-17 11-45-51 19z" color="#0072c7"/><path d="M3380 939l52-25 11-38-52 26z" color="#00c76f"/><path d="M3476 780l52-28 11-28-51 29z" color="#21c700"/><path d="M3574 655l52-28 12-20-52 28z" color="#91c700"/><path class="m" d="M3338 1108l11-45M3432 914l11-38M3528 752l11-28M3626 627l12-20"/><path d="M3674 557l52-27 24-27-52 27z" color="#c78f00"/><path d="M3775 482l52-25 25-16-53 25z" color="#c35308"/><path d="M3876 431l53-23 25-5-53 22z" color="#df3708"/><path d="M4082 419l53-18 25 28-53 18z" color="#ff5f2d"/><path d="M4185 463l53-15 24 36-53 15z" color="#ff7f1d"/><path d="M4287 522l53-11 24 37-52 11z" color="#feba17"/><path d="M4389 582l53-7 24 34-53 8z" color="#effc14"/><path d="M4490 645l53-5 24 37-52 4z" color="#a6f90d"/><path d="M4591 713l53 0 24 37-53 0z" color="#56f509"/><path d="M4692 787l51 2 24 37-52-3z" color="#08f20c"/><path d="M4791 862l52 7 23 35-51-7z" color="#08ee5d"/><path d="M4890 937l51 11 24 31-51-10z" color="#08eaaa"/><path d="M4989 1001l51 15 24 13-51-14z" color="#08dad7"/><path class="m" d="M3726 530l24-27M3827 457l25-16M3929 408l25-5M4135 401l25 28M4238 448l24 36M4340 511l24 37M4442 575l24 34M4543 640l24 37M4644 713l24 37M4743 789l24 37M4843 869l23 35M4941 948l24 31M5040 1016l24 13"/><path d="M3298 1082l51-19 10-43-51 21z" color="#009dc7"/><path d="M3391 902l52-26 11-35-52 27z" color="#00c74b"/><path d="M3488 753l51-29 12-25-52 29z" color="#3cc700"/><path d="M3586 635l52-28 12-18-52 28z" color="#a5c700"/><path class="m" d="M3349 1063l10-43M3443 876l11-35M3539 724l12-25M3638 607l12-18"/><path d="M3216 1227l51-16 10-43-51 16z" color="#0018c7"/><path d="M3308 1041l51-21 11-42-51 23z" color="#00c6c7"/><path d="M3402 868l52-27 11-32-52 28z" color="#00c729"/><path d="M3499 728l52-29 11-23-51 29z" color="#55c700"/><path class="m" d="M3267 1211l10-43M3216 1227l51-16M3359 1020l11-42M3308 1041l51-21M3454 841l11-32M3402 868l52-27M3551 699l11-23M3499 728l52-29"/><path d="M3598 617l52-28 24-32-52 27z" color="#c1c700"/><path d="M3698 530l52-27 25-21-53 26z" color="#c77200"/><path d="M3799 466l53-25 24-10-52 24z" color="#d14908"/><path d="M4004 418l53-21 25 22-53 20z" color="#ff5c35"/><path d="M4107 447l53-18 25 34-53 17z" color="#ff6f27"/><path d="M4209 499l53-15 25 38-53 14z" color="#ff9c1b"/><path d="M4312 559l52-11 25 34-53 12z" color="#ffdf19"/><path d="M4413 617l53-8 24 36-52 8z" color="#d0fc13"/><path d="M4515 681l52-4 24 36-52 5z" color="#85f80d"/><path d="M4615 750l53 0 24 37-53 0z" color="#35f509"/><path d="M4715 823l52 3 24 36-52-3z" color="#08f22b"/><path d="M4815 897l51 7 24 33-51-7z" color="#08ee79"/><path d="M4914 969l51 10 24 22-51-10z" color="#08e7bc"/><path class="m" d="M3650 589l24-32M3598 617l52-28M3750 503l25-21M3698 530l52-27M3852 441l24-10M3799 466l53-25M4057 397l25 22M4004 418l53-21M4160 429l25 34M4107 447l53-18M4262 484l25 38M4209 499l53-15M4364 548l25 34M4312 559l52-11M4466 609l24 36M4413 617l53-8M4567 677l24 36M4515 681l52-4M4668 750l24 37M4615 750l53 0M4767 826l24 36M4715 823l52 3M4866 904l24 33M4815 897l51 7M4965 979l24 22M4914 969l51 10"/><path d="M3226 1184l51-16 10-43-51 17z" color="#0043c7"/><path d="M3319 1001l51-23 10-39-51 25z" color="#00c7a0"/><path d="M3413 837l52-28 11-29-51 29z" color="#00c70b"/><path d="M3511 705l51-29 12-21-52 29z" color="#6cc700"/><path class="m" d="M3277 1168l10-43M3370 978l10-39M3465 809l11-29M3562 676l12-21"/><path d="M3901 425l53-22 50 15-53 22z" color="#fd4416"/><path d="M5013 1015l51 14 49 13-51-14z" color="#08d0d0"/><path class="m" d="M3954 403l50 15M3901 425l53-22M5064 1029l49 13M5013 1015l51 14"/><path d="M3236 1142l51-17 11-43-51 19z" color="#006ec7"/><path d="M3329 964l51-25 11-37-51 27z" color="#00c77b"/><path d="M3425 809l51-29 12-27-52 29z" color="#12c700"/><path d="M3522 684l52-29 12-20-52 29z" color="#82c700"/><path class="m" d="M3287 1125l11-43M3380 939l11-37M3476 780l12-27M3574 655l12-20"/><path d="M3622 584l52-27 24-27-52 28z" color="#c79f00"/><path d="M3722 508l53-26 24-16-52 26z" color="#c45f08"/><path d="M3824 455l52-24 25-6-53 25z" color="#e04108"/><path d="M4029 439l53-20 25 28-53 20z" color="#ff6832"/><path d="M4132 480l53-17 24 36-52 17z" color="#ff8522"/><path d="M4234 536l53-14 25 37-53 14z" color="#ffbc1c"/><path d="M4336 594l53-12 24 35-52 11z" color="#f5ff19"/><path d="M4438 653l52-8 25 36-53 8z" color="#b1fb12"/><path d="M4539 718l52-5 24 37-52 5z" color="#65f80d"/><path d="M4639 787l53 0 23 36-52 1z" color="#15f509"/><path d="M4739 859l52 3 24 35-52-3z" color="#08f249"/><path d="M4839 930l51 7 24 32-52-8z" color="#08ee94"/><path d="M4938 991l51 10 24 14-51-11z" color="#08dfc1"/><path class="m" d="M3674 557l24-27M3775 482l24-16M3876 431l25-6M4082 419l25 28M4185 463l24 36M4287 522l25 37M4389 582l24 35M4490 645l25 36M4591 713l24 37M4692 787l23 36M4791 862l24 35M4890 937l24 32M4989 1001l24 14"/><path d="M3247 1101l51-19 10-41-51 20z" color="#0097c7"/><path d="M3340 929l51-27 11-34-51 28z" color="#00c758"/><path d="M3436 782l52-29 11-25-52 29z" color="#2dc700"/><path d="M3534 664l52-29 12-18-52 29z" color="#96c700"/><path class="m" d="M3298 1082l10-41M3391 902l11-34M3488 753l11-25M3586 635l12-18"/><path d="M3165 1242l51-15 10-43-51 15z" color="#0016c7"/><path d="M3257 1061l51-20 11-40-51 23z" color="#00bec7"/><path d="M3351 896l51-28 11-31-51 29z" color="#00c737"/><path d="M3447 757l52-29 12-23-52 30z" color="#46c700"/><path class="m" d="M3216 1227l10-43M3165 1242l10-43M3165 1242l51-15M3308 1041l11-40M3257 1061l51-20M3402 868l11-31M3351 896l51-28M3499 728l12-23M3447 757l52-29"/><path d="M3546 646l52-29 24-33-53 29z" color="#b2c700"/><path d="M3646 558l52-28 24-22-52 28z" color="#c78000"/><path d="M3747 492l52-26 25-11-53 27z" color="#d25408"/><path d="M3951 440l53-22 25 21-53 23z" color="#ff6738"/><path d="M4054 467l53-20 25 33-53 20z" color="#ff782b"/><path d="M4157 516l52-17 25 37-53 18z" color="#ffa120"/><path d="M4259 573l53-14 24 35-52 14z" color="#ffe01f"/><path d="M4361 628l52-11 25 36-53 11z" color="#d7fe18"/><path d="M4462 689l53-8 24 37-52 8z" color="#91fb12"/><path d="M4563 755l52-5 24 37-52 5z" color="#45f80c"/><path d="M4663 824l52-1 24 36-52 0z" color="#09f51b"/><path d="M4763 894l52 3 24 33-52-3z" color="#08f265"/><path d="M4862 961l52 8 24 22-52-7z" color="#08eba6"/><path class="m" d="M3598 617l24-33M3546 646l52-29M3698 530l24-22M3646 558l52-28M3799 466l25-11M3747 492l52-26M4004 418l25 21M3951 440l53-22M4107 447l25 33M4054 467l53-20M4209 499l25 37M4157 516l52-17M4312 559l24 35M4259 573l53-14M4413 617l25 36M4361 628l52-11M4515 681l24 37M4462 689l53-8M4615 750l24 37M4563 755l52-5M4715 823l24 36M4663 824l52-1M4815 897l24 33M4763 894l52 3M4914 969l24 22M4862 961l52 8"/><path d="M3175 1199l51-15 10-42-51 17z" color="#0041c7"/><path d="M3268 1024l51-23 10-37-51 24z" color="#00c7aa"/><path d="M3362 866l51-29 12-28-52 29z" color="#00c719"/><path d="M3459 735l52-30 11-21-51 29z" color="#5dc700"/><path class="m" d="M3226 1184l10-42M3175 1199l10-40M3319 1001l10-37M3413 837l12-28M3511 705l11-21"/><path d="M3848 450l53-25 50 15-53 25z" color="#fe5017"/><path d="M4962 1004l51 11 49 13-51-10z" color="#08d5bb"/><path d="M5062 1028l51 14 49 16-51-14z" color="#08d2d3"/><path class="m" d="M3901 425l50 15M3848 450l53-25M5013 1015l49 13M4962 1004l51 11M5113 1042l49 16M5062 1028l51 14M5111 1044l51 14"/><path d="M3185 1159l51-17 11-41-51 19z" color="#006ac7"/><path d="M3278 988l51-24 11-35-51 26z" color="#00c786"/><path d="M3373 838l52-29 11-27-51 29z" color="#03c700"/><path d="M3471 713l51-29 12-20-52 30z" color="#73c700"/><path class="m" d="M3236 1142l11-41M3185 1159l11-39M3329 964l11-35M3425 809l11-27M3522 684l12-20"/><path d="M3569 613l53-29 24-26-53 29z" color="#c7b200"/><path d="M3670 536l52-28 25-16-53 28z" color="#c56c08"/><path d="M3771 482l53-27 24-5-52 27z" color="#e14d08"/><path d="M3976 462l53-23 25 28-53 23z" color="#ff7335"/><path d="M4079 500l53-20 25 36-53 20z" color="#ff8e26"/><path d="M4181 554l53-18 25 37-53 17z" color="#ffc120"/><path d="M4284 608l52-14 25 34-53 15z" color="#f6ff1f"/><path d="M4385 664l53-11 24 36-52 11z" color="#b8fe17"/><path d="M4487 726l52-8 24 37-52 8z" color="#71fb11"/><path d="M4587 792l52-5 24 37-52 4z" color="#26f80c"/><path d="M4687 859l52 0 24 35-52 0z" color="#09f539"/><path d="M4787 927l52 3 23 31-51-3z" color="#08f180"/><path d="M4886 984l52 7 24 13-51-7z" color="#08e4ac"/><path class="m" d="M3622 584l24-26M3722 508l25-16M3824 455l24-5M4029 439l25 28M4132 480l25 36M4234 536l25 37M4336 594l25 34M4438 653l24 36M4539 718l24 37M4639 787l24 37M4739 859l24 35M4839 930l23 31M4938 991l24 13"/><path d="M3196 1120l51-19 10-40-51 21z" color="#0091c7"/><path d="M3289 955l51-26 11-33-51 28z" color="#00c765"/><path d="M3385 811l51-29 11-25-51 30z" color="#1dc700"/><path d="M3482 694l52-30 12-18-52 29z" color="#87c700"/><path class="m" d="M3247 1101l10-40M3196 1120l10-38M3340 929l11-33M3436 782l11-25M3534 664l12-18"/><path d="M3206 1082l51-21 11-37-51 23z" color="#00b6c7"/><path d="M3300 924l51-28 11-30-51 28z" color="#00c745"/><path d="M3396 787l51-30 12-22-52 29z" color="#36c700"/><path class="m" d="M3257 1061l11-37M3206 1082l11-35M3206 1082l51-21M3351 896l11-30M3300 924l51-28M3447 757l12-22M3396 787l51-30"/><path d="M3494 675l52-29 23-33-52 30z" color="#a2c700"/><path d="M3593 587l53-29 24-22-53 29z" color="#b98808"/><path d="M3694 520l53-28 24-10-52 28z" color="#d36208"/><path d="M3898 465l53-25 25 22-53 25z" color="#ff723b"/><path d="M4001 490l53-23 25 33-53 23z" color="#ff822f"/><path d="M4104 536l53-20 24 38-52 20z" color="#ffa924"/><path d="M4206 590l53-17 25 35-53 17z" color="#ffe523"/><path d="M4308 643l53-15 24 36-52 14z" color="#d9ff1d"/><path d="M4410 700l52-11 25 37-53 11z" color="#99fd17"/><path d="M4511 763l52-8 24 37-52 7z" color="#52fb11"/><path d="M4611 828l52-4 24 35-52 4z" color="#0cf812"/><path d="M4711 894l52 0 24 33-52 0z" color="#09f555"/><path d="M4811 958l51 3 24 23-51-4z" color="#08ef93"/><path class="m" d="M3546 646l23-33M3494 675l52-29M3646 558l24-22M3593 587l53-29M3747 492l24-10M3694 520l53-28M3951 440l25 22M3898 465l53-25M4054 467l25 33M4001 490l53-23M4157 516l24 38M4104 536l53-20M4259 573l25 35M4206 590l53-17M4361 628l24 36M4308 643l53-15M4462 689l25 37M4410 700l52-11M4563 755l24 37M4511 763l52-8M4663 824l24 35M4611 828l52-4M4763 894l24 33M4711 894l52 0M4862 961l24 23M4811 958l51 3"/><path d="M3217 1047l51-23 10-36-51 25z" color="#00c7b4"/><path d="M3311 894l51-28 11-28-51 29z" color="#00c728"/><path d="M3407 764l52-29 12-22-52 30z" color="#4dc700"/><path class="m" d="M3268 1024l10-36M3217 1047l10-34M3362 866l11-28M3459 735l12-22"/><path d="M3796 477l52-27 50 15-53 27z" color="#fe5e19"/><path d="M4911 997l51 7 49 14-51-6z" color="#08daa8"/><path d="M5011 1018l51 10 49 16-51-10z" color="#08d7be"/><path class="m" d="M3848 450l50 15M3796 477l52-27M4962 1004l49 14M4911 997l51 7M5062 1028l49 16M5011 1018l51 10M5060 1034l51 10"/><path d="M3227 1013l51-25 11-33-51 26z" color="#00c792"/><path d="M3322 867l51-29 12-27-52 30z" color="#00c70c"/><path d="M3419 743l52-30 11-19-52 30z" color="#63c700"/><path class="m" d="M3278 988l11-33M3227 1013l11-32M3373 838l12-27M3471 713l11-19"/><path d="M3517 643l52-30 24-26-52 29z" color="#c3c700"/><path d="M3617 565l53-29 24-16-52 29z" color="#c57a08"/><path d="M3719 510l52-28 25-5-53 28z" color="#e15b08"/><path d="M3923 487l53-25 25 28-53 25z" color="#ff7e39"/><path d="M4026 523l53-23 25 36-53 23z" color="#ff982a"/><path d="M4129 574l52-20 25 36-53 20z" color="#ffc925"/><path d="M4231 625l53-17 24 35-53 17z" color="#f3ff23"/><path d="M4333 678l52-14 25 36-53 14z" color="#bbff1c"/><path d="M4434 737l53-11 24 37-53 11z" color="#7afd16"/><path d="M4535 799l52-7 24 36-52 7z" color="#33fb11"/><path d="M4635 863l52-4 24 35-52 4z" color="#0df82f"/><path d="M4735 927l52 0 24 31-52-1z" color="#09f570"/><path d="M4835 980l51 4 25 13-52-3z" color="#08e99a"/><path class="m" d="M3569 613l24-26M3670 536l24-16M3771 482l25-5M3976 462l25 28M4079 500l25 36M4181 554l25 36M4284 608l24 35M4385 664l25 36M4487 726l24 37M4587 792l24 36M4687 859l24 35M4787 927l24 31M4886 984l25 13"/><path d="M3238 981l51-26 11-31-51 27z" color="#00c771"/><path d="M3333 841l52-30 11-24-52 30z" color="#0ec700"/><path d="M3430 724l52-30 12-19-52 30z" color="#77c700"/><path class="m" d="M3289 955l11-31M3238 981l11-30M3385 811l11-24M3482 694l12-19"/><path d="M3249 951l51-27 11-30-51 28z" color="#00c753"/><path d="M3344 817l52-30 11-23-51 30z" color="#26c700"/><path class="m" d="M3300 924l11-30M3249 951l11-29M3249 951l51-27M3396 787l11-23M3344 817l52-30"/><path d="M3442 705l52-30 23-32-51 30z" color="#92c700"/><path d="M3541 616l52-29 24-22-52 30z" color="#b99808"/><path d="M3642 549l52-29 25-10-53 29z" color="#d47108"/><path d="M3845 492l53-27 25 22-53 27z" color="#ff7e3d"/><path d="M3948 515l53-25 25 33-53 25z" color="#ff8e32"/><path d="M4051 559l53-23 25 38-53 22z" color="#ffb328"/><path d="M4153 610l53-20 25 35-53 20z" color="#ffed28"/><path d="M4255 660l53-17 25 35-53 17z" color="#d7ff22"/><path d="M4357 714l53-14 24 37-53 14z" color="#9dff1b"/><path d="M4458 774l53-11 24 36-53 11z" color="#5bfd16"/><path d="M4559 835l52-7 24 35-52 7z" color="#16fb11"/><path d="M4659 898l52-4 24 33-52 3z" color="#0df84b"/><path class="m" d="M3494 675l23-32M3442 705l52-30M3593 587l24-22M3541 616l52-29M3694 520l25-10M3642 549l52-29M3898 465l25 22M3845 492l53-27M4001 490l25 33M3948 515l53-25M4104 536l25 38M4051 559l53-23M4206 590l25 35M4153 610l53-20M4308 643l25 35M4255 660l53-17M4410 700l24 37M4357 714l53-14M4511 763l24 36M4458 774l53-11M4611 828l24 35M4559 835l52-7M4711 894l24 33M4659 898l52-4"/><path d="M3260 922l51-28 11-27-51 28z" color="#00c736"/><path d="M3356 794l51-30 12-21-52 30z" color="#3dc700"/><path class="m" d="M3311 894l11-27M3260 922l11-27M3407 764l12-21"/><path d="M3743 505l53-28 49 15-52 28z" color="#ff6d1a"/><path d="M4759 957l52 1 48 36-51 0z" color="#08f185"/><path d="M4859 994l52 3 49 15-52-3z" color="#08df97"/><path d="M4960 1012l51 6 49 16-51-7z" color="#08dba9"/><path class="m" d="M3796 477l49 15M3743 505l53-28M4811 958l48 36M4759 957l52 1M4911 997l49 15M4859 994l52 3M5011 1018l49 16M4960 1012l51 6M5009 1027l51 7"/><path d="M3271 895l51-28 11-26-51 29z" color="#00c71b"/><path d="M3367 773l52-30 11-19-51 30z" color="#53c700"/><path class="m" d="M3322 867l11-26M3271 895l11-25M3419 743l11-19"/><path d="M3466 673l51-30 24-27-52 31z" color="#b3c700"/><path d="M3565 595l52-30 25-16-53 30z" color="#c68a08"/><path d="M3666 539l53-29 24-5-52 29z" color="#e26b08"/><path d="M3870 514l53-27 25 28-53 27z" color="#ff8b3b"/><path d="M3973 548l53-25 25 36-53 25z" color="#ffa42d"/><path d="M4076 596l53-22 24 36-52 23z" color="#ffd328"/><path d="M4178 645l53-20 24 35-52 20z" color="#eeff28"/><path d="M4280 695l53-17 24 36-53 18z" color="#baff21"/><path d="M4381 751l53-14 24 37-52 14z" color="#7fff1b"/><path d="M4482 810l53-11 24 36-52 11z" color="#3dfd16"/><path d="M4583 870l52-7 24 35-52 7z" color="#11fb2a"/><path d="M4683 930l52-3 24 30-52 4z" color="#0df865"/><path class="m" d="M3517 643l24-27M3617 565l25-16M3719 510l24-5M3923 487l25 28M4026 523l25 36M4129 574l24 36M4231 625l24 35M4333 678l24 36M4434 737l24 37M4535 799l24 36M4635 863l24 35M4735 927l24 30"/><path d="M3282 870l51-29 11-24-51 29z" color="#00c701"/><path d="M3379 754l51-30 12-19-52 31z" color="#67c700"/><path class="m" d="M3333 841l11-24M3282 870l11-24M3430 724l12-19"/><path d="M3293 846l51-29 12-23-52 30z" color="#17c700"/><path class="m" d="M3344 817l12-23M3293 846l11-22M3293 846l51-29"/><path d="M3390 736l52-31 24-32-52 31z" color="#82c700"/><path d="M3489 647l52-31 24-21-52 31z" color="#baac08"/><path d="M3589 579l53-30 24-10-52 30z" color="#d48108"/><path d="M3793 520l52-28 25 22-52 28z" color="#ff8b3f"/><path d="M3895 542l53-27 25 33-53 27z" color="#ff9b35"/><path d="M3998 584l53-25 25 37-53 25z" color="#ffc02b"/><path d="M4101 633l52-23 25 35-53 23z" color="#fffb2b"/><path d="M4203 680l52-20 25 35-53 21z" color="#d3ff26"/><path d="M4304 732l53-18 24 37-52 17z" color="#9dff20"/><path d="M4406 788l52-14 24 36-52 14z" color="#61ff1b"/><path d="M4507 846l52-11 24 35-52 11z" color="#21fd16"/><path d="M4607 905l52-7 24 32-52 7z" color="#12fb45"/><path class="m" d="M3442 705l24-32M3390 736l52-31M3541 616l24-21M3489 647l52-31M3642 549l24-10M3589 579l53-30M3845 492l25 22M3793 520l52-28M3948 515l25 33M3895 542l53-27M4051 559l25 37M3998 584l53-25M4153 610l25 35M4101 633l52-23M4255 660l25 35M4203 680l52-20M4357 714l24 37M4304 732l53-18M4458 774l24 36M4406 788l52-14M4559 835l24 35M4507 846l52-11M4659 898l24 32M4607 905l52-7"/><path d="M3304 824l52-30 11-21-51 30z" color="#2ec700"/><path class="m" d="M3356 794l11-21M3304 824l12-21"/><path d="M3691 534l52-29 50 15-53 30z" color="#ff7e1b"/><path d="M4707 961l52-4 49 37-52 3z" color="#09f578"/><path d="M4808 994l51 0 49 15-51-1z" color="#08e388"/><path d="M4908 1009l52 3 49 15-52-4z" color="#08df98"/><path class="m" d="M3743 505l50 15M3691 534l52-29M4759 957l49 37M4707 961l52-4M4859 994l49 15M4808 994l51 0M4960 1012l49 15M4908 1009l52 3M4957 1023l52 4"/><path d="M3316 803l51-30 12-19-52 30z" color="#43c700"/><path class="m" d="M3367 773l12-19M3316 803l11-19"/><path d="M3414 704l52-31 23-26-52 30z" color="#a3c700"/><path d="M3513 626l52-31 24-16-52 31z" color="#c79c08"/><path d="M3614 569l52-30 25-5-53 31z" color="#e37c08"/><path d="M3818 542l52-28 25 28-52 29z" color="#ff993d"/><path d="M3920 575l53-27 25 36-53 27z" color="#ffb230"/><path d="M4023 621l53-25 25 37-53 25z" color="#ffe12b"/><path d="M4125 668l53-23 25 35-53 23z" color="#e7ff2c"/><path d="M4227 716l53-21 24 37-52 20z" color="#b7ff25"/><path d="M4329 768l52-17 25 37-53 17z" color="#80ff20"/><path d="M4430 824l52-14 25 36-53 14z" color="#44ff1b"/><path d="M4531 881l52-11 24 35-52 10z" color="#17fe29"/><path d="M4631 937l52-7 24 31-52 6z" color="#12fb5e"/><path class="m" d="M3466 673l23-26M3565 595l24-16M3666 539l25-5M3870 514l25 28M3973 548l25 36M4076 596l25 37M4178 645l25 35M4280 695l24 37M4381 751l25 37M4482 810l25 36M4583 870l24 35M4683 930l24 31"/><path d="M3327 784l52-30 11-18-51 30z" color="#57c700"/><path class="m" d="M3379 754l11-18M3327 784l12-18"/><path d="M3339 766l51-30 24-32-52 30z" color="#72c700"/><path d="M3437 677l52-30 24-21-52 30z" color="#b2ba08"/><path d="M3537 610l52-31 25-10-53 31z" color="#d59308"/><path d="M3740 550l53-30 25 22-53 30z" color="#ff9a40"/><path d="M3843 571l52-29 25 33-52 29z" color="#ffaa37"/><path d="M3945 611l53-27 25 37-53 27z" color="#ffce2e"/><path d="M4048 658l53-25 24 35-52 25z" color="#f7ff2f"/><path d="M4150 703l53-23 24 36-52 22z" color="#ccff2a"/><path d="M4252 752l52-20 25 36-53 20z" color="#9aff25"/><path d="M4353 805l53-17 24 36-52 17z" color="#63ff20"/><path d="M4454 860l53-14 24 35-53 13z" color="#28ff1c"/><path d="M4555 915l52-10 24 32-52 10z" color="#17fe43"/><path class="m" d="M3390 736l24-32M3339 766l23-32M3339 766l51-30M3489 647l24-21M3437 677l52-30M3589 579l25-10M3537 610l52-31M3793 520l25 22M3740 550l53-30M3895 542l25 33M3843 571l52-29M3998 584l25 37M3945 611l53-27M4101 633l24 35M4048 658l53-25M4203 680l24 36M4150 703l53-23M4304 732l25 36M4252 752l52-20M4406 788l24 36M4353 805l53-17M4507 846l24 35M4454 860l53-14M4607 905l24 32M4555 915l52-10"/><path d="M3638 565l53-31 49 16-52 31z" color="#ff901c"/><path d="M4655 967l52-6 49 36-52 6z" color="#0df871"/><path d="M4756 997l52-3 49 14-52 3z" color="#08e77c"/><path d="M4857 1008l51 1 49 14-51-1z" color="#08e288"/><path class="m" d="M3691 534l49 16M3638 565l53-31M4707 961l49 36M4655 967l52-6M4808 994l49 14M4756 997l52-3M4908 1009l49 14M4857 1008l51 1M4906 1022l51 1"/><path d="M3362 734l52-30 23-27-52 31z" color="#93c700"/><path d="M3461 656l52-30 24-16-52 31z" color="#c7b008"/><path d="M3561 600l53-31 24-4-52 31z" color="#e38e08"/><path d="M3765 572l53-30 25 29-53 30z" color="#ffa73e"/><path d="M3868 604l52-29 25 36-52 29z" color="#ffc132"/><path d="M3970 648l53-27 25 37-53 27z" color="#fff32e"/><path d="M4073 693l52-25 25 35-53 25z" color="#ddff2f"/><path d="M4175 738l52-22 25 36-53 23z" color="#b1ff29"/><path d="M4276 788l53-20 24 37-52 20z" color="#7eff24"/><path d="M4378 841l52-17 24 36-52 16z" color="#47ff20"/><path d="M4478 894l53-13 24 34-52 13z" color="#1cff2b"/><path d="M4579 947l52-10 24 30-52 10z" color="#18fe5c"/><path class="m" d="M3414 704l23-27M3362 734l23-26M3513 626l24-16M3614 569l24-4M3818 542l25 29M3920 575l25 36M4023 621l25 37M4125 668l25 35M4227 716l25 36M4329 768l24 37M4430 824l24 36M4531 881l24 34M4631 937l24 30"/><path d="M3385 708l52-31 24-21-52 31z" color="#a4ba08"/><path d="M3485 641l52-31 24-10-52 31z" color="#d5a608"/><path d="M3688 581l52-31 25 22-52 31z" color="#ffa941"/><path d="M3790 601l53-30 25 33-53 30z" color="#ffb938"/><path d="M3893 640l52-29 25 37-52 29z" color="#ffe030"/><path d="M3995 685l53-27 25 35-53 27z" color="#ebff31"/><path d="M4097 728l53-25 25 35-53 26z" color="#c3ff2e"/><path d="M4199 775l53-23 24 36-52 23z" color="#95ff29"/><path d="M4301 825l52-20 25 36-53 20z" color="#63ff25"/><path d="M4402 876l52-16 24 34-52 17z" color="#2dff21"/><path d="M4503 928l52-13 24 32-52 13z" color="#1dff45"/><path class="m" d="M3437 677l24-21M3385 708l24-21M3385 708l52-31M3537 610l24-10M3485 641l52-31M3740 550l25 22M3688 581l52-31M3843 571l25 33M3790 601l53-30M3945 611l25 37M3893 640l52-29M4048 658l25 35M3995 685l53-27M4150 703l25 35M4097 728l53-25M4252 752l24 36M4199 775l53-23M4353 805l25 36M4301 825l52-20M4454 860l24 34M4402 876l52-16M4555 915l24 32M4503 928l52-13"/><path d="M3586 596l52-31 50 16-53 32z" color="#ffa31d"/><path d="M4603 977l52-10 49 36-52 9z" color="#12fb6d"/><path d="M4704 1003l52-6 49 14-52 6z" color="#08ea73"/><path d="M4805 1011l52-3 49 14-52 3z" color="#08e57b"/><path class="m" d="M3638 565l50 16M3586 596l52-31M4655 967l49 36M4603 977l52-10M4756 997l49 14M4704 1003l52-6M4857 1008l49 14M4805 1011l52-3M4854 1025l52-3"/><path d="M3409 687l52-31 24-15-52 31z" color="#c5c708"/><path d="M3509 631l52-31 25-4-52 31z" color="#e4a208"/><path d="M3713 603l52-31 25 29-52 31z" color="#ffb73f"/><path d="M3815 634l53-30 25 36-53 30z" color="#ffd334"/><path d="M3918 677l52-29 25 37-52 29z" color="#f7ff30"/><path d="M4020 720l53-27 24 35-52 27z" color="#d2ff32"/><path d="M4122 764l53-26 24 37-52 25z" color="#a9ff2d"/><path d="M4224 811l52-23 25 37-53 22z" color="#7aff29"/><path d="M4325 861l53-20 24 35-53 20z" color="#48ff25"/><path d="M4426 911l52-17 25 34-53 16z" color="#22ff30"/><path d="M4527 960l52-13 24 30-52 12z" color="#1eff5c"/><path class="m" d="M3461 656l24-15M3409 687l24-15M3561 600l25-4M3765 572l25 29M3868 604l25 36M3970 648l25 37M4073 693l24 35M4175 738l24 37M4276 788l25 37M4378 841l24 35M4478 894l25 34M4579 947l24 30"/><path d="M3433 672l52-31 24-10-52 32z" color="#d6bc08"/><path d="M3635 613l53-32 25 22-53 33z" color="#ffb942"/><path d="M3738 632l52-31 25 33-52 32z" color="#ffcb3a"/><path d="M3840 670l53-30 25 37-53 31z" color="#fff632"/><path d="M3943 714l52-29 25 35-53 30z" color="#deff34"/><path d="M4045 755l52-27 25 36-53 27z" color="#b8ff30"/><path d="M4147 800l52-25 25 36-53 25z" color="#8eff2c"/><path d="M4248 847l53-22 24 36-53 22z" color="#5fff29"/><path d="M4349 896l53-20 24 35-52 19z" color="#2eff26"/><path d="M4450 944l53-16 24 32-53 16z" color="#23ff49"/><path class="m" d="M3485 641l24-10M3433 672l24-9M3433 672l52-31M3688 581l25 22M3635 613l53-32M3790 601l25 33M3738 632l52-31M3893 640l25 37M3840 670l53-30M3995 685l25 35M3943 714l52-29M4097 728l25 36M4045 755l52-27M4199 775l25 36M4147 800l52-25M4301 825l24 36M4248 847l53-22M4402 876l24 35M4349 896l53-20M4503 928l24 32M4450 944l53-16"/><path d="M3534 627l52-31 49 17-52 32z" color="#ffb71e"/><path d="M4551 989l52-12 49 35-53 12z" color="#17fe6c"/><path d="M4652 1012l52-9 49 14-52 9z" color="#08ed6c"/><path d="M4753 1017l52-6 49 14-52 5z" color="#08e771"/><path class="m" d="M3586 596l49 17M3534 627l52-31M4603 977l49 35M4551 989l52-12M4704 1003l49 14M4652 1012l52-9M4805 1011l49 14M4753 1017l52-6M4802 1030l52-5"/><path d="M3457 663l52-32 25-4-52 32z" color="#e4b808"/><path d="M3660 636l53-33 25 29-53 33z" color="#ffc940"/><path d="M3763 666l52-32 25 36-52 32z" color="#ffe835"/><path d="M3865 708l53-31 25 37-53 31z" color="#e8ff32"/><path d="M3967 750l53-30 25 35-53 30z" color="#c5ff34"/><path d="M4069 791l53-27 25 36-53 27z" color="#9eff30"/><path d="M4171 836l53-25 24 36-52 25z" color="#73ff2c"/><path d="M4272 883l53-22 24 35-52 22z" color="#45ff2a"/><path d="M4374 930l52-19 24 33-52 19z" color="#27ff37"/><path d="M4474 976l53-16 24 29-52 16z" color="#24ff5f"/><path class="m" d="M3509 631l25-4M3457 663l25-4M3713 603l25 29M3815 634l25 36M3918 677l25 37M4020 720l25 35M4122 764l25 36M4224 811l24 36M4325 861l24 35M4426 911l24 33M4527 960l24 29"/><path d="M3583 645l52-32 25 23-52 32z" color="#ffcb42"/><path d="M3685 665l53-33 25 34-53 33z" color="#ffdf3a"/><path d="M3788 702l52-32 25 38-52 32z" color="#f2ff33"/><path d="M3890 745l53-31 24 36-52 31z" color="#cfff36"/><path d="M3992 785l53-30 24 36-52 30z" color="#acff33"/><path d="M4094 827l53-27 24 36-52 28z" color="#84ff2f"/><path d="M4196 872l52-25 24 36-52 25z" color="#59ff2d"/><path d="M4297 918l52-22 25 34-53 23z" color="#2dff2b"/><path d="M4398 963l52-19 24 32-52 19z" color="#28ff4f"/><path class="m" d="M3635 613l25 23M3583 645l52-32M3738 632l25 34M3685 665l53-33M3840 670l25 38M3788 702l52-32M3943 714l24 36M3890 745l53-31M4045 755l24 36M3992 785l53-30M4147 800l24 36M4094 827l53-27M4248 847l24 36M4196 872l52-25M4349 896l25 34M4297 918l52-22M4450 944l24 32M4398 963l52-19"/><path d="M3482 659l52-32 49 18-52 33z" color="#ffcd1f"/><path d="M4499 1005l52-16 48 35-52 15z" color="#1cff6e"/><path d="M4599 1024l53-12 49 14-53 12z" color="#08ef67"/><path d="M4701 1026l52-9 49 13-52 8z" color="#08e969"/><path class="m" d="M3534 627l49 18M3482 659l49 19M3482 659l52-32M4551 989l48 35M4499 1005l52-16M4652 1012l49 14M4599 1024l53-12M4753 1017l49 13M4701 1026l52-9M4750 1038l52-8"/><path d="M3608 668l52-32 25 29-52 33z" color="#ffdc40"/><path d="M3710 699l53-33 25 36-53 34z" color="#fbff36"/><path d="M3813 740l52-32 25 37-52 33z" color="#d8ff34"/><path d="M3915 781l52-31 25 35-52 31z" color="#b7ff36"/><path d="M4017 821l52-30 25 36-52 30z" color="#92ff32"/><path d="M4119 864l52-28 25 36-53 28z" color="#6aff30"/><path d="M4220 908l52-25 25 35-53 25z" color="#41ff2e"/><path d="M4321 953l53-23 24 33-53 22z" color="#2cff41"/><path d="M4422 995l52-19 25 29-53 18z" color="#29ff65"/><path class="m" d="M3660 636l25 29M3763 666l25 36M3865 708l25 37M3967 750l25 35M4069 791l25 36M4171 836l25 36M4272 883l25 35M4374 930l24 33M4474 976l25 29"/><path d="M3531 678l52-33 25 23-52 34z" color="#ffdf43"/><path d="M3633 698l52-33 25 34-52 33z" color="#fff93b"/><path d="M3735 736l53-34 25 38-52 34z" color="#e1ff34"/><path d="M3838 778l52-33 25 36-52 33z" color="#bfff37"/><path d="M3940 816l52-31 25 36-52 31z" color="#9eff35"/><path d="M4042 857l52-30 25 37-53 30z" color="#79ff32"/><path d="M4143 900l53-28 24 36-52 28z" color="#51ff30"/><path d="M4244 943l53-25 24 35-52 24z" color="#2fff34"/><path d="M4345 985l53-22 24 32-52 21z" color="#2dff58"/><path class="m" d="M3583 645l25 23M3531 678l25 24M3531 678l52-33M3685 665l25 34M3633 698l52-33M3788 702l25 38M3735 736l53-34M3890 745l25 36M3838 778l52-33M3992 785l25 36M3940 816l52-31M4094 827l25 37M4042 857l52-30M4196 872l24 36M4143 900l53-28M4297 918l24 35M4244 943l53-25M4398 963l24 32M4345 985l53-22"/><path d="M4446 1023l53-18 48 34-52 18z" color="#21ff72"/><path d="M4547 1039l52-15 49 14-52 15z" color="#08f166"/><path d="M4648 1038l53-12 49 12-53 11z" color="#08eb63"/><path class="m" d="M4499 1005l48 34M4446 1023l53-18M4599 1024l49 14M4547 1039l52-15M4701 1026l49 12M4648 1038l53-12M4697 1049l53-11"/><path d="M3556 702l52-34 25 30-52 34z" color="#fff440"/><path d="M3658 732l52-33 25 37-52 34z" color="#e9ff36"/><path d="M3761 774l52-34 25 38-53 34z" color="#c7ff35"/><path d="M3863 814l52-33 25 35-53 33z" color="#a7ff38"/><path d="M3965 852l52-31 25 36-53 32z" color="#85ff34"/><path d="M4066 894l53-30 24 36-52 30z" color="#60ff32"/><path d="M4168 936l52-28 24 35-52 28z" color="#3aff31"/><path d="M4269 977l52-24 24 32-52 25z" color="#30ff4c"/><path d="M4370 1016l52-21 24 28-52 21z" color="#2eff6d"/><path class="m" d="M3608 668l25 30M3556 702l25 30M3710 699l25 37M3813 740l25 38M3915 781l25 35M4017 821l25 36M4119 864l24 36M4220 908l24 35M4321 953l24 32M4422 995l24 28"/><path d="M3581 732l52-34 25 34-52 35z" color="#f0ff3b"/><path d="M3683 770l52-34 26 38-53 35z" color="#cfff34"/><path d="M3785 812l53-34 25 36-53 34z" color="#afff38"/><path d="M3887 849l53-33 25 36-53 34z" color="#8fff37"/><path d="M3989 889l53-32 24 37-52 31z" color="#6cff34"/><path d="M4091 930l52-30 25 36-53 29z" color="#48ff33"/><path d="M4192 971l52-28 25 34-53 27z" color="#32ff41"/><path d="M4293 1010l52-25 25 31-53 24z" color="#31ff62"/><path class="m" d="M3633 698l25 34M3581 732l25 35M3581 732l52-34M3735 736l26 38M3683 770l52-34M3838 778l25 36M3785 812l53-34M3940 816l25 36M3887 849l53-33M4042 857l24 37M3989 889l53-32M4143 900l25 36M4091 930l52-30M4244 943l25 34M4192 971l52-28M4345 985l25 31M4293 1010l52-25"/><path d="M4394 1044l52-21 49 34-53 21z" color="#25ff79"/><path d="M4495 1057l52-18 49 14-52 17z" color="#08f367"/><path d="M4596 1053l52-15 49 11-52 13z" color="#08ec61"/><path class="m" d="M4446 1023l49 34M4394 1044l52-21M4547 1039l49 14M4495 1057l52-18M4648 1038l49 11M4596 1053l52-15M4645 1062l52-13"/><path d="M3606 767l52-35 25 38-52 35z" color="#d7ff36"/><path d="M3708 809l53-35 24 38-52 35z" color="#b4ff35"/><path d="M3810 848l53-34 24 35-52 35z" color="#97ff39"/><path d="M3912 886l53-34 24 37-52 33z" color="#76ff36"/><path d="M4014 925l52-31 25 36-53 32z" color="#53ff35"/><path d="M4115 965l53-29 24 35-52 29z" color="#34ff38"/><path d="M4216 1004l53-27 24 33-52 27z" color="#34ff59"/><path d="M4317 1040l53-24 24 28-52 24z" color="#33ff76"/><path class="m" d="M3658 732l25 38M3606 767l25 38M3761 774l24 38M3863 814l24 35M3965 852l24 37M4066 894l25 36M4168 936l24 35M4269 977l24 33M4370 1016l24 28"/><path d="M3631 805l52-35 25 39-52 35z" color="#bcff34"/><path d="M3733 847l52-35 25 36-52 36z" color="#9dff39"/><path d="M3835 884l52-35 25 37-52 35z" color="#7eff38"/><path d="M3937 922l52-33 25 36-52 34z" color="#5dff36"/><path d="M4038 962l53-32 24 35-52 32z" color="#3cff36"/><path d="M4140 1000l52-29 24 33-52 30z" color="#36ff50"/><path d="M4241 1037l52-27 24 30-52 27z" color="#35ff6e"/><path class="m" d="M3683 770l25 39M3631 805l25 39M3631 805l52-35M3785 812l25 36M3733 847l52-35M3887 849l25 37M3835 884l52-35M3989 889l25 36M3937 922l52-33M4091 930l24 35M4038 962l53-32M4192 971l24 33M4140 1000l52-29M4293 1010l24 30M4241 1037l52-27"/><path d="M4342 1068l52-24 48 34-52 23z" color="#28ff81"/><path d="M4442 1078l53-21 49 13-53 21z" color="#08f46a"/><path d="M4544 1070l52-17 49 9-52 17z" color="#08ed60"/><path class="m" d="M4394 1044l48 34M4342 1068l52-24M4495 1057l49 13M4442 1078l53-21M4596 1053l49 9M4544 1070l52-17M4593 1079l52-17"/><path d="M3656 844l52-35 25 38-52 36z" color="#a1ff35"/><path d="M3758 884l52-36 25 36-52 36z" color="#85ff39"/><path d="M3860 921l52-35 25 36-52 35z" color="#66ff38"/><path d="M3962 959l52-34 24 37-52 33z" color="#45ff37"/><path d="M4063 997l52-32 25 35-53 32z" color="#37ff48"/><path d="M4164 1034l52-30 25 33-53 29z" color="#37ff67"/><path d="M4265 1067l52-27 25 28-53 26z" color="#37ff81"/><path class="m" d="M3708 809l25 38M3656 844l25 39M3810 848l25 36M3912 886l25 36M4014 925l24 37M4115 965l25 35M4216 1004l25 33M4317 1040l25 28"/><path d="M3681 883l52-36 25 37-52 36z" color="#8aff39"/><path d="M3783 920l52-36 25 37-52 36z" color="#6dff39"/><path d="M3885 957l52-35 25 37-53 35z" color="#4dff38"/><path d="M3986 995l52-33 25 35-52 34z" color="#38ff41"/><path d="M4087 1032l53-32 24 34-52 32z" color="#39ff60"/><path d="M4188 1066l53-29 24 30-52 29z" color="#39ff7b"/><path class="m" d="M3733 847l25 37M3681 883l25 37M3681 883l52-36M3835 884l25 37M3783 920l52-36M3937 922l25 37M3885 957l52-35M4038 962l25 35M3986 995l52-33M4140 1000l24 34M4087 1032l53-32M4241 1037l24 30M4188 1066l53-29"/><path d="M4289 1094l53-26 48 33-52 26z" color="#2bff8a"/><path d="M4390 1101l52-23 49 13-52 22z" color="#09f571"/><path d="M4491 1091l53-21 49 9-53 18z" color="#08ee63"/><path class="m" d="M4342 1068l48 33M4289 1094l53-26M4442 1078l49 13M4390 1101l52-23M4544 1070l49 9M4491 1091l53-21M4540 1097l53-18"/><path d="M3706 920l52-36 25 36-52 37z" color="#73ff3a"/><path d="M3808 957l52-36 25 36-52 37z" color="#54ff39"/><path d="M3909 994l53-35 24 36-52 36z" color="#38ff3b"/><path d="M4011 1031l52-34 24 35-52 34z" color="#39ff59"/><path d="M4112 1066l52-32 24 32-52 31z" color="#3aff76"/><path d="M4213 1096l52-29 24 27-52 29z" color="#3aff8d"/><path class="m" d="M3758 884l25 36M3706 920l25 37M3860 921l25 36M3962 959l24 36M4063 997l24 35M4164 1034l24 32M4265 1067l24 27"/><path d="M3731 957l52-37 25 37-52 37z" color="#5aff39"/><path d="M3833 994l52-37 24 37-52 37z" color="#3cff39"/><path d="M3934 1031l52-36 25 36-53 36z" color="#3aff53"/><path d="M4035 1066l52-34 25 34-52 33z" color="#3bff70"/><path d="M4136 1097l52-31 25 30-53 31z" color="#3cff89"/><path class="m" d="M3783 920l25 37M3731 957l25 37M3731 957l52-37M3885 957l24 37M3833 994l52-37M3986 995l25 36M3934 1031l52-36M4087 1032l25 34M4035 1066l52-34M4188 1066l25 30M4136 1097l52-31"/><path d="M4237 1123l52-29 49 33-53 28z" color="#2dff96"/><path d="M4338 1127l52-26 49 12-52 25z" color="#09f57a"/><path d="M4439 1113l52-22 49 6-52 22z" color="#08ee67"/><path class="m" d="M4289 1094l49 33M4237 1123l52-29M4390 1101l49 12M4338 1127l52-26M4491 1091l49 6M4439 1113l52-22M4488 1119l52-22"/><path d="M3756 994l52-37 25 37-52 38z" color="#42ff39"/><path d="M3857 1031l52-37 25 37-52 37z" color="#3aff4e"/><path d="M3958 1067l53-36 24 35-52 35z" color="#3bff6b"/><path d="M4060 1099l52-33 24 31-52 34z" color="#3dff85"/><path d="M4160 1127l53-31 24 27-52 31z" color="#3dff9b"/><path class="m" d="M3808 957l25 37M3756 994l25 38M3909 994l25 37M4011 1031l24 35M4112 1066l24 31M4213 1096l24 27"/><path d="M3781 1032l52-38 24 37-52 38z" color="#3aff49"/><path d="M3882 1068l52-37 24 36-52 37z" color="#3bff66"/><path d="M3983 1101l52-35 25 33-53 36z" color="#3dff81"/><path d="M4084 1131l52-34 24 30-52 34z" color="#3eff99"/><path class="m" d="M3833 994l24 37M3781 1032l24 37M3781 1032l52-38M3934 1031l24 36M3882 1068l52-37M4035 1066l25 33M3983 1101l52-35M4136 1097l24 30M4084 1131l52-34"/><path d="M4185 1154l52-31 48 32-52 31z" color="#2fffa2"/><path d="M4285 1155l53-28 49 11-53 28z" color="#09f684"/><path d="M4387 1138l52-25 49 6-53 24z" color="#08ee6e"/><path class="m" d="M4237 1123l48 32M4185 1154l52-31M4338 1127l49 11M4285 1155l53-28M4439 1113l49 6M4387 1138l52-25M4435 1143l53-24"/><path d="M3805 1069l52-38 25 37-52 38z" color="#3bff62"/><path d="M3906 1104l52-37 25 34-52 38z" color="#3dff7e"/><path d="M4007 1135l53-36 24 32-52 35z" color="#3fff96"/><path d="M4108 1161l52-34 25 27-52 33z" color="#3fffa9"/><path class="m" d="M3857 1031l25 37M3805 1069l25 37M3958 1067l25 34M4060 1099l24 32M4160 1127l25 27"/><path d="M3830 1106l52-38 24 36-51 38z" color="#3cff7a"/><path d="M3931 1139l52-38 24 34-52 37z" color="#3eff93"/><path d="M4032 1166l52-35 24 30-52 35z" color="#40ffa9"/><path class="m" d="M3882 1068l24 36M3830 1106l25 36M3830 1106l52-38M3983 1101l24 34M3931 1139l52-38M4084 1131l24 30M4032 1166l52-35"/><path d="M4133 1187l52-33 48 32-52 32z" color="#2fffb0"/><path d="M4233 1186l52-31 49 11-52 29z" color="#09f691"/><path d="M4334 1166l53-28 48 5-52 26z" color="#08ee77"/><path class="m" d="M4185 1154l48 32M4133 1187l52-33M4285 1155l49 11M4233 1186l52-31M4387 1138l48 5M4334 1166l53-28M4383 1169l52-26"/><path d="M3855 1142l51-38 25 35-52 38z" color="#3eff91"/><path d="M3955 1172l52-37 25 31-52 38z" color="#40ffa8"/><path d="M4056 1196l52-35 25 26-53 36z" color="#41ffb9"/><path class="m" d="M3906 1104l25 35M3855 1142l24 35M4007 1135l25 31M4108 1161l25 26"/><path d="M3879 1177l52-38 24 33-52 39z" color="#40ffa6"/><path d="M3980 1204l52-38 24 30-52 37z" color="#42ffba"/><path class="m" d="M3931 1139l24 33M3879 1177l24 34M3879 1177l52-38M4032 1166l24 30M3980 1204l52-38"/><path d="M4080 1223l53-36 48 31-52 35z" color="#30ffc0"/><path d="M4181 1218l52-32 49 9-52 32z" color="#09f6a0"/><path d="M4282 1195l52-29 49 3-52 29z" color="#08ed82"/><path class="m" d="M4133 1187l48 31M4080 1223l53-36M4233 1186l49 9M4181 1218l52-32M4334 1166l49 3M4282 1195l52-29M4331 1198l52-29"/><path d="M3903 1211l52-39 25 32-52 39z" color="#42ffba"/><path d="M4004 1233l52-37 24 27-52 37z" color="#43ffc9"/><path class="m" d="M3955 1172l25 32M3903 1211l25 32M4056 1196l24 27"/><path d="M3928 1243l52-39 24 29-52 39z" color="#43ffcb"/><path class="m" d="M3980 1204l24 29M3928 1243l24 29M3928 1243l52-39"/><path d="M4028 1260l52-37 49 30-52 37z" color="#30ffd1"/><path d="M4129 1253l52-35 49 9-53 34z" color="#09f5b0"/><path d="M4230 1227l52-32 49 3-53 30z" color="#08ed8f"/><path class="m" d="M4080 1223l49 30M4028 1260l52-37M4181 1218l49 9M4129 1253l52-35M4282 1195l49 3M4230 1227l52-32M4278 1228l53-30"/><path d="M3952 1272l52-39 24 27-52 38z" color="#44ffda"/><path class="m" d="M4004 1233l24 27M3952 1272l24 26"/><path d="M3976 1298l52-38 49 30-52 38z" color="#30ffe3"/><path d="M4077 1290l52-37 48 8-52 36z" color="#09f5c2"/><path d="M4177 1261l53-34 48 1-52 33z" color="#08ec9d"/><path class="m" d="M4028 1260l49 30M3976 1298l49 30M3976 1298l52-38M4129 1253l48 8M4077 1290l52-37M4230 1227l48 1M4177 1261l53-34M4226 1261l52-33"/><path d="M4025 1328l52-38 48 7-52 38z" color="#08f4d6"/><path d="M4125 1297l52-36 49 0-52 35z" color="#08ebae"/><path class="m" d="M4077 1290l48 7M4025 1328l48 7M4025 1328l52-38M4177 1261l49 0M4125 1297l52-36M4174 1296l52-35"/><path d="M4073 1335l52-38 49-1-53 37z" color="#08eabf"/><path class="m" d="M4125 1297l49-1M4073 1335l48-2M4073 1335l52-38M4121 1333l53-37"/></g><path d="M436,39.4V52M392.4,70V76" stroke="#8a2a1a" stroke-width="0.5"/><circle cx="495.9" cy="87.0" r="2" fill="#f8ccd2" stroke="#6a3a3a" stroke-width="0.45"/><circle cx="477.9" cy="103.1" r="2" fill="#f8ccd2" stroke="#6a3a3a" stroke-width="0.45"/><circle cx="359.7" cy="108.0" r="2" fill="#f8ccd2" stroke="#6a3a3a" stroke-width="0.45"/><circle cx="370.4" cy="102.7" r="2" fill="#f8ccd2" stroke="#6a3a3a" stroke-width="0.45"/><circle cx="390.0" cy="125.3" r="2" fill="#f8ccd2" stroke="#6a3a3a" stroke-width="0.45"/><circle cx="457.1" cy="111.3" r="2" fill="#f8ccd2" stroke="#6a3a3a" stroke-width="0.45"/><circle cx="435.3" cy="123.4" r="2" fill="#f8ccd2" stroke="#6a3a3a" stroke-width="0.45"/><circle cx="392.4" cy="70.2" r="1.9" fill="#c00d18" stroke="#6a0008" stroke-width="0.4"/><circle cx="414.5" cy="64.0" r="1.9" fill="#c00d18" stroke="#6a0008" stroke-width="0.4"/><circle cx="413.3" cy="104.5" r="1.9" fill="#c00d18" stroke="#6a0008" stroke-width="0.4"/><circle cx="436.0" cy="39.4" r="1.9" fill="#c00d18" stroke="#6a0008" stroke-width="0.4"/><circle cx="456.5" cy="80.8" r="1.9" fill="#c00d18" stroke="#6a0008" stroke-width="0.4"/><circle cx="495.1" cy="83.7" r="1.9" fill="#c00d18" stroke="#6a0008" stroke-width="0.4"/><circle cx="497.8" cy="96.0" r="1.9" fill="#c00d18" stroke="#6a0008" stroke-width="0.4"/><circle cx="516.0" cy="107.6" r="1.9" fill="#c00d18" stroke="#6a0008" stroke-width="0.4"/><circle cx="316.1" cy="125.5" r="1.9" fill="#c00d18" stroke="#6a0008" stroke-width="0.4"/><circle cx="339.5" cy="114.8" r="1.9" fill="#c00d18" stroke="#6a0008" stroke-width="0.4"/><circle cx="390.0" cy="121.3" r="1.9" fill="#c00d18" stroke="#6a0008" stroke-width="0.4"/><circle cx="412.4" cy="126.9" r="1.9" fill="#c00d18" stroke="#6a0008" stroke-width="0.4"/><circle cx="392.4" cy="68.2" r="1.9" fill="#c00d18" stroke="#6a0008" stroke-width="0.4"/><circle cx="316.6" cy="126.4" r="1" fill="#111"/><circle cx="316.0" cy="111.9" r="1" fill="#111"/><circle cx="315.4" cy="97.4" r="1" fill="#111"/><circle cx="314.8" cy="83.0" r="1" fill="#111"/><circle cx="314.2" cy="68.5" r="1" fill="#111"/><circle cx="313.6" cy="54.0" r="1" fill="#111"/><circle cx="313.1" cy="39.5" r="1" fill="#111"/><circle cx="312.5" cy="25.1" r="1" fill="#111"/><circle cx="318.0" cy="160.2" r="1" fill="#111"/><circle cx="336.8" cy="168.8" r="1" fill="#111"/><circle cx="355.7" cy="177.4" r="1" fill="#111"/><circle cx="374.5" cy="186.0" r="1" fill="#111"/><circle cx="393.3" cy="194.6" r="1" fill="#111"/><circle cx="412.2" cy="203.2" r="1" fill="#111"/><circle cx="432.5" cy="195.1" r="1" fill="#111"/><circle cx="452.7" cy="187.0" r="1" fill="#111"/><circle cx="473.0" cy="178.9" r="1" fill="#111"/><circle cx="493.3" cy="170.8" r="1" fill="#111"/><circle cx="513.6" cy="162.7" r="1" fill="#111"/><g font-size="4.6" fill="#333"><text x="314.4" y="125.4" text-anchor="end">0</text><text x="313.8" y="110.9" text-anchor="end">2</text><text x="313.2" y="96.4" text-anchor="end">4</text><text x="312.6" y="81.9" text-anchor="end">6</text><text x="312.0" y="67.4" text-anchor="end">8</text><text x="311.4" y="53.0" text-anchor="end">10</text><text x="310.9" y="38.5" text-anchor="end">12</text><text x="310.3" y="24.0" text-anchor="end">14</text><text x="315.4" y="165.5" text-anchor="end">0</text><text x="334.2" y="174.1" text-anchor="end">-1</text><text x="353.1" y="182.7" text-anchor="end">-2</text><text x="371.9" y="191.3" text-anchor="end">-3</text><text x="390.7" y="199.9" text-anchor="end">-4</text><text x="409.6" y="208.5" text-anchor="end">-5</text><text x="414.4" y="208.5">500</text><text x="434.7" y="200.4">1000</text><text x="454.9" y="192.3">1500</text><text x="475.2" y="184.2">2000</text><text x="495.5" y="176.2">2500</text><text x="515.8" y="168.1">3000</text></g><text x="317.5" y="193.3" font-size="4.8" fill="#333" textLength="41.8" lengthAdjust="spacingAndGlyphs">B: DDA (log(mol.L<tspan font-size="3" dy="-1.7">-1</tspan><tspan dy="1.7">))</tspan></text><text x="475.9" y="193.5" font-size="4.8" fill="#333" textLength="46.6" lengthAdjust="spacingAndGlyphs">A: Stirring speed (RPM)</text><text transform="translate(303.3,100) rotate(-90)" font-size="4.8" fill="#333" text-anchor="middle" textLength="35" lengthAdjust="spacingAndGlyphs">Floc volume (mL)</text><rect x="285" y="209.5" width="265" height="6" fill="#fff"/><path d="M324.4,333.3 L319.9,235.7M343.8,327.0 L340.1,231.0M363.1,320.8 L360.4,226.4M382.4,314.5 L380.7,221.7M401.7,308.3 L400.9,217.0M421.0,302.0 L421.2,212.4M421.0,302.0 L421.2,212.4M440.3,308.3 L441.4,217.0M459.5,314.5 L461.5,221.6M478.7,320.8 L481.7,226.2M497.9,327.0 L501.8,230.8M517.2,333.3 L522.0,235.4M324.4,333.3 L421.0,302.0M421.0,302.0 L517.2,333.3M323.8,319.3 L421.1,289.2M421.1,289.2 L517.9,319.3M323.1,305.4 L421.1,276.4M421.1,276.4 L518.6,305.3M322.5,291.5 L421.1,263.6M421.1,263.6 L519.2,291.3M321.8,277.5 L421.1,250.8M421.1,250.8 L519.9,277.4M321.2,263.6 L421.2,238.0M421.2,238.0 L520.6,263.4M320.5,249.6 L421.2,225.2M421.2,225.2 L521.3,249.4M319.9,235.7 L421.2,212.4M421.2,212.4 L522.0,235.4M324.4,333.3 L326.0,365.8M517.2,333.3 L515.6,365.9" stroke="#2b2b2b" stroke-width="0.55" fill="none" stroke-opacity="0.85"/><polygon points="326.0,365.8 421.0,331.9 515.6,365.9 421.1,410.8" fill="#5c5c5c"/><path d="M329.2,367.3 L330.7,366.7 L332.3,366.1 L333.8,365.5 L335.4,364.9 L336.9,364.3 L338.5,363.8 L340.1,363.2 L341.6,362.6 L343.2,362.0 L344.7,361.4 L346.3,360.8 L347.9,360.2 L349.4,359.6 L351.0,359.0 L352.6,358.4 L354.1,357.9 L355.7,357.3 L357.3,356.7 L358.8,356.1 L360.4,355.5 L362.0,354.9 L363.6,354.3 L365.1,353.8 L366.7,353.2 L368.3,352.6 L369.1,352.3 L370.7,351.7 L372.2,351.1 L373.8,350.5 L375.4,350.0 L377.0,349.4 L378.5,348.8 L380.1,348.2 L381.7,347.6 L383.3,347.1 L384.9,346.5 L386.5,345.9 L388.0,345.3 L389.6,344.7 L391.2,344.2 L392.8,343.6 L394.4,343.0 L396.0,342.4 L397.6,341.9 L399.2,341.3 L400.8,340.7 L402.4,340.1 L403.9,339.6 L405.5,339.0 L407.1,338.4 L408.7,337.8 L410.3,337.3 L411.9,336.7 L413.5,336.1 L415.1,335.5 L416.7,335.0 L418.3,334.4 L419.9,333.8 L421.6,333.3 L423.2,332.7" stroke="#3484d2" stroke-width="1.35" fill="none"/><path d="M333.5,369.4 L335.0,368.7 L336.4,368.1 L337.3,367.7 L338.7,367.1 L340.1,366.5 L341.6,365.9 L343.1,365.2 L344.6,364.6 L346.1,364.0 L347.6,363.3 L348.3,363.0 L349.8,362.4 L351.3,361.8 L352.8,361.1 L354.3,360.5 L355.9,359.9 L357.4,359.3 L358.9,358.7 L360.4,358.1 L362.0,357.5 L363.4,356.9 L364.3,356.5 L365.8,355.9 L367.3,355.3 L368.9,354.7 L370.4,354.1 L372.0,353.5 L373.5,352.9 L375.1,352.3 L376.7,351.7 L378.2,351.1 L379.8,350.6 L381.4,350.0 L382.9,349.4 L384.5,348.8 L386.1,348.2 L387.7,347.6 L389.2,347.0 L390.8,346.4 L392.4,345.9 L394.0,345.3 L395.6,344.7 L397.2,344.1 L398.8,343.5 L400.4,343.0 L402.0,342.4 L403.6,341.8 L405.2,341.2 L406.9,340.7 L408.5,340.1 L410.1,339.5 L411.8,339.0 L413.4,338.4 L415.1,337.9 L416.7,337.3 L418.4,336.7 L420.1,336.2 L421.5,335.7 L422.6,335.4 L424.3,334.8 L426.1,334.3 L426.9,334.0M497.6,359.4 L497.2,360.0 L496.6,360.9 L496.2,361.5 L495.9,362.0 L495.4,362.8 L494.9,363.7 L494.7,364.2 L494.5,364.8 L494.4,365.5 L494.6,366.2 L495.0,366.9 L495.5,367.3 L496.8,368.1 L498.4,368.6 L500.2,369.2 L501.9,369.7 L503.5,370.3 L504.7,371.1M422.5,410.2 L422.4,409.4 L422.4,408.7 L422.4,408.0 L422.3,407.2 L422.2,406.5 L422.1,405.8 L421.9,405.2 L421.5,404.3 L420.8,403.4 L420.2,403.0 L418.6,402.2 L417.6,402.0 L416.0,401.8 L414.3,401.7 L412.7,401.7 L411.3,401.8 L409.7,401.9 L407.6,402.1 L406.1,402.3 L404.9,402.4 L403.6,402.6" stroke="#2abf9e" stroke-width="1.35" fill="none"/><path d="M338.8,371.9 L339.5,371.5 L340.9,370.8 L342.3,370.1 L343.6,369.5 L344.3,369.1 L345.7,368.4 L347.1,367.7 L348.5,367.0 L349.5,366.5 L350.6,366.0 L352.0,365.3 L353.4,364.7 L354.8,364.0 L355.5,363.6 L356.9,363.0 L358.4,362.3 L359.8,361.7 L361.2,361.0 L362.7,360.4 L363.4,360.0 L364.9,359.4 L366.4,358.7 L367.8,358.1 L369.3,357.5 L370.8,356.8 L372.3,356.2 L373.0,355.9 L374.5,355.2 L376.1,354.6 L377.6,354.0 L379.1,353.4 L380.6,352.8 L382.2,352.2 L383.7,351.6 L385.3,350.9 L386.8,350.3 L388.4,349.7 L389.9,349.1 L391.5,348.6 L393.1,348.0 L394.7,347.4 L396.3,346.8 L397.9,346.2 L399.5,345.6 L401.1,345.0 L402.7,344.5 L404.3,343.9 L406.0,343.3 L407.6,342.8 L409.3,342.2 L411.0,341.6 L412.6,341.1 L414.3,340.5 L416.1,340.0 L417.4,339.6 L418.7,339.2 L420.4,338.7 L422.2,338.1 L424.0,337.6 L425.2,337.3 L426.7,336.9 L428.6,336.4 L430.5,335.9 L431.5,335.7M486.1,355.3 L485.7,355.8 L485.3,356.3 L484.5,357.3 L484.1,357.7 L483.4,358.4 L482.7,359.2 L482.3,359.7 L481.3,360.6 L480.8,361.1 L479.9,361.9 L479.3,362.5 L478.4,363.2 L477.8,363.8 L476.8,364.6 L476.1,365.2 L475.0,366.1 L474.4,366.5 L473.3,367.4 L472.7,367.8 L471.5,368.7 L470.3,369.5 L469.6,370.0 L468.4,370.8 L467.1,371.6 L466.4,372.0 L465.1,372.9 L463.7,373.7 L462.3,374.5 L461.6,374.8 L460.1,375.6 L458.6,376.4 L457.1,377.1 L455.6,377.9 L454.0,378.6 L452.4,379.3 L450.8,380.0 L449.1,380.7 L447.4,381.4 L445.7,382.0 L444.7,382.4 L443.1,383.0 L441.3,383.6 L439.4,384.3 L438.3,384.6 L436.6,385.1 L434.7,385.7 L433.4,386.1 L431.8,386.6 L429.8,387.1 L428.8,387.4 L426.8,387.9 L425.4,388.3 L423.8,388.7 L421.8,389.2 L420.7,389.4 L418.6,389.9 L417.6,390.2 L415.4,390.6 L414.4,390.9 L412.2,391.3 L411.2,391.6 L409.1,392.0 L407.9,392.2 L406.1,392.6 L404.6,392.9 L403.2,393.1 L401.3,393.5 L400.2,393.7 L398.0,394.1 L396.9,394.3 L394.8,394.7 L393.5,394.9 L392.0,395.1 L390.2,395.5 L389.0,395.7" stroke="#3bcb42" stroke-width="1.35" fill="none"/><path d="M346.0,375.3 L346.6,374.9 L347.9,374.1 L349.1,373.4 L349.8,373.0 L351.0,372.2 L352.1,371.6 L352.9,371.1 L354.2,370.3 L355.3,369.7 L356.1,369.2 L357.4,368.5 L358.7,367.7 L359.4,367.4 L360.7,366.6 L362.0,365.9 L362.7,365.5 L364.0,364.8 L365.3,364.1 L366.6,363.4 L367.4,363.1 L368.7,362.4 L370.1,361.7 L371.4,361.0 L372.2,360.6 L373.6,359.9 L375.0,359.3 L376.4,358.6 L377.4,358.1 L378.5,357.6 L380.0,356.9 L381.4,356.3 L382.9,355.6 L384.3,355.0 L385.8,354.3 L386.6,354.0 L388.1,353.4 L389.6,352.7 L391.1,352.1 L392.6,351.5 L394.2,350.9 L395.7,350.3 L397.3,349.7 L398.9,349.1 L400.5,348.5 L402.1,347.9 L403.7,347.3 L405.4,346.7 L407.0,346.1 L408.7,345.6 L410.4,345.0 L412.1,344.5 L413.5,344.0 L414.6,343.6 L416.4,343.1 L418.2,342.6 L420.0,342.1 L421.5,341.6 L422.7,341.3 L424.5,340.8 L426.4,340.3 L427.4,340.1 L429.3,339.6 L431.3,339.1 L432.3,338.9 L434.3,338.4 L435.3,338.2 L437.4,337.8M474.7,351.2 L474.3,351.7 L473.7,352.5 L473.2,353.2 L472.8,353.6 L472.0,354.5 L471.5,355.1 L471.0,355.5 L470.1,356.5 L469.6,356.9 L468.6,357.8 L468.1,358.3 L467.0,359.1 L466.5,359.6 L465.3,360.4 L464.8,360.9 L463.6,361.7 L462.7,362.3 L461.8,363.0 L460.5,363.8 L459.7,364.3 L458.6,365.0 L457.2,365.8 L455.9,366.6 L455.2,367.0 L453.8,367.7 L452.3,368.5 L450.9,369.2 L449.4,370.0 L447.8,370.7 L446.3,371.4 L444.7,372.1 L443.1,372.8 L441.5,373.4 L439.8,374.1 L438.1,374.8 L436.4,375.4 L434.7,376.0 L432.9,376.7 L432.0,377.0 L430.2,377.6 L428.4,378.2 L426.5,378.7 L425.6,379.0 L423.7,379.6 L421.8,380.1 L420.8,380.4 L418.9,380.9 L417.1,381.4 L415.9,381.7 L413.9,382.2 L412.9,382.5 L410.9,383.0 L409.5,383.3 L407.8,383.7 L406.1,384.1 L404.7,384.4 L402.8,384.8 L401.5,385.1 L399.6,385.4 L398.3,385.7 L396.6,386.0 L395.0,386.3 L393.6,386.6 L391.7,386.9 L390.6,387.1 L388.4,387.5 L387.3,387.7 L385.1,388.1 L384.1,388.3 L382.0,388.7 L380.8,388.9 L379.0,389.2 L377.5,389.5 L376.4,389.7" stroke="#9acc30" stroke-width="1.35" fill="none"/><path d="M464.3,347.5 L463.8,348.0 L463.0,348.8 L462.5,349.3 L461.7,350.1 L461.1,350.6 L460.4,351.2 L459.6,351.9 L458.8,352.5 L457.9,353.2 L457.1,353.9 L456.3,354.5 L455.1,355.3 L454.5,355.7 L453.3,356.5 L452.5,357.1 L451.4,357.7 L450.2,358.5 L449.3,359.0 L448.2,359.7 L446.9,360.4 L445.5,361.2 L444.7,361.6 L443.4,362.3 L441.9,363.0 L440.4,363.7 L438.9,364.5 L437.4,365.1 L435.9,365.8 L434.3,366.5 L432.7,367.2 L431.0,367.8 L429.3,368.5 L427.7,369.1 L425.9,369.7 L424.2,370.3 L423.2,370.7 L421.5,371.2 L419.7,371.8 L417.9,372.4 L416.6,372.7 L415.1,373.2 L413.2,373.7 L411.4,374.2 L410.4,374.5 L408.4,375.0 L406.9,375.5 L405.5,375.8 L403.5,376.3 L402.5,376.5 L400.5,377.0 L399.0,377.4 L397.5,377.7 L395.4,378.2 L394.4,378.4 L392.3,378.8 L391.2,379.0 L389.1,379.5 L388.0,379.7 L385.9,380.1 L384.8,380.3 L383.0,380.6 L381.4,380.8 L380.2,381.0 L378.0,381.3 L376.8,381.5 L375.2,381.6 L373.2,381.8 L371.9,381.9 L370.6,382.0 L369.0,382.1 L367.2,382.1 L365.7,382.0 L363.9,381.7 L363.3,381.4 L362.8,380.5 L362.7,379.8 L362.8,379.1 L362.9,378.5 L363.2,377.9 L363.5,377.3 L364.0,376.5 L364.5,375.8 L364.9,375.3 L365.6,374.5 L366.3,373.9 L366.7,373.4 L367.7,372.5 L368.2,372.0 L369.2,371.2 L369.8,370.7 L370.9,369.9 L371.4,369.5 L372.5,368.6 L373.2,368.2 L374.3,367.4 L375.5,366.6 L376.1,366.2 L377.3,365.5 L378.0,365.0 L379.1,364.3 L380.4,363.6 L381.1,363.2 L382.3,362.4 L383.7,361.7 L384.7,361.1 L385.7,360.6 L387.0,359.9 L388.4,359.2 L389.4,358.7 L390.5,358.2 L391.9,357.5 L393.3,356.8 L394.7,356.1 L396.2,355.5 L396.9,355.1 L398.4,354.5 L399.9,353.8 L401.5,353.2 L403.0,352.6 L404.6,352.0 L406.2,351.4 L407.8,350.8 L409.4,350.2 L411.1,349.6 L412.7,349.0 L414.4,348.4 L416.1,347.9 L417.0,347.6 L418.8,347.0 L420.6,346.5 L422.4,346.0 L423.4,345.7 L425.2,345.2 L427.1,344.7 L428.4,344.4 L430.0,344.0 L432.0,343.6 L433.0,343.3 L435.1,342.9 L436.1,342.7 L438.3,342.3 L439.4,342.1 L441.6,341.7 L442.8,341.5 L444.2,341.3 L446.4,341.0" stroke="#e0ad2a" stroke-width="1.35" fill="none"/><g transform="scale(.1)" stroke-linejoin="round" stroke-linecap="round" fill="currentColor" stroke="currentColor" stroke-width="3"><path d="M4162 2989l48-17 13-40-49 16z" color="#0033c7"/><path class="m" d="M4210 2972l13-40M4162 2989l48-17"/><path d="M4174 2948l49-16 12-39-49 14z" color="#0060c7"/><path class="m" d="M4223 2932l12-39"/><path d="M4186 2907l49-14 12-38-49 10z" color="#008cc7"/><path class="m" d="M4235 2893l12-38"/><path d="M4198 2865l49-10 12-36-48 5z" color="#00b8c7"/><path class="m" d="M4247 2855l12-36"/><path d="M4114 3006l48-17 12-41-48 16z" color="#0032c7"/><path d="M4211 2824l48-5 13-35-49 1z" color="#00c7ac"/><path class="m" d="M4162 2989l12-41M4114 3006l48-17M4259 2819l13-35M4211 2824l48-5"/><path d="M4126 2964l48-16 12-41-48 14z" color="#0060c7"/><path d="M4223 2785l49-1 12-33-49-3z" color="#00c784"/><path class="m" d="M4174 2948l12-41M4272 2784l12-33"/><path d="M4138 2921l48-14 12-42-48 11z" color="#008fc7"/><path d="M4235 2748l49 3 13-31-49-6z" color="#00c75e"/><path class="m" d="M4186 2907l12-42M4284 2751l13-31"/><path d="M4150 2876l48-11 13-41-49 8z" color="#00bec7"/><path d="M4248 2714l49 6 12-30-49-7z" color="#00c73b"/><path class="m" d="M4198 2865l13-41M4297 2720l12-30"/><path d="M4065 3023l49-17 12-42-49 16z" color="#0031c7"/><path d="M4162 2832l49-8 12-39-49 4z" color="#00c7a2"/><path d="M4260 2683l49 7 13-27-50-9z" color="#00c71a"/><path class="m" d="M4114 3006l12-42M4065 3023l49-17M4211 2824l12-39M4162 2832l49-8M4309 2690l13-27M4260 2683l49 7"/><path d="M4077 2980l49-16 12-43-49 14z" color="#0060c7"/><path d="M4174 2789l49-4 12-37-49 1z" color="#00c776"/><path d="M4272 2654l50 9 12-25-49-11z" color="#05c700"/><path class="m" d="M4126 2964l12-43M4223 2785l12-37M4322 2663l12-25"/><path d="M4089 2935l49-14 12-45-49 12z" color="#0092c7"/><path d="M4186 2749l49-1 13-34-50-2z" color="#00c74d"/><path d="M4285 2627l49 11 13-24-50-11z" color="#21c700"/><path class="m" d="M4138 2921l12-45M4235 2748l13-34M4334 2638l13-24"/><path d="M4101 2888l49-12 12-44-49 9z" color="#00c3c7"/><path d="M4198 2712l50 2 12-31-49-4z" color="#00c728"/><path d="M4297 2603l50 11 12-23-49-11z" color="#3cc700"/><path class="m" d="M4150 2876l12-44M4248 2714l12-31M4347 2614l12-23"/><path d="M4017 3040l48-17 12-43-49 17z" color="#0030c7"/><path d="M4113 2841l49-9 12-43-49 6z" color="#00c799"/><path d="M4211 2679l49 4 12-29-49-5z" color="#00c705"/><path d="M4310 2580l49 11 13-20-50-12z" color="#55c700"/><path class="m" d="M4065 3023l12-43M4017 3040l48-17M4162 2832l12-43M4113 2841l49-9M4260 2683l12-29M4211 2679l49 4M4359 2591l13-20M4310 2580l49 11"/><path d="M4028 2997l49-17 12-45-49 15z" color="#0060c7"/><path d="M4125 2795l49-6 12-40-49 4z" color="#00c76b"/><path d="M4223 2649l49 5 13-27-50-6z" color="#1bc700"/><path d="M4322 2559l50 12 12-20-49-11z" color="#6dc700"/><path class="m" d="M4077 2980l12-45M4174 2789l12-40M4272 2654l13-27M4372 2571l12-20"/><path d="M4040 2950l49-15 12-47-49 13z" color="#0093c7"/><path d="M4137 2753l49-4 12-37-49 2z" color="#00c740"/><path d="M4235 2621l50 6 12-24-49-7z" color="#38c700"/><path d="M4335 2540l49 11 13-18-50-11z" color="#83c700"/><path class="m" d="M4089 2935l12-47M4186 2749l12-37M4285 2627l12-24M4384 2551l13-18"/><path d="M4052 2901l49-13 12-47-49 10z" color="#00c7c7"/><path d="M4149 2714l49-2 13-33-50 0z" color="#00c718"/><path d="M4248 2596l49 7 13-23-50-6z" color="#53c700"/><path d="M4347 2522l50 11 12-17-49-11z" color="#98c700"/><path class="m" d="M4101 2888l12-47M4198 2712l13-33M4297 2603l13-23M4397 2533l12-17"/><path d="M3968 3057l49-17 11-43-48 16z" color="#002ec7"/><path d="M4064 2851l49-10 12-46-49 9z" color="#00c793"/><path d="M4161 2679l50 0 12-30-49-1z" color="#0cc700"/><path d="M4260 2574l50 6 12-21-49-7z" color="#6cc700"/><path d="M4360 2505l49 11 13-15-49-11z" color="#abc700"/><path class="m" d="M4017 3040l11-43M3968 3057l49-17M4113 2841l12-46M4064 2851l49-10M4211 2679l12-30M4161 2679l50 0M4310 2580l12-21M4260 2574l50 6M4409 2516l13-15M4360 2505l49 11"/><path d="M3980 3013l48-16 12-47-48 16z" color="#005fc7"/><path d="M4076 2804l49-9 12-42-49 6z" color="#00c763"/><path d="M4174 2648l49 1 12-28-49-1z" color="#2cc700"/><path d="M4273 2552l49 7 13-19-50-7z" color="#84c700"/><path d="M4373 2490l49 11 13-14-50-11z" color="#bdc700"/><path class="m" d="M4028 2997l12-47M4125 2795l12-42M4223 2649l12-28M4322 2559l13-19M4422 2501l13-14"/><path d="M3992 2966l48-16 12-49-49 14z" color="#0094c7"/><path d="M4088 2759l49-6 12-39-49 4z" color="#00c735"/><path d="M4186 2620l49 1 13-25-50-2z" color="#4ac700"/><path d="M4285 2533l50 7 12-18-49-7z" color="#9ac700"/><path d="M4385 2476l50 11 12-13-49-11z" color="#c7ba00"/><path class="m" d="M4040 2950l12-49M4137 2753l12-39M4235 2621l13-25M4335 2540l12-18M4435 2487l12-13"/><path d="M4003 2915l49-14 12-50-49 13z" color="#00c7c4"/><path d="M4100 2718l49-4 12-35-49 3z" color="#00c70c"/><path d="M4198 2594l50 2 12-22-49-3z" color="#66c700"/><path d="M4298 2515l49 7 13-17-50-7z" color="#afc700"/><path d="M4398 2463l49 11 13-11-50-11z" color="#c7a500"/><path class="m" d="M4052 2901l12-50M4149 2714l12-35M4248 2596l12-22M4347 2522l13-17M4447 2474l13-11"/><path d="M3920 3073l48-16 12-44-49 17z" color="#002dc7"/><path d="M4015 2864l49-13 12-47-49 10z" color="#00c78f"/><path d="M4112 2682l49-3 13-31-50 2z" color="#19c700"/><path d="M4211 2571l49 3 13-22-50-2z" color="#7fc700"/><path d="M4310 2498l50 7 13-15-50-7z" color="#c2c700"/><path class="m" d="M3968 3057l12-44M3920 3073l48-16M4064 2851l12-47M4015 2864l49-13M4161 2679l13-31M4112 2682l49-3M4260 2574l13-22M4211 2571l49 3M4360 2505l13-15M4310 2498l50 7"/><path d="M4410 2452l50 11 25-19-49-11z" color="#c78e00"/><path class="m" d="M4460 2463l25-19M4410 2452l50 11"/><path d="M3931 3030l49-17 12-47-49 15z" color="#005fc7"/><path d="M4027 2814l49-10 12-45-49 9z" color="#00c75d"/><path d="M4124 2650l50-2 12-28-50 2z" color="#3ac700"/><path d="M4223 2550l50 2 12-19-49-3z" color="#97c700"/><path d="M4323 2483l50 7 12-14-49-7z" color="#c7b100"/><path class="m" d="M3980 3013l12-47M4076 2804l12-45M4174 2648l12-28M4273 2552l12-19M4373 2490l12-14"/><path d="M3943 2981l49-15 11-51-49 15z" color="#0094c7"/><path d="M4039 2768l49-9 12-41-50 8z" color="#00c72e"/><path d="M4136 2622l50-2 12-26-49 2z" color="#58c700"/><path d="M4236 2530l49 3 13-18-50-3z" color="#adc700"/><path d="M4336 2469l49 7 13-13-50-7z" color="#c79c00"/><path class="m" d="M3992 2966l11-51M4088 2759l12-41M4186 2620l12-26M4285 2533l13-18M4385 2476l13-13"/><path d="M4436 2433l49 11 25-14-49-11z" color="#c77600"/><path class="m" d="M4485 2444l25-14"/><path d="M3954 2930l49-15 12-51-49 13z" color="#00c7c3"/><path d="M4050 2726l50-8 12-36-49 7z" color="#00c704"/><path d="M4149 2596l49-2 13-23-50 1z" color="#74c700"/><path d="M4248 2512l50 3 12-17-49-3z" color="#c1c700"/><path d="M4348 2456l50 7 12-11-49-7z" color="#c78b00"/><path class="m" d="M4003 2915l12-51M4100 2718l12-36M4198 2594l13-23M4298 2515l12-17M4398 2463l12-11"/><path d="M3872 3090l48-17 11-43-48 17z" color="#002cc7"/><path d="M3966 2877l49-13 12-50-49 13z" color="#00c78d"/><path d="M4063 2689l49-7 12-32-49 6z" color="#22c700"/><path d="M4161 2572l50-1 12-21-50 1z" color="#8dc700"/><path class="m" d="M3920 3073l11-43M3872 3090l48-17M4015 2864l12-50M3966 2877l49-13M4112 2682l12-32M4063 2689l49-7M4211 2571l12-21M4161 2572l50-1"/><path d="M4261 2495l49 3 26-29-50-3z" color="#c7a500"/><path d="M4361 2445l49 7 26-19-50-7z" color="#c77700"/><path d="M4461 2419l49 11 26-10-50-11z" color="#c76500"/><path class="m" d="M4310 2498l26-29M4261 2495l49 3M4410 2452l26-19M4361 2445l49 7M4510 2430l26-10M4461 2419l49 11"/><path d="M3883 3047l48-17 12-49-49 17z" color="#005dc7"/><path d="M3978 2827l49-13 12-46-50 11z" color="#00c759"/><path d="M4075 2656l49-6 12-28-49 5z" color="#44c700"/><path d="M4173 2551l50-1 13-20-50 1z" color="#a5c700"/><path class="m" d="M3931 3030l12-49M4027 2814l12-46M4124 2650l12-28M4223 2550l13-20"/><path d="M3894 2998l49-17 11-51-48 15z" color="#0093c7"/><path d="M3989 2779l50-11 11-42-49 11z" color="#00c729"/><path d="M4087 2627l49-5 13-26-50 5z" color="#62c700"/><path d="M4186 2531l50-1 12-18-50 1z" color="#bbc700"/><path class="m" d="M3943 2981l11-51M4039 2768l11-42M4136 2622l13-26M4236 2530l12-18"/><path d="M4286 2466l50 3 25-24-50-3z" color="#c78000"/><path d="M4386 2426l50 7 25-14-50-7z" color="#c76100"/><path d="M4486 2409l50 11 25-4-50-11z" color="#c75900"/><path class="m" d="M4336 2469l25-24M4436 2433l25-14M4536 2420l25-4"/><path d="M3906 2945l48-15 12-53-49 15z" color="#00c7c3"/><path d="M4001 2737l49-11 13-37-50 10z" color="#02c700"/><path d="M4099 2601l50-5 12-24-50 6z" color="#7ec700"/><path d="M4198 2513l50-1 13-17-50 2z" color="#c7b700"/><path class="m" d="M3954 2930l12-53M4050 2726l13-37M4149 2596l12-24M4248 2512l13-17"/><path d="M3823 3107l49-17 11-43-49 16z" color="#002ac7"/><path d="M3917 2892l49-15 12-50-50 14z" color="#00c78c"/><path d="M4013 2699l50-10 12-33-50 10z" color="#28c700"/><path d="M4111 2578l50-6 12-21-49 5z" color="#98c700"/><path class="m" d="M3872 3090l11-43M3823 3107l49-17M3966 2877l12-50M3917 2892l49-15M4063 2689l12-33M4013 2699l50-10M4161 2572l12-21M4111 2578l50-6"/><path d="M4211 2497l50-2 25-29-50 1z" color="#c79400"/><path d="M4311 2442l50 3 25-19-50-3z" color="#c76500"/><path d="M4411 2412l50 7 25-10-50-6z" color="#c75000"/><path class="m" d="M4261 2495l25-29M4211 2497l50-2M4361 2445l25-19M4311 2442l50 3M4461 2419l25-10M4411 2412l50 7"/><path d="M3834 3063l49-16 11-49-48 16z" color="#005cc7"/><path d="M3928 2841l50-14 11-48-49 14z" color="#00c757"/><path d="M4025 2666l50-10 12-29-50 9z" color="#4ac700"/><path d="M4124 2556l49-5 13-20-50 5z" color="#afc700"/><path class="m" d="M3883 3047l11-49M3978 2827l11-48M4075 2656l12-29M4173 2551l13-20"/><path d="M4511 2405l50 11 50 16-50-11z" color="#d86108"/><path class="m" d="M4561 2416l50 16M4511 2405l50 11"/><path d="M3846 3014l48-16 12-53-49 17z" color="#0092c7"/><path d="M3940 2793l49-14 12-42-49 13z" color="#00c727"/><path d="M4037 2636l50-9 12-26-50 9z" color="#69c700"/><path d="M4136 2536l50-5 12-18-50 5z" color="#c5c700"/><path class="m" d="M3894 2998l12-53M3989 2779l12-42M4087 2627l12-26M4186 2531l12-18"/><path d="M4236 2467l50-1 25-24-50 1z" color="#c77200"/><path d="M4336 2423l50 3 25-14-50-3z" color="#c75000"/><path d="M4436 2403l50 6 25-4-50-6z" color="#c74500"/><path class="m" d="M4286 2466l25-24M4386 2426l25-14M4486 2409l25-4"/><path d="M3857 2962l49-17 11-53-49 17z" color="#00c7c4"/><path d="M3952 2750l49-13 12-38-49 13z" color="#04c700"/><path d="M4049 2610l50-9 12-23-49 8z" color="#85c700"/><path d="M4148 2518l50-5 13-16-50 4z" color="#c7a900"/><path class="m" d="M3906 2945l11-53M4001 2737l12-38M4099 2601l12-23M4198 2513l13-16"/><path d="M3775 3124l48-17 11-44-48 17z" color="#0029c7"/><path d="M3868 2909l49-17 11-51-49 16z" color="#00c78d"/><path d="M3964 2712l49-13 12-33-49 12z" color="#2bc700"/><path d="M4062 2586l49-8 13-22-50 9z" color="#9ec700"/><path class="m" d="M3823 3107l11-44M3775 3124l48-17M3917 2892l11-51M3868 2909l49-17M4013 2699l12-33M3964 2712l49-13M4111 2578l13-22M4062 2586l49-8"/><path d="M4161 2501l50-4 25-30-50 5z" color="#c78900"/><path d="M4261 2443l50-1 25-19-50 1z" color="#c75700"/><path d="M4361 2409l50 3 25-9-50-3z" color="#c74000"/><path d="M4561 2421l50 11 24 23-49-11z" color="#e87308"/><path class="m" d="M4211 2497l25-30M4161 2501l50-4M4311 2442l25-19M4261 2443l50-1M4411 2412l25-9M4361 2409l50 3M4611 2432l24 23M4561 2421l50 11"/><path d="M3786 3080l48-17 12-49-49 17z" color="#005bc7"/><path d="M3879 2857l49-16 12-48-49 16z" color="#00c758"/><path d="M3976 2678l49-12 12-30-49 13z" color="#4dc700"/><path d="M4074 2565l50-9 12-20-50 9z" color="#b6c700"/><path class="m" d="M3834 3063l12-49M3928 2841l12-48M4025 2666l12-30M4124 2556l12-20"/><path d="M4461 2399l50 6 50 16-50-6z" color="#de4f08"/><path class="m" d="M4511 2405l50 16M4461 2399l50 6"/><path d="M3797 3031l49-17 11-52-49 17z" color="#0090c7"/><path d="M3891 2809l49-16 12-43-49 16z" color="#00c728"/><path d="M3988 2649l49-13 12-26-49 12z" color="#6cc700"/><path d="M4086 2545l50-9 12-18-49 9z" color="#c7bc00"/><path class="m" d="M3846 3014l11-52M3940 2793l12-43M4037 2636l12-26M4136 2536l12-18"/><path d="M4186 2472l50-5 25-24-50 5z" color="#c76800"/><path d="M4286 2424l50-1 25-14-50 1z" color="#c74300"/><path d="M4386 2400l50 3 25-4-50-3z" color="#c73500"/><path d="M4586 2444l49 11 24 31-49-11z" color="#e98908"/><path class="m" d="M4236 2467l25-24M4336 2423l25-14M4436 2403l25-4M4635 2455l24 31"/><path d="M3808 2979l49-17 11-53-49 17z" color="#00c7c6"/><path d="M3903 2766l49-16 12-38-50 15z" color="#04c700"/><path d="M4000 2622l49-12 13-24-50 13z" color="#88c700"/><path d="M4099 2527l49-9 13-17-50 9z" color="#c7a000"/><path class="m" d="M3857 2962l11-53M3952 2750l12-38M4049 2610l13-24M4148 2518l13-17"/><path d="M3727 3141l48-17 11-44-48 17z" color="#0027c7"/><path d="M3819 2926l49-17 11-52-49 17z" color="#00c78f"/><path d="M3914 2727l50-15 12-34-50 16z" color="#2bc700"/><path d="M4012 2599l50-13 12-21-50 12z" color="#a2c700"/><path class="m" d="M3775 3124l11-44M3727 3141l48-17M3868 2909l11-52M3819 2926l49-17M3964 2712l12-34M3914 2727l50-15M4062 2586l12-21M4012 2599l50-13"/><path d="M4111 2510l50-9 25-29-50 8z" color="#c78200"/><path d="M4211 2448l50-5 25-19-50 5z" color="#c74e00"/><path d="M4311 2410l50-1 25-9-50 1z" color="#c73400"/><path d="M4511 2415l50 6 25 23-50-6z" color="#ed5e08"/><path d="M4610 2475l49 11 25 35-50-12z" color="#e8a708"/><path class="m" d="M4161 2501l25-29M4111 2510l50-9M4261 2443l25-19M4211 2448l50-5M4361 2409l25-9M4311 2410l50-1M4561 2421l25 23M4511 2415l50 6M4659 2486l25 35M4610 2475l49 11"/><path d="M3738 3097l48-17 11-49-49 18z" color="#0059c7"/><path d="M3830 2874l49-17 12-48-49 18z" color="#00c75a"/><path d="M3926 2694l50-16 12-29-50 15z" color="#4dc700"/><path d="M4024 2577l50-12 12-20-50 12z" color="#b9c700"/><path class="m" d="M3786 3080l11-49M3879 2857l12-48M3976 2678l12-29M4074 2565l12-20"/><path d="M4411 2396l50 3 50 16-50-3z" color="#e43f08"/><path class="m" d="M4461 2399l50 16M4411 2396l50 3"/><path d="M3748 3049l49-18 11-52-49 18z" color="#008ec7"/><path d="M3842 2827l49-18 12-43-50 17z" color="#00c72a"/><path d="M3938 2664l50-15 12-27-50 15z" color="#6cc700"/><path d="M4036 2557l50-12 13-18-50 12z" color="#c7b700"/><path class="m" d="M3797 3031l11-52M3891 2809l12-43M3988 2649l12-27M4086 2545l13-18"/><path d="M4136 2480l50-8 25-24-50 8z" color="#c76100"/><path d="M4236 2429l50-5 25-14-50 5z" color="#c73a00"/><path d="M4336 2401l50-1 25-4-50 1z" color="#cc3008"/><path d="M4536 2438l50 6 24 31-49-7z" color="#ee7308"/><path d="M4634 2509l50 12 24 38-50-12z" color="#e8ce08"/><path class="m" d="M4186 2472l25-24M4286 2424l25-14M4386 2400l25-4M4586 2444l24 31M4684 2521l24 38"/><path d="M3759 2997l49-18 11-53-49 18z" color="#00c5c7"/><path d="M3853 2783l50-17 11-39-49 18z" color="#02c700"/><path d="M3950 2637l50-15 12-23-50 15z" color="#88c700"/><path d="M4049 2539l50-12 12-17-50 12z" color="#c79c00"/><path class="m" d="M3808 2979l11-53M3903 2766l11-39M4000 2622l12-23M4099 2527l12-17"/><path d="M3678 3158l49-17 11-44-49 17z" color="#0026c7"/><path d="M3770 2944l49-18 11-52-49 19z" color="#00c792"/><path d="M3865 2745l49-18 12-33-49 18z" color="#28c700"/><path d="M3962 2614l50-15 12-22-50 15z" color="#a2c700"/><path d="M4658 2547l50 12 12 19-49-12z" color="#dce708"/><path class="m" d="M3727 3141l11-44M3678 3158l49-17M3819 2926l11-52M3770 2944l49-18M3914 2727l12-33M3865 2745l49-18M4012 2599l12-22M3962 2614l50-15M4708 2559l12 19M4658 2547l50 12"/><path d="M4061 2522l50-12 25-30-50 12z" color="#c77e00"/><path d="M4161 2456l50-8 25-19-50 8z" color="#c74800"/><path d="M4461 2412l50 3 25 23-50-3z" color="#f24d08"/><path d="M4561 2468l49 7 24 34-49-7z" color="#ed8e08"/><path class="m" d="M4111 2510l25-30M4061 2522l50-12M4211 2448l25-19M4161 2456l50-8M4511 2415l25 23M4461 2412l50 3M4610 2475l24 34M4561 2468l49 7"/><path d="M3689 3114l49-17 10-48-48 17z" color="#0057c7"/><path d="M3781 2893l49-19 12-47-49 19z" color="#00c75e"/><path d="M3877 2712l49-18 12-30-49 18z" color="#4bc700"/><path d="M3974 2592l50-15 12-20-49 15z" color="#bac700"/><path d="M4671 2566l49 12 11 19-48-11z" color="#cbe708"/><path class="m" d="M3738 3097l10-48M3830 2874l12-47M3926 2694l12-30M4024 2577l12-20M4720 2578l11 19"/><path d="M4261 2415l50-5 50-13-50 5z" color="#c92d08"/><path d="M4361 2397l50-1 50 16-50 1z" color="#e93308"/><path class="m" d="M4311 2410l50-13M4261 2415l50-5M4411 2396l50 16M4361 2397l50-1"/><path d="M3700 3066l48-17 11-52-48 18z" color="#008cc7"/><path d="M3793 2846l49-19 11-44-49 20z" color="#00c72e"/><path d="M3889 2682l49-18 12-27-50 18z" color="#6ac700"/><path d="M3987 2572l49-15 13-18-50 15z" color="#c7b700"/><path d="M4683 2586l48 11 12 19-48-11z" color="#bae708"/><path class="m" d="M3748 3049l11-52M3842 2827l11-44M3938 2664l12-27M4036 2557l13-18M4731 2597l12 19"/><path d="M4086 2492l50-12 25-24-50 12z" color="#c75e00"/><path d="M4186 2437l50-8 25-14-50 8z" color="#c73400"/><path d="M4486 2435l50 3 25 30-50-3z" color="#f26108"/><path d="M4585 2502l49 7 24 38-49-7z" color="#ecb008"/><path class="m" d="M4136 2480l25-24M4236 2429l25-14M4536 2438l25 30M4634 2509l24 38"/><path d="M3711 3015l48-18 11-53-48 20z" color="#00c2c7"/><path d="M3804 2803l49-20 12-38-49 20z" color="#00c703"/><path d="M3900 2655l50-18 12-23-49 18z" color="#86c700"/><path d="M3999 2554l50-15 12-17-50 15z" color="#c79c00"/><path d="M4695 2605l48 11 12 19-48-12z" color="#a9e708"/><path class="m" d="M3759 2997l11-53M3853 2783l12-38M3950 2637l12-23M4049 2539l12-17M4743 2616l12 19"/><path d="M3630 3175l48-17 11-44-48 18z" color="#0024c7"/><path d="M3722 2964l48-20 11-51-48 21z" color="#00c796"/><path d="M3816 2765l49-20 12-33-50 20z" color="#23c700"/><path d="M3913 2632l49-18 12-22-49 18z" color="#9fc700"/><path class="m" d="M3678 3158l11-44M3630 3175l48-17M3770 2944l11-51M3722 2964l48-20M3865 2745l12-33M3816 2765l49-20M3962 2614l12-22M3913 2632l49-18"/><path d="M4011 2537l50-15 25-30-50 15z" color="#c77e00"/><path d="M4111 2468l50-12 25-19-50 11z" color="#c74500"/><path d="M4411 2413l50-1 25 23-50 1z" color="#f7410a"/><path d="M4511 2465l50 3 24 34-50-3z" color="#f17b08"/><path d="M4609 2540l49 7 25 39-50-8z" color="#ebdc08"/><path d="M4707 2623l48 12 24 33-48-11z" color="#92e708"/><path class="m" d="M4061 2522l25-30M4011 2537l50-15M4161 2456l25-19M4111 2468l50-12M4461 2412l25 23M4411 2413l50-1M4561 2468l24 34M4511 2465l50 3M4658 2547l25 39M4609 2540l49 7M4755 2635l24 33M4707 2623l48 12"/><path d="M3641 3132l48-18 11-48-49 18z" color="#0055c7"/><path d="M3733 2914l48-21 12-47-49 21z" color="#00c763"/><path d="M3827 2732l50-20 12-30-50 20z" color="#46c700"/><path d="M3925 2610l49-18 13-20-50 18z" color="#b7c700"/><path class="m" d="M3689 3114l11-48M3781 2893l12-47M3877 2712l12-30M3974 2592l13-20"/><path d="M4211 2423l50-8 50-13-50 8z" color="#cc2808"/><path d="M4311 2402l50-5 50 16-50 5z" color="#ed2a08"/><path class="m" d="M4261 2415l50-13M4211 2423l50-8M4361 2397l50 16M4311 2402l50-5"/><path d="M3651 3084l49-18 11-51-49 19z" color="#0089c7"/><path d="M3744 2867l49-21 11-43-49 22z" color="#00c734"/><path d="M3839 2702l50-20 11-27-49 21z" color="#64c700"/><path d="M3937 2590l50-18 12-18-50 17z" color="#c7bb00"/><path class="m" d="M3700 3066l11-51M3793 2846l11-43M3889 2682l11-27M3987 2572l12-18"/><path d="M4036 2507l50-15 25-24-50 14z" color="#c75e00"/><path d="M4136 2448l50-11 25-14-50 11z" color="#c73100"/><path d="M4436 2436l50-1 25 30-50 0z" color="#f6540a"/><path d="M4535 2499l50 3 24 38-49-4z" color="#ef9b08"/><path d="M4633 2578l50 8 24 37-50-8z" color="#d0eb08"/><path d="M4731 2657l48 11 24 34-49-12z" color="#75e708"/><path class="m" d="M4086 2492l25-24M4186 2437l25-14M4486 2435l25 30M4585 2502l24 38M4683 2586l24 37M4779 2668l24 34"/><path d="M3662 3034l49-19 11-51-49 20z" color="#00bec7"/><path d="M3755 2825l49-22 12-38-50 23z" color="#00c709"/><path d="M3851 2676l49-21 13-23-50 20z" color="#80c700"/><path d="M3949 2571l50-17 12-17-50 17z" color="#c79f00"/><path class="m" d="M3711 3015l11-51M3804 2803l12-38M3900 2655l13-23M3999 2554l12-17"/><path d="M3582 3192l48-17 11-43-49 17z" color="#0022c7"/><path d="M3673 2984l49-20 11-50-49 21z" color="#00c79b"/><path d="M3766 2788l50-23 11-33-49 22z" color="#1dc700"/><path d="M3863 2652l50-20 12-22-50 20z" color="#9ac700"/><path class="m" d="M3630 3175l11-43M3582 3192l48-17M3722 2964l11-50M3673 2984l49-20M3816 2765l11-33M3766 2788l50-23M3913 2632l12-22M3863 2652l50-20"/><path d="M3961 2554l50-17 25-30-50 17z" color="#c78100"/><path d="M4061 2482l50-14 25-20-51 15z" color="#c74500"/><path d="M4361 2418l50-5 25 23-50 5z" color="#fa3d11"/><path d="M4461 2465l50 0 24 34-49 0z" color="#f46d08"/><path d="M4560 2536l49 4 24 38-49-4z" color="#efc108"/><path d="M4657 2615l50 8 24 34-49-8z" color="#b1eb08"/><path d="M4754 2690l49 12 24 34-49-11z" color="#58e708"/><path class="m" d="M4011 2537l25-30M3961 2554l50-17M4111 2468l25-20M4061 2482l50-14M4411 2413l25 23M4361 2418l50-5M4511 2465l24 34M4461 2465l50 0M4609 2540l24 38M4560 2536l49 4M4707 2623l24 34M4657 2615l50 8M4803 2702l24 34M4754 2690l49 12"/><path d="M3592 3149l49-17 10-48-48 18z" color="#0053c7"/><path d="M3684 2935l49-21 11-47-49 22z" color="#00c76a"/><path d="M3778 2754l49-22 12-30-49 23z" color="#3fc700"/><path d="M3875 2630l50-20 12-20-50 20z" color="#b2c700"/><path class="m" d="M3641 3132l10-48M3733 2914l11-47M3827 2732l12-30M3925 2610l12-20"/><path d="M4161 2434l50-11 50-13-50 11z" color="#cf2608"/><path d="M4261 2410l50-8 50 16-50 8z" color="#f12408"/><path class="m" d="M4211 2423l50-13M4161 2434l50-11M4311 2402l50 16M4261 2410l50-8"/><path d="M3603 3102l48-18 11-50-49 19z" color="#0085c7"/><path d="M3695 2889l49-22 11-42-49 23z" color="#00c73b"/><path d="M3790 2725l49-23 12-26-50 23z" color="#5dc700"/><path d="M3887 2610l50-20 12-19-50 21z" color="#c7c400"/><path class="m" d="M3651 3084l11-50M3744 2867l11-42M3839 2702l12-26M3937 2590l12-19"/><path d="M3986 2524l50-17 25-25-51 18z" color="#c76000"/><path d="M4085 2463l51-15 25-14-51 15z" color="#c73100"/><path d="M4386 2441l50-5 25 29-50 5z" color="#fa4e0f"/><path d="M4486 2499l49 0 25 37-50 0z" color="#f38b08"/><path d="M4584 2574l49 4 24 37-49-4z" color="#ebef08"/><path d="M4682 2649l49 8 23 33-48-7z" color="#93eb08"/><path d="M4778 2725l49 11 24 35-49-11z" color="#39e708"/><path class="m" d="M4036 2507l25-25M4136 2448l25-14M4436 2436l25 29M4535 2499l25 37M4633 2578l24 37M4731 2657l23 33M4827 2736l24 35"/><path d="M3613 3053l49-19 11-50-49 20z" color="#00b9c7"/><path d="M3706 2848l49-23 11-37-49 23z" color="#00c712"/><path d="M3801 2699l50-23 12-24-50 23z" color="#79c700"/><path d="M3899 2592l50-21 12-17-50 21z" color="#c7a600"/><path class="m" d="M3662 3034l11-50M3755 2825l11-37M3851 2676l12-24M3949 2571l12-17"/><path d="M3533 3209l49-17 10-43-48 17z" color="#0021c7"/><path d="M3624 3004l49-20 11-49-49 22z" color="#00c7a2"/><path d="M3717 2811l49-23 12-34-49 25z" color="#14c700"/><path d="M3813 2675l50-23 12-22-50 23z" color="#93c700"/><path class="m" d="M3582 3192l10-43M3533 3209l49-17M3673 2984l11-49M3624 3004l49-20M3766 2788l12-34M3717 2811l49-23M3863 2652l12-22M3813 2675l50-23"/><path d="M3911 2575l50-21 25-30-50 21z" color="#c78600"/><path d="M4010 2500l51-18 24-19-50 17z" color="#c74700"/><path d="M4311 2426l50-8 25 23-50 8z" color="#fe3c18"/><path d="M4411 2470l50-5 25 34-50 5z" color="#f8640c"/><path d="M4510 2536l50 0 24 38-50 0z" color="#f2ae08"/><path d="M4608 2611l49 4 25 34-50-4z" color="#cbef08"/><path d="M4706 2683l48 7 24 35-48-8z" color="#75eb08"/><path d="M4802 2760l49 11 23 36-48-11z" color="#1ae708"/><path class="m" d="M3961 2554l25-30M3911 2575l50-21M4061 2482l24-19M4010 2500l51-18M4361 2418l25 23M4311 2426l50-8M4461 2465l25 34M4411 2470l50-5M4560 2536l24 38M4510 2536l50 0M4657 2615l25 34M4608 2611l49 4M4754 2690l24 35M4706 2683l48 7M4851 2771l23 36M4802 2760l49 11"/><path d="M3544 3166l48-17 11-47-49 18z" color="#0050c7"/><path d="M3635 2957l49-22 11-46-49 24z" color="#00c771"/><path d="M3729 2779l49-25 12-29-50 25z" color="#35c700"/><path d="M3825 2653l50-23 12-20-50 23z" color="#aac700"/><path class="m" d="M3592 3149l11-47M3684 2935l11-46M3778 2754l12-29M3875 2630l12-20"/><path d="M4110 2449l51-15 50-13-50 15z" color="#d12608"/><path d="M4211 2421l50-11 50 16-50 12z" color="#f42108"/><path class="m" d="M4161 2434l50-13M4110 2449l51-15M4261 2410l50 16M4211 2421l50-11"/><path d="M3554 3120l49-18 10-49-48 20z" color="#0082c7"/><path d="M3646 2913l49-24 11-41-49 25z" color="#00c744"/><path d="M3740 2750l50-25 11-26-49 24z" color="#54c700"/><path d="M3837 2633l50-23 12-18-50 22z" color="#c0c700"/><path class="m" d="M3603 3102l10-49M3695 2889l11-41M3790 2725l11-26M3887 2610l12-18"/><path d="M3936 2545l50-21 24-24-50 20z" color="#c76500"/><path d="M4035 2480l50-17 25-14-50 17z" color="#c73300"/><path d="M4336 2449l50-8 25 29-50 8z" color="#fd4c15"/><path d="M4436 2504l50-5 24 37-50 4z" color="#f6800a"/><path d="M4534 2574l50 0 24 37-49 0z" color="#f2d808"/><path d="M4632 2645l50 4 24 34-49-4z" color="#adef08"/><path d="M4730 2717l48 8 24 35-48-7z" color="#56eb08"/><path d="M4826 2796l48 11 24 36-49-10z" color="#08e715"/><path class="m" d="M3986 2524l24-24M4085 2463l25-14M4386 2441l25 29M4486 2499l24 37M4584 2574l24 37M4682 2649l24 34M4778 2725l24 35M4874 2807l24 36"/><path d="M3565 3073l48-20 11-49-49 22z" color="#00b4c7"/><path d="M3657 2873l49-25 11-37-49 26z" color="#00c71b"/><path d="M3752 2723l49-24 12-24-49 24z" color="#70c700"/><path d="M3849 2614l50-22 12-17-49 22z" color="#c7af00"/><path class="m" d="M3613 3053l11-49M3706 2848l11-37M3801 2699l12-24M3899 2592l12-17"/><path d="M3485 3226l48-17 11-43-49 18z" color="#001fc7"/><path d="M3575 3026l49-22 11-47-49 23z" color="#00c7a8"/><path d="M3668 2837l49-26 12-32-49 26z" color="#0ac700"/><path d="M3764 2699l49-24 12-22-49 25z" color="#89c700"/><path class="m" d="M3533 3209l11-43M3485 3226l48-17M3624 3004l11-47M3575 3026l49-22M3717 2811l12-32M3668 2837l49-26M3813 2675l12-22M3764 2699l49-24"/><path d="M3862 2597l49-22 25-30-50 22z" color="#c78e00"/><path d="M3960 2520l50-20 25-20-50 20z" color="#c74b00"/><path d="M4261 2438l50-12 25 23-50 11z" color="#ff3f1f"/><path d="M4361 2478l50-8 25 34-50 7z" color="#fb6011"/><path d="M4460 2540l50-4 24 38-49 4z" color="#f5a209"/><path d="M4559 2611l49 0 24 34-49 0z" color="#e2f308"/><path d="M4657 2679l49 4 24 34-49-3z" color="#8eef08"/><path d="M4754 2753l48 7 24 36-49-7z" color="#36eb08"/><path d="M4849 2833l49 10 23 37-48-11z" color="#08e734"/><path class="m" d="M3911 2575l25-30M3862 2597l49-22M4010 2500l25-20M3960 2520l50-20M4311 2426l25 23M4261 2438l50-12M4411 2470l25 34M4361 2478l50-8M4510 2536l24 38M4460 2540l50-4M4608 2611l24 34M4559 2611l49 0M4706 2683l24 34M4657 2679l49 4M4802 2760l24 36M4754 2753l48 7M4898 2843l23 37M4849 2833l49 10"/><path d="M3495 3184l49-18 10-46-48 19z" color="#004ec7"/><path d="M3586 2980l49-23 11-44-49 25z" color="#00c779"/><path d="M3680 2805l49-26 11-29-49 26z" color="#2bc700"/><path d="M3776 2678l49-25 12-20-49 24z" color="#a1c700"/><path class="m" d="M3544 3166l10-46M3635 2957l11-44M3729 2779l11-29M3825 2653l12-20"/><path d="M4060 2466l50-17 51-13-51 17z" color="#d42808"/><path d="M4161 2436l50-15 50 17-50 14z" color="#f7230b"/><path class="m" d="M4110 2449l51-13M4060 2466l50-17M4211 2421l50 17M4161 2436l50-15"/><path d="M3506 3139l48-19 11-47-49 20z" color="#007ec7"/><path d="M3597 2938l49-25 11-40-49 26z" color="#00c74e"/><path d="M3691 2776l49-26 12-27-49 27z" color="#49c700"/><path d="M3788 2657l49-24 12-19-49 25z" color="#b7c700"/><path class="m" d="M3554 3120l11-47M3646 2913l11-40M3740 2750l12-27M3837 2633l12-19"/><path d="M3886 2567l50-22 24-25-50 22z" color="#c76c00"/><path d="M3985 2500l50-20 25-14-50 20z" color="#c03b08"/><path d="M4286 2460l50-11 25 29-50 11z" color="#ff4d1c"/><path d="M4386 2511l50-7 24 36-50 7z" color="#f97b0e"/><path d="M4485 2578l49-4 25 37-50 4z" color="#f6c809"/><path d="M4583 2645l49 0 25 34-50 0z" color="#c3f308"/><path d="M4681 2714l49 3 24 36-49-4z" color="#6fef08"/><path d="M4777 2789l49 7 23 37-48-8z" color="#17eb08"/><path d="M4873 2869l48 11 23 36-48-11z" color="#08e753"/><path class="m" d="M3936 2545l24-25M4035 2480l25-14M4336 2449l25 29M4436 2504l24 36M4534 2574l25 37M4632 2645l25 34M4730 2717l24 36M4826 2796l23 37M4921 2880l23 36"/><path d="M3516 3093l49-20 10-47-48 22z" color="#00afc7"/><path d="M3608 2899l49-26 11-36-49 26z" color="#00c726"/><path d="M3703 2750l49-27 12-24-49 27z" color="#64c700"/><path d="M3800 2639l49-25 13-17-50 25z" color="#c7be00"/><path class="m" d="M3565 3073l10-47M3657 2873l11-36M3752 2723l12-24M3849 2614l13-17"/><path d="M3437 3243l48-17 10-42-48 17z" color="#001dc7"/><path d="M3527 3048l48-22 11-46-49 24z" color="#00c7b0"/><path d="M3619 2863l49-26 12-32-49 27z" color="#00c702"/><path d="M3715 2726l49-27 12-21-50 26z" color="#7ec700"/><path class="m" d="M3485 3226l10-42M3437 3243l48-17M3575 3026l11-46M3527 3048l48-22M3668 2837l12-32M3619 2863l49-26M3764 2699l12-21M3715 2726l49-27"/><path d="M3812 2622l50-25 24-30-50 25z" color="#c79900"/><path d="M3910 2542l50-22 25-20-50 23z" color="#c75200"/><path d="M4311 2489l50-11 25 33-50 11z" color="#fe6017"/><path d="M4410 2547l50-7 25 38-50 7z" color="#f89b0d"/><path d="M4509 2615l50-4 24 34-49 4z" color="#f4f70a"/><path d="M4607 2679l50 0 24 35-49 0z" color="#a4f308"/><path d="M4705 2749l49 4 23 36-48-3z" color="#4fef08"/><path d="M4801 2825l48 8 24 36-48-7z" color="#08eb18"/><path d="M4896 2905l48 11 24 35-48-11z" color="#08e771"/><path class="m" d="M3862 2597l24-30M3812 2622l50-25M3960 2520l25-20M3910 2542l50-22M4361 2478l25 33M4311 2489l50-11M4460 2540l25 38M4410 2547l50-7M4559 2611l24 34M4509 2615l50-4M4657 2679l24 35M4607 2679l50 0M4754 2753l23 36M4705 2749l49 4M4849 2833l24 36M4801 2825l48 8M4944 2916l24 35M4896 2905l48 11"/><path d="M3447 3201l48-17 11-45-49 18z" color="#004bc7"/><path d="M3537 3004l49-24 11-42-49 25z" color="#00c782"/><path d="M3631 2832l49-27 11-29-49 27z" color="#1fc700"/><path d="M3726 2704l50-26 12-21-50 27z" color="#95c700"/><path class="m" d="M3495 3184l11-45M3586 2980l11-42M3680 2805l11-29M3776 2678l12-21"/><path d="M4010 2486l50-20 50-13-50 20z" color="#d52d08"/><path d="M4110 2453l51-17 50 16-50 17z" color="#f9280e"/><path d="M4211 2452l50-14 50 51-50 14z" color="#ff4c25"/><path class="m" d="M4060 2466l50-13M4010 2486l50-20M4161 2436l50 16M4110 2453l51-17M4261 2438l50 51M4211 2452l50-14"/><path d="M3457 3157l49-18 10-46-48 20z" color="#007ac7"/><path d="M3548 2963l49-25 11-39-49 26z" color="#00c758"/><path d="M3642 2803l49-27 12-26-49 28z" color="#3dc700"/><path d="M3738 2684l50-27 12-18-50 26z" color="#abc700"/><path class="m" d="M3506 3139l10-46M3597 2938l11-39M3691 2776l12-26M3788 2657l12-18"/><path d="M3836 2592l50-25 24-25-49 25z" color="#c77600"/><path d="M3935 2523l50-23 25-14-50 23z" color="#c14108"/><path d="M4336 2522l50-11 24 36-49 11z" color="#fc7913"/><path d="M4435 2585l50-7 24 37-49 6z" color="#f9bf0d"/><path d="M4534 2649l49-4 24 34-49 4z" color="#d6f70a"/><path d="M4632 2714l49 0 24 35-49 1z" color="#84f208"/><path d="M4729 2786l48 3 24 36-49-3z" color="#2fee08"/><path d="M4825 2862l48 7 23 36-48-7z" color="#08eb38"/><path d="M4920 2940l48 11 23 34-48-11z" color="#08e68f"/><path class="m" d="M3886 2567l24-25M3985 2500l25-14M4386 2511l24 36M4485 2578l24 37M4583 2645l24 34M4681 2714l24 35M4777 2789l24 36M4873 2869l23 36M4968 2951l23 34"/><path d="M3468 3113l48-20 11-45-49 22z" color="#00a9c7"/><path d="M3559 2925l49-26 11-36-49 28z" color="#00c732"/><path d="M3654 2778l49-28 12-24-50 28z" color="#58c700"/><path d="M3750 2665l50-26 12-17-50 26z" color="#c0c700"/><path class="m" d="M3516 3093l11-45M3608 2899l11-36M3703 2750l12-24M3800 2639l12-17"/><path d="M3388 3260l49-17 10-42-48 17z" color="#001cc7"/><path d="M3478 3070l49-22 10-44-48 24z" color="#00c7b7"/><path d="M3570 2891l49-28 12-31-49 28z" color="#00c70e"/><path d="M3665 2754l50-28 11-22-49 28z" color="#71c700"/><path class="m" d="M3437 3243l10-42M3388 3260l49-17M3527 3048l10-44M3478 3070l49-22M3619 2863l12-31M3570 2891l49-28M3715 2726l11-22M3665 2754l50-28"/><path d="M3762 2648l50-26 24-30-50 26z" color="#c7a600"/><path d="M3861 2567l49-25 25-19-50 24z" color="#c75b00"/><path d="M4161 2469l50-17 25 22-50 17z" color="#ff4a2b"/><path d="M4261 2503l50-14 25 33-50 14z" color="#ff631d"/><path d="M4361 2558l49-11 25 38-50 10z" color="#fb9812"/><path d="M4460 2621l49-6 25 34-50 7z" color="#fae90f"/><path d="M4558 2683l49-4 25 35-50 4z" color="#b7f60a"/><path d="M4656 2750l49-1 24 37-49 0z" color="#64f208"/><path d="M4752 2822l49 3 24 37-49-4z" color="#0fee08"/><path d="M4848 2898l48 7 24 35-48-7z" color="#08ea56"/><path d="M4943 2974l48 11 23 33-47-10z" color="#08e6ab"/><path class="m" d="M3812 2622l24-30M3762 2648l50-26M3910 2542l25-19M3861 2567l49-25M4211 2452l25 22M4161 2469l50-17M4311 2489l25 33M4261 2503l50-14M4410 2547l25 38M4361 2558l49-11M4509 2615l25 34M4460 2621l49-6M4607 2679l25 35M4558 2683l49-4M4705 2749l24 37M4656 2750l49-1M4801 2825l24 37M4752 2822l49 3M4896 2905l24 35M4848 2898l48 7M4991 2985l23 33M4943 2974l48 11"/><path d="M3399 3218l48-17 10-44-48 19z" color="#0049c7"/><path d="M3489 3028l48-24 11-41-48 26z" color="#00c78c"/><path d="M3582 2860l49-28 11-29-49 29z" color="#12c700"/><path d="M3677 2732l49-28 12-20-49 28z" color="#89c700"/><path class="m" d="M3447 3201l10-44M3537 3004l11-41M3631 2832l11-29M3726 2704l12-20"/><path d="M3960 2509l50-23 50-13-50 22z" color="#d73308"/><path d="M4060 2473l50-20 51 16-51 20z" color="#fb3011"/><path class="m" d="M4010 2486l50-13M3960 2509l50-23M4110 2453l51 16M4060 2473l50-20"/><path d="M3409 3176l48-19 11-44-49 21z" color="#0076c7"/><path d="M3500 2989l48-26 11-38-49 28z" color="#00c763"/><path d="M3593 2832l49-29 12-25-49 29z" color="#2fc700"/><path d="M3689 2712l49-28 12-19-49 28z" color="#9fc700"/><path class="m" d="M3457 3157l11-44M3548 2963l11-38M3642 2803l12-25M3738 2684l12-19"/><path d="M3786 2618l50-26 25-25-50 26z" color="#c78100"/><path d="M3885 2547l50-24 25-14-50 24z" color="#c24908"/><path d="M4186 2491l50-17 25 29-50 17z" color="#ff5728"/><path d="M4286 2536l50-14 25 36-50 14z" color="#fe7b18"/><path d="M4385 2595l50-10 25 36-50 11z" color="#fbba12"/><path d="M4484 2656l50-7 24 34-49 7z" color="#e4fa0f"/><path d="M4582 2718l50-4 24 36-50 3z" color="#97f609"/><path d="M4680 2786l49 0 23 36-48 0z" color="#44f208"/><path d="M4776 2858l49 4 23 36-48-4z" color="#08ee20"/><path d="M4872 2933l48 7 23 34-48-7z" color="#08ea74"/><path d="M4967 3008l47 10 24 31-48-11z" color="#08e6c4"/><path class="m" d="M3836 2592l25-25M3935 2523l25-14M4236 2474l25 29M4336 2522l25 36M4435 2585l25 36M4534 2649l24 34M4632 2714l24 36M4729 2786l23 36M4825 2862l23 36M4920 2940l23 34M5014 3018l24 31"/><path d="M3419 3134l49-21 10-43-48 22z" color="#00a3c7"/><path d="M3510 2953l49-28 11-34-48 29z" color="#00c73e"/><path d="M3605 2807l49-29 11-24-49 29z" color="#4ac700"/><path d="M3701 2693l49-28 12-17-49 28z" color="#b3c700"/><path class="m" d="M3468 3113l10-43M3559 2925l11-34M3654 2778l11-24M3750 2665l12-17"/><path d="M3340 3277l48-17 11-42-49 18z" color="#001ac7"/><path d="M3430 3092l48-22 11-42-49 25z" color="#00c7bf"/><path d="M3522 2920l48-29 12-31-49 29z" color="#00c71c"/><path d="M3616 2783l49-29 12-22-49 29z" color="#63c700"/><path class="m" d="M3388 3260l11-42M3340 3277l48-17M3478 3070l11-42M3430 3092l48-22M3570 2891l12-31M3522 2920l48-29M3665 2754l12-22M3616 2783l49-29"/><path d="M3713 2676l49-28 24-30-49 28z" color="#c7b800"/><path d="M3811 2593l50-26 24-20-50 27z" color="#c76500"/><path d="M3910 2533l50-24 25-10-50 25z" color="#d03f08"/><path d="M4110 2489l51-20 25 22-51 20z" color="#ff5330"/><path d="M4211 2520l50-17 25 33-50 17z" color="#ff6822"/><path d="M4311 2572l50-14 24 37-50 14z" color="#fd9817"/><path d="M4410 2632l50-11 24 35-50 10z" color="#fce114"/><path d="M4509 2690l49-7 24 35-49 7z" color="#c5f90e"/><path d="M4606 2753l50-3 24 36-49 4z" color="#76f509"/><path d="M4704 2822l48 0 24 36-49 0z" color="#23f208"/><path d="M4800 2894l48 4 24 35-48-4z" color="#08ee3f"/><path d="M4895 2967l48 7 24 34-48-8z" color="#08ea90"/><path d="M4990 3038l48 11 23 22-47-11z" color="#08e2d5"/><path class="m" d="M3762 2648l24-30M3713 2676l49-28M3861 2567l24-20M3811 2593l50-26M3960 2509l25-10M3910 2533l50-24M4161 2469l25 22M4110 2489l51-20M4261 2503l25 33M4211 2520l50-17M4361 2558l24 37M4311 2572l50-14M4460 2621l24 35M4410 2632l50-11M4558 2683l24 35M4509 2690l49-7M4656 2750l24 36M4606 2753l50-3M4752 2822l24 36M4704 2822l48 0M4848 2898l24 35M4800 2894l48 4M4943 2974l24 34M4895 2967l48 7M5038 3049l23 22M4990 3038l48 11"/><path d="M3350 3236l49-18 10-42-49 19z" color="#0046c7"/><path d="M3440 3053l49-25 11-39-49 26z" color="#00c796"/><path d="M3533 2889l49-29 11-28-49 30z" color="#04c700"/><path d="M3628 2761l49-29 12-20-49 29z" color="#7bc700"/><path class="m" d="M3399 3218l10-42M3489 3028l11-39M3582 2860l11-28M3677 2732l12-20"/><path d="M4010 2495l50-22 50 16-50 23z" color="#fc3913"/><path class="m" d="M4060 2473l50 16M4010 2495l50-22"/><path d="M3360 3195l49-19 10-42-48 20z" color="#0072c7"/><path d="M3451 3015l49-26 10-36-48 27z" color="#00c76f"/><path d="M3544 2862l49-30 12-25-49 30z" color="#21c700"/><path d="M3640 2741l49-29 12-19-50 30z" color="#91c700"/><path class="m" d="M3409 3176l10-42M3500 2989l10-36M3593 2832l12-25M3689 2712l12-19"/><path d="M3737 2646l49-28 25-25-50 28z" color="#c78f00"/><path d="M3835 2574l50-27 25-14-50 26z" color="#c35308"/><path d="M3935 2524l50-25 25-4-50 25z" color="#df3708"/><path d="M4135 2511l51-20 25 29-50 19z" color="#ff5f2d"/><path d="M4236 2553l50-17 25 36-50 16z" color="#ff7f1d"/><path d="M4335 2609l50-14 25 37-50 13z" color="#feba17"/><path d="M4434 2666l50-10 25 34-50 10z" color="#effc14"/><path d="M4533 2725l49-7 24 35-49 7z" color="#a6f90d"/><path d="M4631 2790l49-4 24 36-49 4z" color="#56f509"/><path d="M4727 2858l49 0 24 36-49 0z" color="#08f20c"/><path d="M4824 2929l48 4 23 34-48-3z" color="#08ee5d"/><path d="M4919 3000l48 8 23 30-48-7z" color="#08eaaa"/><path d="M5014 3060l47 11 24 13-47-10z" color="#08dad7"/><path class="m" d="M3786 2618l25-25M3885 2547l25-14M3985 2499l25-4M4186 2491l25 29M4286 2536l25 36M4385 2595l25 37M4484 2656l25 34M4582 2718l24 35M4680 2786l24 36M4776 2858l24 36M4872 2933l23 34M4967 3008l23 30M5061 3071l24 13"/><path d="M3371 3154l48-20 11-42-49 23z" color="#009dc7"/><path d="M3462 2980l48-27 12-33-49 28z" color="#00c74b"/><path d="M3556 2837l49-30 11-24-49 30z" color="#3cc700"/><path d="M3651 2723l50-30 12-17-50 30z" color="#a5c700"/><path class="m" d="M3419 3134l11-42M3510 2953l12-33M3605 2807l11-24M3701 2693l12-17"/><path d="M3292 3295l48-18 10-41-48 17z" color="#0018c7"/><path d="M3381 3115l49-23 10-39-48 24z" color="#00c6c7"/><path d="M3473 2948l49-28 11-31-49 30z" color="#00c729"/><path d="M3567 2813l49-30 12-22-49 31z" color="#55c700"/><path class="m" d="M3340 3277l10-41M3292 3295l48-18M3430 3092l10-39M3381 3115l49-23M3522 2920l11-31M3473 2948l49-28M3616 2783l12-22M3567 2813l49-30"/><path d="M3663 2706l50-30 24-30-50 29z" color="#c1c700"/><path d="M3761 2621l50-28 24-19-49 28z" color="#c77200"/><path d="M3860 2559l50-26 25-9-50 26z" color="#d14908"/><path d="M4060 2512l50-23 25 22-50 23z" color="#ff5c35"/><path d="M4161 2539l50-19 25 33-50 19z" color="#ff6f27"/><path d="M4261 2588l50-16 24 37-50 16z" color="#ff9c1b"/><path d="M4360 2645l50-13 24 34-49 13z" color="#ffdf19"/><path d="M4459 2700l50-10 24 35-50 10z" color="#d0fc13"/><path d="M4557 2760l49-7 25 37-50 7z" color="#85f80d"/><path d="M4655 2826l49-4 23 36-48 4z" color="#35f509"/><path d="M4751 2894l49 0 24 35-49 0z" color="#08f22b"/><path d="M4847 2964l48 3 24 33-48-3z" color="#08ee79"/><path d="M4942 3031l48 7 24 22-48-7z" color="#08e7bc"/><path class="m" d="M3713 2676l24-30M3663 2706l50-30M3811 2593l24-19M3761 2621l50-28M3910 2533l25-9M3860 2559l50-26M4110 2489l25 22M4060 2512l50-23M4211 2520l25 33M4161 2539l50-19M4311 2572l24 37M4261 2588l50-16M4410 2632l24 34M4360 2645l50-13M4509 2690l24 35M4459 2700l50-10M4606 2753l25 37M4557 2760l49-7M4704 2822l23 36M4655 2826l49-4M4800 2894l24 35M4751 2894l49 0M4895 2967l24 33M4847 2964l48 3M4990 3038l24 22M4942 3031l48 7"/><path d="M3302 3253l48-17 10-41-48 18z" color="#0043c7"/><path d="M3392 3077l48-24 11-38-49 27z" color="#00c7a0"/><path d="M3484 2919l49-30 11-27-49 30z" color="#00c70b"/><path d="M3579 2792l49-31 12-20-50 31z" color="#6cc700"/><path class="m" d="M3350 3236l10-41M3440 3053l11-38M3533 2889l11-27M3628 2761l12-20"/><path d="M3960 2520l50-25 50 17-50 24z" color="#fd4416"/><path d="M5038 3074l47 10 49 14-47-10z" color="#08d0d0"/><path class="m" d="M4010 2495l50 17M3960 2520l50-25M5085 3084l49 14M5038 3074l47 10"/><path d="M3312 3213l48-18 11-41-49 21z" color="#006ec7"/><path d="M3402 3042l49-27 11-35-49 28z" color="#00c77b"/><path d="M3495 2892l49-30 12-25-49 30z" color="#12c700"/><path d="M3590 2772l50-31 11-18-49 30z" color="#82c700"/><path class="m" d="M3360 3195l11-41M3451 3015l11-35M3544 2862l12-25M3640 2741l11-18"/><path d="M3687 2675l50-29 24-25-49 30z" color="#c79f00"/><path d="M3786 2602l49-28 25-15-50 28z" color="#c45f08"/><path d="M3885 2550l50-26 25-4-50 26z" color="#e04108"/><path d="M4085 2534l50-23 26 28-50 23z" color="#ff6832"/><path d="M4186 2572l50-19 25 35-50 20z" color="#ff8522"/><path d="M4285 2625l50-16 25 36-50 17z" color="#ffbc1c"/><path d="M4385 2679l49-13 25 34-50 14z" color="#f5ff19"/><path d="M4483 2735l50-10 24 35-49 11z" color="#b1fb12"/><path d="M4581 2797l50-7 24 36-50 7z" color="#65f80d"/><path d="M4679 2862l48-4 24 36-48 4z" color="#15f509"/><path d="M4775 2929l49 0 23 35-48-1z" color="#08f249"/><path d="M4871 2997l48 3 23 31-47-4z" color="#08ee94"/><path d="M4966 3053l48 7 24 14-48-7z" color="#08dfc1"/><path class="m" d="M3737 2646l24-25M3835 2574l25-15M3935 2524l25-4M4135 2511l26 28M4236 2553l25 35M4335 2609l25 36M4434 2666l25 34M4533 2725l24 35M4631 2790l24 36M4727 2858l24 36M4824 2929l23 35M4919 3000l23 31M5014 3060l24 14"/><path d="M3322 3175l49-21 10-39-48 22z" color="#0097c7"/><path d="M3413 3008l49-28 11-32-49 30z" color="#00c758"/><path d="M3507 2867l49-30 11-24-49 31z" color="#2dc700"/><path d="M3602 2753l49-30 12-17-49 30z" color="#96c700"/><path class="m" d="M3371 3154l10-39M3462 2980l11-32M3556 2837l11-24M3651 2723l12-17"/><path d="M3243 3312l49-17 10-42-49 18z" color="#0016c7"/><path d="M3333 3137l48-22 11-38-49 25z" color="#00bec7"/><path d="M3424 2978l49-30 11-29-49 30z" color="#00c737"/><path d="M3518 2844l49-31 12-21-49 30z" color="#46c700"/><path class="m" d="M3292 3295l10-42M3243 3312l10-41M3243 3312l49-17M3381 3115l11-38M3333 3137l48-22M3473 2948l11-29M3424 2978l49-30M3567 2813l12-21M3518 2844l49-31"/><path d="M3614 2736l49-30 24-31-49 31z" color="#b2c700"/><path d="M3712 2651l49-30 25-19-50 29z" color="#c78000"/><path d="M3810 2587l50-28 25-9-50 28z" color="#d25408"/><path d="M4010 2536l50-24 25 22-50 24z" color="#ff6738"/><path d="M4111 2562l50-23 25 33-50 22z" color="#ff782b"/><path d="M4211 2608l50-20 24 37-49 20z" color="#ffa120"/><path d="M4310 2662l50-17 25 34-50 17z" color="#ffe01f"/><path d="M4409 2714l50-14 24 35-49 14z" color="#d7fe18"/><path d="M4508 2771l49-11 24 37-49 10z" color="#91fb12"/><path d="M4605 2833l50-7 24 36-49 7z" color="#45f80c"/><path d="M4703 2898l48-4 24 35-49 4z" color="#09f51b"/><path d="M4799 2963l48 1 24 33-48-1z" color="#08f265"/><path d="M4895 3027l47 4 24 22-48-4z" color="#08eba6"/><path class="m" d="M3663 2706l24-31M3614 2736l49-30M3761 2621l25-19M3712 2651l49-30M3860 2559l25-9M3810 2587l50-28M4060 2512l25 22M4010 2536l50-24M4161 2539l25 33M4111 2562l50-23M4261 2588l24 37M4211 2608l50-20M4360 2645l25 34M4310 2662l50-17M4459 2700l24 35M4409 2714l50-14M4557 2760l24 37M4508 2771l49-11M4655 2826l24 36M4605 2833l50-7M4751 2894l24 35M4703 2898l48-4M4847 2964l24 33M4799 2963l48 1M4942 3031l24 22M4895 3027l47 4"/><path d="M3253 3271l49-18 10-40-48 19z" color="#0041c7"/><path d="M3343 3102l49-25 10-35-48 26z" color="#00c7aa"/><path d="M3435 2949l49-30 11-27-49 30z" color="#00c719"/><path d="M3530 2822l49-30 11-20-49 31z" color="#5dc700"/><path class="m" d="M3302 3253l10-40M3253 3271l11-39M3392 3077l10-35M3484 2919l11-27M3579 2792l11-20"/><path d="M3910 2546l50-26 50 16-50 27z" color="#fe5017"/><path d="M4990 3067l48 7 49 14-48-6z" color="#08d5bb"/><path d="M5087 3088l47 10 49 17-48-10z" color="#08d2d3"/><path class="m" d="M3960 2520l50 16M3910 2546l50-26M5038 3074l49 14M4990 3067l48 7M5134 3098l49 17M5087 3088l47 10M5135 3105l48 10"/><path d="M3264 3232l48-19 10-38-48 20z" color="#006ac7"/><path d="M3354 3068l48-26 11-34-48 28z" color="#00c786"/><path d="M3446 2922l49-30 12-25-49 31z" color="#03c700"/><path d="M3541 2803l49-31 12-19-49 31z" color="#73c700"/><path class="m" d="M3312 3213l10-38M3264 3232l10-37M3402 3042l11-34M3495 2892l12-25M3590 2772l12-19"/><path d="M3638 2706l49-31 25-24-50 30z" color="#c7b200"/><path d="M3736 2631l50-29 24-15-49 30z" color="#c56c08"/><path d="M3835 2578l50-28 25-4-50 28z" color="#e14d08"/><path d="M4035 2558l50-24 26 28-50 24z" color="#ff7335"/><path d="M4136 2594l50-22 25 36-50 22z" color="#ff8e26"/><path d="M4236 2645l49-20 25 37-50 19z" color="#ffc120"/><path d="M4335 2696l50-17 24 35-49 16z" color="#f6ff1f"/><path d="M4434 2749l49-14 25 36-50 13z" color="#b8fe17"/><path d="M4532 2807l49-10 24 36-49 10z" color="#71fb11"/><path d="M4630 2869l49-7 24 36-49 7z" color="#26f80c"/><path d="M4726 2933l49-4 24 34-49 4z" color="#09f539"/><path d="M4823 2996l48 1 24 30-49 0z" color="#08f180"/><path d="M4918 3049l48 4 24 14-47-4z" color="#08e4ac"/><path class="m" d="M3687 2675l25-24M3786 2602l24-15M3885 2550l25-4M4085 2534l26 28M4186 2572l25 36M4285 2625l25 37M4385 2679l24 35M4483 2735l25 36M4581 2797l24 36M4679 2862l24 36M4775 2929l24 34M4871 2997l24 30M4966 3053l24 14"/><path d="M3274 3195l48-20 11-38-49 23z" color="#0091c7"/><path d="M3365 3036l48-28 11-30-48 29z" color="#00c765"/><path d="M3458 2898l49-31 11-23-49 31z" color="#1dc700"/><path d="M3553 2784l49-31 12-17-49 31z" color="#87c700"/><path class="m" d="M3322 3175l11-38M3274 3195l10-35M3413 3008l11-30M3507 2867l11-23M3602 2753l12-17"/><path d="M3284 3160l49-23 10-35-48 24z" color="#00b6c7"/><path d="M3376 3007l48-29 11-29-48 30z" color="#00c745"/><path d="M3469 2875l49-31 12-22-49 32z" color="#36c700"/><path class="m" d="M3333 3137l10-35M3284 3160l11-34M3284 3160l49-23M3424 2978l11-29M3376 3007l48-29M3518 2844l12-22M3469 2875l49-31"/><path d="M3565 2767l49-31 24-30-49 31z" color="#a2c700"/><path d="M3662 2681l50-30 24-20-50 31z" color="#b98808"/><path d="M3761 2617l49-30 25-9-50 30z" color="#d36208"/><path d="M3960 2563l50-27 25 22-50 27z" color="#ff723b"/><path d="M4061 2586l50-24 25 32-50 25z" color="#ff822f"/><path d="M4161 2630l50-22 25 37-50 21z" color="#ffa924"/><path d="M4260 2681l50-19 25 34-50 19z" color="#ffe523"/><path d="M4360 2730l49-16 25 35-50 16z" color="#d9ff1d"/><path d="M4458 2784l50-13 24 36-49 13z" color="#99fd17"/><path d="M4556 2843l49-10 25 36-50 10z" color="#52fb11"/><path d="M4654 2905l49-7 23 35-48 6z" color="#0cf812"/><path d="M4750 2967l49-4 24 33-49 3z" color="#09f555"/><path d="M4846 3027l49 0 23 22-48 0z" color="#08ef93"/><path class="m" d="M3614 2736l24-30M3565 2767l49-31M3712 2651l24-20M3662 2681l50-30M3810 2587l25-9M3761 2617l49-30M4010 2536l25 22M3960 2563l50-27M4111 2562l25 32M4061 2586l50-24M4211 2608l25 37M4161 2630l50-22M4310 2662l25 34M4260 2681l50-19M4409 2714l25 35M4360 2730l49-16M4508 2771l24 36M4458 2784l50-13M4605 2833l25 36M4556 2843l49-10M4703 2898l23 35M4654 2905l49-7M4799 2963l24 33M4750 2967l49-4M4895 3027l23 22M4846 3027l49 0"/><path d="M3295 3126l48-24 11-34-49 26z" color="#00c7b4"/><path d="M3387 2979l48-30 11-27-48 31z" color="#00c728"/><path d="M3481 2854l49-32 11-19-49 31z" color="#4dc700"/><path class="m" d="M3343 3102l11-34M3295 3126l10-32M3435 2949l11-27M3530 2822l11-19"/><path d="M3860 2574l50-28 50 17-50 28z" color="#fe5e19"/><path d="M4943 3063l47 4 49 15-48-3z" color="#08daa8"/><path d="M5039 3082l48 6 48 17-47-7z" color="#08d7be"/><path class="m" d="M3910 2546l50 17M3860 2574l50-28M4990 3067l49 15M4943 3063l47 4M5087 3088l48 17M5039 3082l48 6M5088 3098l47 7"/><path d="M3305 3094l49-26 11-32-49 28z" color="#00c792"/><path d="M3398 2953l48-31 12-24-49 31z" color="#00c70c"/><path d="M3492 2834l49-31 12-19-49 31z" color="#63c700"/><path class="m" d="M3354 3068l11-32M3305 3094l11-30M3446 2922l12-24M3541 2803l12-19"/><path d="M3589 2737l49-31 24-25-49 31z" color="#c3c700"/><path d="M3686 2662l50-31 25-14-50 30z" color="#c57a08"/><path d="M3785 2608l50-30 25-4-50 30z" color="#e15b08"/><path d="M3985 2585l50-27 26 28-50 27z" color="#ff7e39"/><path d="M4086 2619l50-25 25 36-50 24z" color="#ff982a"/><path d="M4186 2666l50-21 24 36-49 22z" color="#ffc925"/><path d="M4285 2715l50-19 25 34-50 19z" color="#f3ff23"/><path d="M4384 2765l50-16 24 35-49 17z" color="#bbff1c"/><path d="M4483 2820l49-13 24 36-49 14z" color="#7afd16"/><path d="M4580 2879l50-10 24 36-49 10z" color="#33fb11"/><path d="M4678 2939l48-6 24 34-49 6z" color="#0df82f"/><path d="M4774 2999l49-3 23 31-48 2z" color="#09f570"/><path d="M4870 3049l48 0 25 14-49 0z" color="#08e99a"/><path class="m" d="M3638 2706l24-25M3736 2631l25-14M3835 2578l25-4M4035 2558l26 28M4136 2594l25 36M4236 2645l24 36M4335 2696l25 34M4434 2749l24 35M4532 2807l24 36M4630 2869l24 36M4726 2933l24 34M4823 2996l23 31M4918 3049l25 14"/><path d="M3316 3064l49-28 11-29-49 28z" color="#00c771"/><path d="M3409 2929l49-31 11-23-49 31z" color="#0ec700"/><path d="M3504 2815l49-31 12-17-49 31z" color="#77c700"/><path class="m" d="M3365 3036l11-29M3316 3064l11-29M3458 2898l11-23M3553 2784l12-17"/><path d="M3327 3035l49-28 11-28-49 29z" color="#00c753"/><path d="M3420 2906l49-31 12-21-49 31z" color="#26c700"/><path class="m" d="M3376 3007l11-28M3327 3035l11-27M3327 3035l49-28M3469 2875l12-21M3420 2906l49-31"/><path d="M3516 2798l49-31 24-30-50 32z" color="#92c700"/><path d="M3613 2712l49-31 24-19-49 31z" color="#b99808"/><path d="M3711 2647l50-30 24-9-49 30z" color="#d47108"/><path d="M3910 2591l50-28 25 22-50 28z" color="#ff7e3d"/><path d="M4011 2613l50-27 25 33-50 26z" color="#ff8e32"/><path d="M4111 2654l50-24 25 36-50 25z" color="#ffb328"/><path d="M4211 2703l49-22 25 34-50 22z" color="#ffed28"/><path d="M4310 2749l50-19 24 35-49 20z" color="#d7ff22"/><path d="M4409 2801l49-17 25 36-50 17z" color="#9dff1b"/><path d="M4507 2857l49-14 24 36-49 13z" color="#5bfd16"/><path d="M4605 2915l49-10 24 34-49 10z" color="#16fb11"/><path d="M4701 2973l49-6 24 32-49 6z" color="#0df84b"/><path class="m" d="M3565 2767l24-30M3516 2798l49-31M3662 2681l24-19M3613 2712l49-31M3761 2617l24-9M3711 2647l50-30M3960 2563l25 22M3910 2591l50-28M4061 2586l25 33M4011 2613l50-27M4161 2630l25 36M4111 2654l50-24M4260 2681l25 34M4211 2703l49-22M4360 2730l24 35M4310 2749l50-19M4458 2784l25 36M4409 2801l49-17M4556 2843l24 36M4507 2857l49-14M4654 2905l24 34M4605 2915l49-10M4750 2967l24 32M4701 2973l49-6"/><path d="M3338 3008l49-29 11-26-49 30z" color="#00c736"/><path d="M3432 2885l49-31 11-20-49 31z" color="#3dc700"/><path class="m" d="M3387 2979l11-26M3338 3008l11-25M3481 2854l11-20"/><path d="M3810 2604l50-30 50 17-50 30z" color="#ff6d1a"/><path d="M4798 3029l48-2 48 36-48 3z" color="#08f185"/><path d="M4894 3063l49 0 48 16-48 0z" color="#08df97"/><path d="M4991 3079l48 3 49 16-48-3z" color="#08dba9"/><path class="m" d="M3860 2574l50 17M3810 2604l50-30M4846 3027l48 36M4798 3029l48-2M4943 3063l48 16M4894 3063l49 0M5039 3082l49 16M4991 3079l48 3M5040 3095l48 3"/><path d="M3349 2983l49-30 11-24-49 30z" color="#00c71b"/><path d="M3443 2865l49-31 12-19-49 32z" color="#53c700"/><path class="m" d="M3398 2953l11-24M3349 2983l11-24M3492 2834l12-19"/><path d="M3539 2769l50-32 24-25-50 32z" color="#b3c700"/><path d="M3637 2693l49-31 25-15-50 32z" color="#c68a08"/><path d="M3736 2638l49-30 25-4-50 31z" color="#e26b08"/><path d="M3935 2613l50-28 26 28-50 28z" color="#ff8b3b"/><path d="M4036 2645l50-26 25 35-50 27z" color="#ffa42d"/><path d="M4136 2691l50-25 25 37-50 24z" color="#ffd328"/><path d="M4235 2737l50-22 25 34-50 22z" color="#eeff28"/><path d="M4335 2785l49-20 25 36-50 19z" color="#baff21"/><path d="M4433 2837l50-17 24 37-49 16z" color="#7fff1b"/><path d="M4531 2892l49-13 25 36-50 13z" color="#3dfd16"/><path d="M4629 2949l49-10 23 34-48 10z" color="#11fb2a"/><path d="M4725 3005l49-6 24 30-49 6z" color="#0df865"/><path class="m" d="M3589 2737l24-25M3686 2662l25-15M3785 2608l25-4M3985 2585l26 28M4086 2619l25 35M4186 2666l25 37M4285 2715l25 34M4384 2765l25 36M4483 2820l24 37M4580 2879l25 36M4678 2939l23 34M4774 2999l24 30"/><path d="M3360 2959l49-30 11-23-48 31z" color="#00c701"/><path d="M3455 2847l49-32 12-17-49 32z" color="#67c700"/><path class="m" d="M3409 2929l11-23M3360 2959l12-22M3504 2815l12-17"/><path d="M3372 2937l48-31 12-21-49 31z" color="#17c700"/><path class="m" d="M3420 2906l12-21M3372 2937l11-21M3372 2937l48-31"/><path d="M3467 2830l49-32 23-29-49 31z" color="#82c700"/><path d="M3563 2744l50-32 24-19-49 32z" color="#baac08"/><path d="M3661 2679l50-32 25-9-50 32z" color="#d48108"/><path d="M3860 2621l50-30 25 22-49 30z" color="#ff8b3f"/><path d="M3961 2641l50-28 25 32-50 29z" color="#ff9b35"/><path d="M4061 2681l50-27 25 37-50 27z" color="#ffc02b"/><path d="M4161 2727l50-24 24 34-49 25z" color="#fffb2b"/><path d="M4260 2771l50-22 25 36-50 22z" color="#d3ff26"/><path d="M4359 2820l50-19 24 36-49 19z" color="#9dff20"/><path d="M4458 2873l49-16 24 35-49 17z" color="#61ff1b"/><path d="M4555 2928l50-13 24 34-49 13z" color="#21fd16"/><path d="M4653 2983l48-10 24 32-48 10z" color="#12fb45"/><path class="m" d="M3516 2798l23-29M3467 2830l49-32M3613 2712l24-19M3563 2744l50-32M3711 2647l25-9M3661 2679l50-32M3910 2591l25 22M3860 2621l50-30M4011 2613l25 32M3961 2641l50-28M4111 2654l25 37M4061 2681l50-27M4211 2703l24 34M4161 2727l50-24M4310 2749l25 36M4260 2771l50-22M4409 2801l24 36M4359 2820l50-19M4507 2857l24 35M4458 2873l49-16M4605 2915l24 34M4555 2928l50-13M4701 2973l24 32M4653 2983l48-10"/><path d="M3383 2916l49-31 11-20-49 31z" color="#2ec700"/><path class="m" d="M3432 2885l11-20M3383 2916l11-20"/><path d="M3760 2635l50-31 50 17-49 31z" color="#ff7e1b"/><path d="M4749 3035l49-6 48 37-48 6z" color="#09f578"/><path d="M4846 3066l48-3 49 16-48 3z" color="#08e388"/><path d="M4943 3079l48 0 49 16-48-1z" color="#08df98"/><path class="m" d="M3810 2604l50 17M3760 2635l50-31M4798 3029l48 37M4749 3035l49-6M4894 3063l49 16M4846 3066l48-3M4991 3079l49 16M4943 3079l48 0M4992 3094l48 1"/><path d="M3394 2896l49-31 12-18-49 31z" color="#43c700"/><path class="m" d="M3443 2865l12-18M3394 2896l12-18"/><path d="M3490 2800l49-31 24-25-49 32z" color="#a3c700"/><path d="M3588 2725l49-32 24-14-49 32z" color="#c79c08"/><path d="M3686 2670l50-32 24-3-49 32z" color="#e37c08"/><path d="M3886 2643l49-30 26 28-50 30z" color="#ff993d"/><path d="M3986 2674l50-29 25 36-50 28z" color="#ffb230"/><path d="M4086 2718l50-27 25 36-50 27z" color="#ffe12b"/><path d="M4186 2762l49-25 25 34-49 25z" color="#e7ff2c"/><path d="M4285 2807l50-22 24 35-49 22z" color="#b7ff25"/><path d="M4384 2856l49-19 25 36-50 19z" color="#80ff20"/><path d="M4482 2909l49-17 24 36-49 16z" color="#44ff1b"/><path d="M4580 2962l49-13 24 34-49 12z" color="#17fe29"/><path d="M4677 3015l48-10 24 30-48 9z" color="#12fb5e"/><path class="m" d="M3539 2769l24-25M3637 2693l24-14M3736 2638l24-3M3935 2613l26 28M4036 2645l25 36M4136 2691l25 36M4235 2737l25 34M4335 2785l24 35M4433 2837l25 36M4531 2892l24 36M4629 2949l24 34M4725 3005l24 30"/><path d="M3406 2878l49-31 12-17-49 31z" color="#57c700"/><path class="m" d="M3455 2847l12-17M3406 2878l12-17"/><path d="M3418 2861l49-31 23-30-49 32z" color="#72c700"/><path d="M3514 2776l49-32 25-19-50 32z" color="#b2ba08"/><path d="M3612 2711l49-32 25-9-50 32z" color="#d59308"/><path d="M3811 2652l49-31 26 22-50 32z" color="#ff9a40"/><path d="M3911 2671l50-30 25 33-50 30z" color="#ffaa37"/><path d="M4011 2709l50-28 25 37-50 28z" color="#ffce2e"/><path d="M4111 2754l50-27 25 35-50 27z" color="#f7ff2f"/><path d="M4211 2796l49-25 25 36-50 24z" color="#ccff2a"/><path d="M4310 2842l49-22 25 36-50 22z" color="#9aff25"/><path d="M4408 2892l50-19 24 36-49 19z" color="#63ff20"/><path d="M4506 2944l49-16 25 34-50 16z" color="#28ff1c"/><path d="M4604 2995l49-12 24 32-49 12z" color="#17fe43"/><path class="m" d="M3467 2830l23-30M3418 2861l23-29M3418 2861l49-31M3563 2744l25-19M3514 2776l49-32M3661 2679l25-9M3612 2711l49-32M3860 2621l26 22M3811 2652l49-31M3961 2641l25 33M3911 2671l50-30M4061 2681l25 37M4011 2709l50-28M4161 2727l25 35M4111 2754l50-27M4260 2771l25 36M4211 2796l49-25M4359 2820l25 36M4310 2842l49-22M4458 2873l24 36M4408 2892l50-19M4555 2928l25 34M4506 2944l49-16M4653 2983l24 32M4604 2995l49-12"/><path d="M3711 2667l49-32 51 17-50 33z" color="#ff901c"/><path d="M4701 3044l48-9 49 37-49 8z" color="#0df871"/><path d="M4798 3072l48-6 49 16-48 5z" color="#08e77c"/><path d="M4895 3082l48-3 49 15-48 3z" color="#08e288"/><path class="m" d="M3760 2635l51 17M3711 2667l49-32M4749 3035l49 37M4701 3044l48-9M4846 3066l49 16M4798 3072l48-6M4943 3079l49 15M4895 3082l48-3M4944 3097l48-3"/><path d="M3441 2832l49-32 24-24-49 32z" color="#93c700"/><path d="M3538 2757l50-32 24-14-49 32z" color="#c7b008"/><path d="M3636 2702l50-32 25-3-50 32z" color="#e38e08"/><path d="M3836 2675l50-32 25 28-50 32z" color="#ffa73e"/><path d="M3936 2704l50-30 25 35-49 31z" color="#ffc132"/><path d="M4036 2746l50-28 25 36-49 29z" color="#fff32e"/><path d="M4136 2789l50-27 25 34-50 27z" color="#ddff2f"/><path d="M4235 2831l50-24 25 35-50 25z" color="#b1ff29"/><path d="M4334 2878l50-22 24 36-49 22z" color="#7eff24"/><path d="M4433 2928l49-19 24 35-49 19z" color="#47ff20"/><path d="M4530 2978l50-16 24 33-49 16z" color="#1cff2b"/><path d="M4628 3027l49-12 24 29-49 12z" color="#18fe5c"/><path class="m" d="M3490 2800l24-24M3441 2832l24-24M3588 2725l24-14M3686 2670l25-3M3886 2643l25 28M3986 2674l25 35M4086 2718l25 36M4186 2762l25 34M4285 2807l25 35M4384 2856l24 36M4482 2909l24 35M4580 2962l24 33M4677 3015l24 29"/><path d="M3465 2808l49-32 24-19-49 32z" color="#a4ba08"/><path d="M3563 2743l49-32 24-9-49 33z" color="#d5a608"/><path d="M3761 2685l50-33 25 23-50 32z" color="#ffa941"/><path d="M3861 2703l50-32 25 33-49 32z" color="#ffb938"/><path d="M3962 2740l49-31 25 37-49 31z" color="#ffe030"/><path d="M4062 2783l49-29 25 35-49 28z" color="#ebff31"/><path d="M4161 2823l50-27 24 35-49 27z" color="#c3ff2e"/><path d="M4260 2867l50-25 24 36-49 25z" color="#95ff29"/><path d="M4359 2914l49-22 25 36-50 22z" color="#63ff25"/><path d="M4457 2963l49-19 24 34-49 19z" color="#2dff21"/><path d="M4555 3011l49-16 24 32-49 16z" color="#1dff45"/><path class="m" d="M3514 2776l24-19M3465 2808l24-19M3465 2808l49-32M3612 2711l24-9M3563 2743l49-32M3811 2652l25 23M3761 2685l50-33M3911 2671l25 33M3861 2703l50-32M4011 2709l25 37M3962 2740l49-31M4111 2754l25 35M4062 2783l49-29M4211 2796l24 35M4161 2823l50-27M4310 2842l24 36M4260 2867l50-25M4408 2892l25 36M4359 2914l49-22M4506 2944l24 34M4457 2963l49-19M4604 2995l24 32M4555 3011l49-16"/><path d="M3661 2699l50-32 50 18-50 33z" color="#ffa31d"/><path d="M4652 3056l49-12 48 36-49 12z" color="#12fb6d"/><path d="M4749 3080l49-8 49 15-49 9z" color="#08ea73"/><path d="M4847 3087l48-5 49 15-48 5z" color="#08e57b"/><path class="m" d="M3711 2667l50 18M3661 2699l50-32M4701 3044l48 36M4652 3056l49-12M4798 3072l49 15M4749 3080l49-8M4895 3082l49 15M4847 3087l48-5M4896 3102l48-5"/><path d="M3489 2789l49-32 25-14-50 33z" color="#c5c708"/><path d="M3587 2735l49-33 25-3-49 33z" color="#e4a208"/><path d="M3786 2707l50-32 25 28-49 33z" color="#ffb73f"/><path d="M3887 2736l49-32 26 36-50 32z" color="#ffd334"/><path d="M3987 2777l49-31 26 37-50 30z" color="#f7ff30"/><path d="M4087 2817l49-28 25 34-49 29z" color="#d2ff32"/><path d="M4186 2858l49-27 25 36-49 27z" color="#a9ff2d"/><path d="M4285 2903l49-25 25 36-50 25z" color="#7aff29"/><path d="M4383 2950l50-22 24 35-49 22z" color="#48ff25"/><path d="M4481 2997l49-19 25 33-49 19z" color="#22ff30"/><path d="M4579 3043l49-16 24 29-49 16z" color="#1eff5c"/><path class="m" d="M3538 2757l25-14M3489 2789l24-13M3636 2702l25-3M3836 2675l25 28M3936 2704l26 36M4036 2746l26 37M4136 2789l25 34M4235 2831l25 36M4334 2878l25 36M4433 2928l24 35M4530 2978l25 33M4628 3027l24 29"/><path d="M3513 2776l50-33 24-8-49 33z" color="#d6bc08"/><path d="M3711 2718l50-33 25 22-49 34z" color="#ffb942"/><path d="M3812 2736l49-33 26 33-50 33z" color="#ffcb3a"/><path d="M3912 2772l50-32 25 37-50 32z" color="#fff632"/><path d="M4012 2813l50-30 25 34-50 31z" color="#deff34"/><path d="M4112 2852l49-29 25 35-50 29z" color="#b8ff30"/><path d="M4211 2894l49-27 25 36-50 27z" color="#8eff2c"/><path d="M4309 2939l50-25 24 36-49 24z" color="#5fff29"/><path d="M4408 2985l49-22 24 34-49 21z" color="#2eff26"/><path d="M4506 3030l49-19 24 32-49 18z" color="#23ff49"/><path class="m" d="M3563 2743l24-8M3513 2776l25-8M3513 2776l50-33M3761 2685l25 22M3711 2718l50-33M3861 2703l26 33M3812 2736l49-33M3962 2740l25 37M3912 2772l50-32M4062 2783l25 34M4012 2813l50-30M4161 2823l25 35M4112 2852l49-29M4260 2867l25 36M4211 2894l49-27M4359 2914l24 36M4309 2939l50-25M4457 2963l24 34M4408 2985l49-22M4555 3011l24 32M4506 3030l49-19"/><path d="M3612 2732l49-33 50 19-49 34z" color="#ffb71e"/><path d="M4603 3072l49-16 48 36-48 15z" color="#17fe6c"/><path d="M4700 3092l49-12 49 16-49 12z" color="#08ed6c"/><path d="M4798 3096l49-9 49 15-49 8z" color="#08e771"/><path class="m" d="M3661 2699l50 19M3612 2732l49-33M4652 3056l48 36M4603 3072l49-16M4749 3080l49 16M4700 3092l49-12M4847 3087l49 15M4798 3096l49-9M4847 3110l49-8"/><path d="M3538 2768l49-33 25-3-50 34z" color="#e4b808"/><path d="M3737 2741l49-34 26 29-50 34z" color="#ffc940"/><path d="M3837 2769l50-33 25 36-50 33z" color="#ffe835"/><path d="M3937 2809l50-32 25 36-50 33z" color="#e8ff32"/><path d="M4037 2848l50-31 25 35-50 31z" color="#c5ff34"/><path d="M4136 2887l50-29 25 36-50 29z" color="#9eff30"/><path d="M4235 2930l50-27 24 36-49 27z" color="#73ff2c"/><path d="M4334 2974l49-24 25 35-50 24z" color="#45ff2a"/><path d="M4432 3018l49-21 25 33-50 21z" color="#27ff37"/><path d="M4530 3061l49-18 24 29-49 17z" color="#24ff5f"/><path class="m" d="M3587 2735l25-3M3538 2768l24-2M3786 2707l26 29M3887 2736l25 36M3987 2777l25 36M4087 2817l25 35M4186 2858l25 36M4285 2903l24 36M4383 2950l25 35M4481 2997l25 33M4579 3043l24 29"/><path d="M3662 2752l49-34 26 23-50 34z" color="#ffcb42"/><path d="M3762 2770l50-34 25 33-49 34z" color="#ffdf3a"/><path d="M3862 2805l50-33 25 37-49 34z" color="#f2ff33"/><path d="M3962 2846l50-33 25 35-49 33z" color="#cfff36"/><path d="M4062 2883l50-31 24 35-49 32z" color="#acff33"/><path d="M4161 2923l50-29 24 36-49 29z" color="#84ff2f"/><path d="M4260 2966l49-27 25 35-49 27z" color="#59ff2d"/><path d="M4358 3009l50-24 24 33-49 24z" color="#2dff2b"/><path d="M4456 3051l50-21 24 31-49 21z" color="#28ff4f"/><path class="m" d="M3711 2718l26 23M3662 2752l49-34M3812 2736l25 33M3762 2770l50-34M3912 2772l25 37M3862 2805l50-33M4012 2813l25 35M3962 2846l50-33M4112 2852l24 35M4062 2883l50-31M4211 2894l24 36M4161 2923l50-29M4309 2939l25 35M4260 2966l49-27M4408 2985l24 33M4358 3009l50-24M4506 3030l24 31M4456 3051l50-21"/><path d="M3562 2766l50-34 50 20-49 34z" color="#ffcd1f"/><path d="M4554 3089l49-17 49 35-49 17z" color="#1cff6e"/><path d="M4652 3107l48-15 49 16-48 14z" color="#08ef67"/><path d="M4749 3108l49-12 49 14-48 10z" color="#08e969"/><path class="m" d="M3612 2732l50 20M3562 2766l51 20M3562 2766l50-34M4603 3072l49 35M4554 3089l49-17M4700 3092l49 16M4652 3107l48-15M4798 3096l49 14M4749 3108l49-12M4799 3120l48-10"/><path d="M3687 2775l50-34 25 29-49 35z" color="#ffdc40"/><path d="M3788 2803l49-34 25 36-49 35z" color="#fbff36"/><path d="M3888 2843l49-34 25 37-49 34z" color="#d8ff34"/><path d="M3988 2881l49-33 25 35-49 33z" color="#b7ff36"/><path d="M4087 2919l49-32 25 36-49 32z" color="#92ff32"/><path d="M4186 2959l49-29 25 36-49 29z" color="#6aff30"/><path d="M4285 3001l49-27 24 35-49 27z" color="#41ff2e"/><path d="M4383 3042l49-24 24 33-49 24z" color="#2cff41"/><path d="M4481 3082l49-21 24 28-49 21z" color="#29ff65"/><path class="m" d="M3737 2741l25 29M3837 2769l25 36M3937 2809l25 37M4037 2848l25 35M4136 2887l25 36M4235 2930l25 36M4334 2974l24 35M4432 3018l24 33M4530 3061l24 28"/><path d="M3613 2786l49-34 25 23-49 35z" color="#ffdf43"/><path d="M3713 2805l49-35 26 33-50 36z" color="#fff93b"/><path d="M3813 2840l49-35 26 38-50 35z" color="#e1ff34"/><path d="M3913 2880l49-34 26 35-50 34z" color="#bfff37"/><path d="M4013 2916l49-33 25 36-49 33z" color="#9eff35"/><path d="M4112 2955l49-32 25 36-49 32z" color="#79ff32"/><path d="M4211 2995l49-29 25 35-50 29z" color="#51ff30"/><path d="M4309 3036l49-27 25 33-49 27z" color="#2fff34"/><path d="M4407 3075l49-24 25 31-49 23z" color="#2dff58"/><path class="m" d="M3662 2752l25 23M3613 2786l25 24M3613 2786l49-34M3762 2770l26 33M3713 2805l49-35M3862 2805l26 38M3813 2840l49-35M3962 2846l26 35M3913 2880l49-34M4062 2883l25 36M4013 2916l49-33M4161 2923l25 36M4112 2955l49-32M4260 2966l25 35M4211 2995l49-29M4358 3009l25 33M4309 3036l49-27M4456 3051l25 31M4407 3075l49-24"/><path d="M4505 3110l49-21 49 35-49 21z" color="#21ff72"/><path d="M4603 3124l49-17 49 15-49 17z" color="#08f166"/><path d="M4701 3122l48-14 50 12-49 14z" color="#08eb63"/><path class="m" d="M4554 3089l49 35M4505 3110l49-21M4652 3107l49 15M4603 3124l49-17M4749 3108l50 12M4701 3122l48-14M4750 3134l49-14"/><path d="M3638 2810l49-35 26 30-50 35z" color="#fff440"/><path d="M3738 2839l50-36 25 37-49 36z" color="#e9ff36"/><path d="M3838 2878l50-35 25 37-49 35z" color="#c7ff35"/><path d="M3938 2915l50-34 25 35-50 35z" color="#a7ff38"/><path d="M4038 2952l49-33 25 36-49 33z" color="#85ff34"/><path d="M4137 2991l49-32 25 36-50 31z" color="#60ff32"/><path d="M4235 3030l50-29 24 35-49 29z" color="#3aff31"/><path d="M4334 3069l49-27 24 33-49 26z" color="#30ff4c"/><path d="M4432 3105l49-23 24 28-49 23z" color="#2eff6d"/><path class="m" d="M3687 2775l26 30M3638 2810l25 30M3788 2803l25 37M3888 2843l25 37M3988 2881l25 35M4087 2919l25 36M4186 2959l25 36M4285 3001l24 35M4383 3042l24 33M4481 3082l24 28"/><path d="M3663 2840l50-35 25 34-49 35z" color="#f0ff3b"/><path d="M3764 2876l49-36 25 38-49 36z" color="#cfff34"/><path d="M3864 2915l49-35 25 35-49 36z" color="#afff38"/><path d="M3963 2951l50-35 25 36-50 35z" color="#8fff37"/><path d="M4063 2988l49-33 25 36-50 33z" color="#6cff34"/><path d="M4161 3026l50-31 24 35-49 32z" color="#48ff33"/><path d="M4260 3065l49-29 25 33-49 29z" color="#32ff41"/><path d="M4358 3101l49-26 25 30-49 26z" color="#31ff62"/><path class="m" d="M3713 2805l25 34M3663 2840l26 34M3663 2840l50-35M3813 2840l25 38M3764 2876l49-36M3913 2880l25 35M3864 2915l49-35M4013 2916l25 36M3963 2951l50-35M4112 2955l25 36M4063 2988l49-33M4211 2995l24 35M4161 3026l50-31M4309 3036l25 33M4260 3065l49-29M4407 3075l25 30M4358 3101l49-26"/><path d="M4456 3133l49-23 49 35-49 22z" color="#25ff79"/><path d="M4554 3145l49-21 49 15-49 20z" color="#08f367"/><path d="M4652 3139l49-17 49 12-49 16z" color="#08ec61"/><path class="m" d="M4505 3110l49 35M4456 3133l49-23M4603 3124l49 15M4554 3145l49-21M4701 3122l49 12M4652 3139l49-17M4701 3150l49-16"/><path d="M3689 2874l49-35 26 37-49 36z" color="#d7ff36"/><path d="M3789 2914l49-36 26 37-49 37z" color="#b4ff35"/><path d="M3889 2951l49-36 25 36-49 36z" color="#97ff39"/><path d="M3988 2987l50-35 25 36-50 35z" color="#76ff36"/><path d="M4087 3024l50-33 24 35-49 34z" color="#53ff35"/><path d="M4186 3062l49-32 25 35-49 31z" color="#34ff38"/><path d="M4285 3098l49-29 24 32-49 29z" color="#34ff59"/><path d="M4383 3131l49-26 24 28-49 26z" color="#33ff76"/><path class="m" d="M3738 2839l26 37M3689 2874l26 38M3838 2878l26 37M3938 2915l25 36M4038 2952l25 36M4137 2991l24 35M4235 3030l25 35M4334 3069l24 32M4432 3105l24 28"/><path d="M3715 2912l49-36 25 38-49 37z" color="#bcff34"/><path d="M3815 2952l49-37 25 36-49 37z" color="#9dff39"/><path d="M3914 2987l49-36 25 36-49 36z" color="#7eff38"/><path d="M4013 3023l50-35 24 36-49 35z" color="#5dff36"/><path d="M4112 3060l49-34 25 36-49 33z" color="#3cff36"/><path d="M4211 3096l49-31 25 33-50 31z" color="#36ff50"/><path d="M4309 3130l49-29 25 30-50 29z" color="#35ff6e"/><path class="m" d="M3764 2876l25 38M3715 2912l25 39M3715 2912l49-36M3864 2915l25 36M3815 2952l49-37M3963 2951l25 36M3914 2987l49-36M4063 2988l24 36M4013 3023l50-35M4161 3026l25 36M4112 3060l49-34M4260 3065l25 33M4211 3096l49-31M4358 3101l25 30M4309 3130l49-29"/><path d="M4407 3159l49-26 49 34-49 26z" color="#28ff81"/><path d="M4505 3167l49-22 49 14-49 22z" color="#08f46a"/><path d="M4603 3159l49-20 49 11-49 19z" color="#08ed60"/><path class="m" d="M4456 3133l49 34M4407 3159l49-26M4554 3145l49 14M4505 3167l49-22M4652 3139l49 11M4603 3159l49-20M4652 3169l49-19"/><path d="M3740 2951l49-37 26 38-49 37z" color="#a1ff35"/><path d="M3840 2988l49-37 25 36-49 37z" color="#85ff39"/><path d="M3939 3023l49-36 25 36-49 36z" color="#66ff38"/><path d="M4038 3059l49-35 25 36-49 35z" color="#45ff37"/><path d="M4137 3095l49-33 25 34-49 33z" color="#37ff48"/><path d="M4235 3129l50-31 24 32-49 31z" color="#37ff67"/><path d="M4333 3160l50-29 24 28-49 28z" color="#37ff81"/><path class="m" d="M3789 2914l26 38M3740 2951l26 38M3889 2951l25 36M3988 2987l25 36M4087 3024l25 36M4186 3062l25 34M4285 3098l24 32M4383 3131l24 28"/><path d="M3766 2989l49-37 25 36-49 38z" color="#8aff39"/><path d="M3865 3024l49-37 25 36-49 37z" color="#6dff39"/><path d="M3964 3059l49-36 25 36-49 37z" color="#4dff38"/><path d="M4063 3095l49-35 25 35-49 35z" color="#38ff41"/><path d="M4162 3129l49-33 24 33-49 33z" color="#39ff60"/><path d="M4260 3161l49-31 24 30-49 31z" color="#39ff7b"/><path class="m" d="M3815 2952l25 36M3766 2989l25 37M3766 2989l49-37M3914 2987l25 36M3865 3024l49-37M4013 3023l25 36M3964 3059l49-36M4112 3060l25 35M4063 3095l49-35M4211 3096l24 33M4162 3129l49-33M4309 3130l24 30M4260 3161l49-31"/><path d="M4358 3187l49-28 49 34-49 27z" color="#2bff8a"/><path d="M4456 3193l49-26 49 14-49 25z" color="#09f571"/><path d="M4554 3181l49-22 49 10-49 21z" color="#08ee63"/><path class="m" d="M4407 3159l49 34M4358 3187l49-28M4505 3167l49 14M4456 3193l49-26M4603 3159l49 10M4554 3181l49-22M4603 3190l49-21"/><path d="M3791 3026l49-38 25 36-49 38z" color="#73ff3a"/><path d="M3890 3060l49-37 25 36-49 38z" color="#54ff39"/><path d="M3989 3096l49-37 25 36-49 37z" color="#38ff3b"/><path d="M4088 3130l49-35 25 34-49 35z" color="#39ff59"/><path d="M4186 3162l49-33 25 32-49 33z" color="#3aff76"/><path d="M4284 3191l49-31 25 27-49 31z" color="#3aff8d"/><path class="m" d="M3840 2988l25 36M3791 3026l25 36M3939 3023l25 36M4038 3059l25 36M4137 3095l25 34M4235 3129l25 32M4333 3160l25 27"/><path d="M3816 3062l49-38 25 36-49 39z" color="#5aff39"/><path d="M3915 3097l49-38 25 37-49 38z" color="#3cff39"/><path d="M4014 3132l49-37 25 35-49 37z" color="#3aff53"/><path d="M4113 3164l49-35 24 33-49 35z" color="#3bff70"/><path d="M4211 3194l49-33 24 30-49 32z" color="#3cff89"/><path class="m" d="M3865 3024l25 36M3816 3062l25 37M3816 3062l49-38M3964 3059l25 37M3915 3097l49-38M4063 3095l25 35M4014 3132l49-37M4162 3129l24 33M4113 3164l49-35M4260 3161l24 30M4211 3194l49-33"/><path d="M4309 3218l49-31 49 33-49 30z" color="#2dff96"/><path d="M4407 3220l49-27 49 13-49 27z" color="#09f57a"/><path d="M4505 3206l49-25 49 9-49 23z" color="#08ee67"/><path class="m" d="M4358 3187l49 33M4309 3218l49-31M4456 3193l49 13M4407 3220l49-27M4554 3181l49 9M4505 3206l49-25M4554 3213l49-23"/><path d="M3841 3099l49-39 25 37-49 39z" color="#42ff39"/><path d="M3940 3134l49-38 25 36-49 38z" color="#3aff4e"/><path d="M4039 3167l49-37 25 34-49 37z" color="#3bff6b"/><path d="M4137 3197l49-35 25 32-49 35z" color="#3dff85"/><path d="M4235 3223l49-32 25 27-49 32z" color="#3dff9b"/><path class="m" d="M3890 3060l25 37M3841 3099l25 37M3989 3096l25 36M4088 3130l25 34M4186 3162l25 32M4284 3191l25 27"/><path d="M3866 3136l49-39 25 37-49 39z" color="#3aff49"/><path d="M3965 3170l49-38 25 35-49 38z" color="#3bff66"/><path d="M4064 3201l49-37 24 33-48 37z" color="#3dff81"/><path d="M4162 3229l49-35 24 29-48 35z" color="#3eff99"/><path class="m" d="M3915 3097l25 37M3866 3136l25 37M3866 3136l49-39M4014 3132l25 35M3965 3170l49-38M4113 3164l24 33M4064 3201l49-37M4211 3194l24 29M4162 3229l49-35"/><path d="M4260 3250l49-32 49 32-49 32z" color="#2fffa2"/><path d="M4358 3250l49-30 49 13-49 29z" color="#09f684"/><path d="M4456 3233l49-27 49 7-49 26z" color="#08ee6e"/><path class="m" d="M4309 3218l49 32M4260 3250l49-32M4407 3220l49 13M4358 3250l49-30M4505 3206l49 7M4456 3233l49-27M4505 3239l49-26"/><path d="M3891 3173l49-39 25 36-49 40z" color="#3bff62"/><path d="M3990 3205l49-38 25 34-49 39z" color="#3dff7e"/><path d="M4089 3234l48-37 25 32-49 37z" color="#3fff96"/><path d="M4187 3258l48-35 25 27-49 35z" color="#3fffa9"/><path class="m" d="M3940 3134l25 36M3891 3173l25 37M4039 3167l25 34M4137 3197l25 32M4235 3223l25 27"/><path d="M3916 3210l49-40 25 35-49 40z" color="#3cff7a"/><path d="M4015 3240l49-39 25 33-49 39z" color="#3eff93"/><path d="M4113 3266l49-37 25 29-49 37z" color="#40ffa9"/><path class="m" d="M3965 3170l25 35M3916 3210l25 35M3916 3210l49-40M4064 3201l25 33M4015 3240l49-39M4162 3229l25 29M4113 3266l49-37"/><path d="M4211 3285l49-35 49 32-49 35z" color="#2fffb0"/><path d="M4309 3282l49-32 49 12-49 32z" color="#09f691"/><path d="M4407 3262l49-29 49 6-49 28z" color="#08ee77"/><path class="m" d="M4260 3250l49 32M4211 3285l49-35M4358 3250l49 12M4309 3282l49-32M4456 3233l49 6M4407 3262l49-29M4456 3267l49-28"/><path d="M3941 3245l49-40 25 35-49 40z" color="#3eff91"/><path d="M4040 3273l49-39 24 32-49 38z" color="#40ffa8"/><path d="M4138 3295l49-37 24 27-49 37z" color="#41ffb9"/><path class="m" d="M3990 3205l25 35M3941 3245l25 35M4089 3234l24 32M4187 3258l24 27"/><path d="M3966 3280l49-40 25 33-49 40z" color="#40ffa6"/><path d="M4064 3304l49-38 25 29-49 39z" color="#42ffba"/><path class="m" d="M4015 3240l25 33M3966 3280l25 33M3966 3280l49-40M4113 3266l25 29M4064 3304l49-38"/><path d="M4162 3322l49-37 49 32-49 36z" color="#30ffc0"/><path d="M4260 3317l49-35 49 12-49 33z" color="#09f6a0"/><path d="M4358 3294l49-32 49 5-49 31z" color="#08ed82"/><path class="m" d="M4211 3285l49 32M4162 3322l49-37M4309 3282l49 12M4260 3317l49-35M4407 3262l49 5M4358 3294l49-32M4407 3298l49-31"/><path d="M3991 3313l49-40 24 31-48 41z" color="#42ffba"/><path d="M4089 3334l49-39 24 27-48 38z" color="#43ffc9"/><path class="m" d="M4040 3273l24 31M3991 3313l25 32M4138 3295l24 27"/><path d="M4016 3345l48-41 25 30-49 40z" color="#43ffcb"/><path class="m" d="M4064 3304l25 30M4016 3345l24 29M4016 3345l48-41"/><path d="M4114 3360l48-38 49 31-48 38z" color="#30ffd1"/><path d="M4211 3353l49-36 49 10-49 36z" color="#09f5b0"/><path d="M4309 3327l49-33 49 4-49 32z" color="#08ed8f"/><path class="m" d="M4162 3322l49 31M4114 3360l48-38M4260 3317l49 10M4211 3353l49-36M4358 3294l49 4M4309 3327l49-33M4358 3330l49-32"/><path d="M4040 3374l49-40 25 26-49 40z" color="#44ffda"/><path class="m" d="M4089 3334l25 26M4040 3374l25 26"/><path d="M4065 3400l49-40 49 31-49 40z" color="#30ffe3"/><path d="M4163 3391l48-38 49 10-48 37z" color="#09f5c2"/><path d="M4260 3363l49-36 49 3-48 35z" color="#08ec9d"/><path class="m" d="M4114 3360l49 31M4065 3400l49 31M4065 3400l49-40M4211 3353l49 10M4163 3391l48-38M4309 3327l49 3M4260 3363l49-36M4310 3365l48-35"/><path d="M4114 3431l49-40 49 9-49 39z" color="#08f4d6"/><path d="M4212 3400l48-37 50 2-49 36z" color="#08ebae"/><path class="m" d="M4163 3391l49 9M4114 3431l49 8M4114 3431l49-40M4260 3363l50 2M4212 3400l48-37M4261 3401l49-36"/><path d="M4163 3439l49-39 49 1-49 39z" color="#08eabf"/><path class="m" d="M4212 3400l49 1M4163 3439l49 1M4163 3439l49-39M4212 3440l49-39"/></g><circle cx="324.4" cy="333.3" r="1" fill="#111"/><circle cx="323.8" cy="319.3" r="1" fill="#111"/><circle cx="323.1" cy="305.4" r="1" fill="#111"/><circle cx="322.5" cy="291.5" r="1" fill="#111"/><circle cx="321.8" cy="277.5" r="1" fill="#111"/><circle cx="321.2" cy="263.6" r="1" fill="#111"/><circle cx="320.5" cy="249.6" r="1" fill="#111"/><circle cx="319.9" cy="235.7" r="1" fill="#111"/><circle cx="326.0" cy="365.8" r="1" fill="#111"/><circle cx="345.0" cy="374.8" r="1" fill="#111"/><circle cx="364.0" cy="383.8" r="1" fill="#111"/><circle cx="383.0" cy="392.8" r="1" fill="#111"/><circle cx="402.1" cy="401.8" r="1" fill="#111"/><circle cx="421.1" cy="410.8" r="1" fill="#111"/><circle cx="440.0" cy="401.8" r="1" fill="#111"/><circle cx="458.9" cy="392.9" r="1" fill="#111"/><circle cx="477.8" cy="383.9" r="1" fill="#111"/><circle cx="496.7" cy="374.9" r="1" fill="#111"/><circle cx="515.6" cy="365.9" r="1" fill="#111"/><g font-size="5.2" fill="#333"><text x="322.2" y="332.5" text-anchor="end">0</text><text x="321.6" y="318.5" text-anchor="end">2</text><text x="320.9" y="304.6" text-anchor="end">4</text><text x="320.3" y="290.6" text-anchor="end">6</text><text x="319.6" y="276.7" text-anchor="end">8</text><text x="319.0" y="262.7" text-anchor="end">10</text><text x="318.3" y="248.8" text-anchor="end">12</text><text x="317.7" y="234.9" text-anchor="end">14</text><text x="323.4" y="371.4" text-anchor="end">0</text><text x="342.4" y="380.4" text-anchor="end">-1</text><text x="361.4" y="389.4" text-anchor="end">-2</text><text x="380.4" y="398.4" text-anchor="end">-3</text><text x="399.5" y="407.4" text-anchor="end">-4</text><text x="418.5" y="416.4" text-anchor="end">-5</text><text x="423.3" y="416.4">500</text><text x="442.2" y="407.4">1000</text><text x="461.1" y="398.4">1500</text><text x="480.0" y="389.4">2000</text><text x="498.9" y="380.4">2500</text><text x="517.8" y="371.5">3000</text></g><text x="304.1" y="408.4" font-size="7.4" fill="#222" textLength="65.6" lengthAdjust="spacingAndGlyphs">B: DDA (log(mol.L<tspan font-size="4.6" dy="-2.6">-1</tspan><tspan dy="2.6">))</tspan></text><text x="468.5" y="408.8" font-size="7.4" fill="#222" textLength="73" lengthAdjust="spacingAndGlyphs">A: Stirring speed (RPM)</text><text transform="translate(292.4,302.3) rotate(-90)" font-size="7.4" fill="#222" text-anchor="middle" textLength="53.7" lengthAdjust="spacingAndGlyphs">Floc volume (mL)</text><rect x="325" y="234.9" width="33.4" height="19.6" rx="1" fill="#fff" stroke="#c8c8c8" stroke-width="0.5"/><text x="326.6" y="244.4" font-size="3.1" font-weight="bold" fill="#222" textLength="29.4" lengthAdjust="spacingAndGlyphs">Floc volume (mL)</text><text x="326.6" y="250.4" font-size="3" fill="#5a5ad8">0.3</text><text x="349.3" y="250.4" font-size="3" fill="#e06060">12.5</text><rect x="334.4" y="247.2" width="12.8" height="4.6" fill="url(#lg)"/><g font-family="'Liberation Serif',serif" font-size="12.6" fill="#111"><text x="131.2" y="439.6">(<tspan font-weight="bold" font-size="13.6">a</tspan>)</text><text x="404.9" y="439.6">(<tspan font-weight="bold" font-size="14.2" dx="0.3">b</tspan><tspan dx="0.4">)</tspan></text></g></svg></body></html>
